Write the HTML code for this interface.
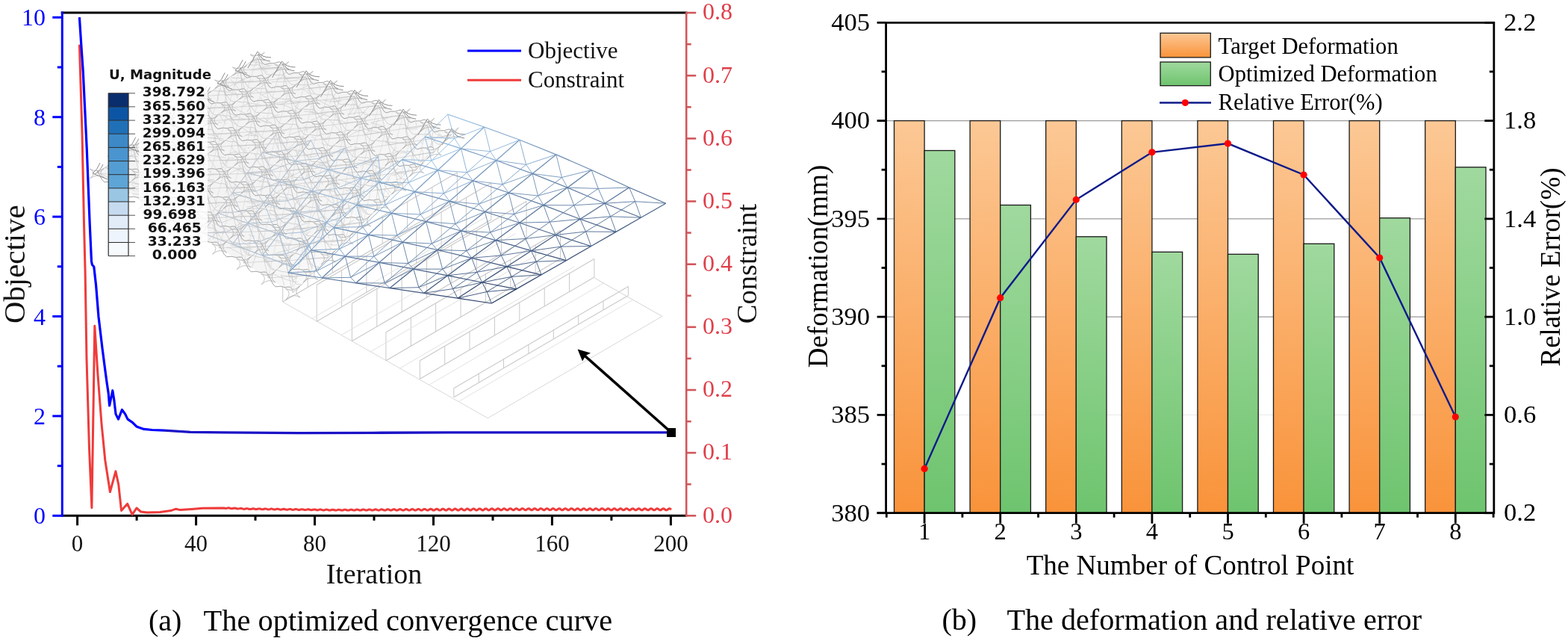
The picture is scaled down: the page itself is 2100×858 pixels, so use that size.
<!DOCTYPE html>
<html><head><meta charset="utf-8"><title>figure</title><style>
html,body{margin:0;padding:0;background:#fff;width:2100px;height:858px;overflow:hidden}
svg{display:block}
text{font-family:"Liberation Serif",serif}
.cb{font-family:"DejaVu Sans",sans-serif;font-weight:bold}
</style></head><body>
<svg width="2100" height="858" viewBox="0 0 2100 858">
<path d="M378.7,404.1 L653.2,559.7 L886.8,423.4" fill="none" stroke="#d8d8d8" stroke-width="1"/>
<path d="M378.7,404.1 L612.3,267.8 M378.7,367.4 L612.3,231.1" stroke="#c9c9c9" stroke-width="1.1" fill="none"/>
<line x1="378.7" y1="404.1" x2="378.7" y2="367.4" stroke="#c9c9c9" stroke-width="1"/>
<line x1="412.1" y1="384.6" x2="412.1" y2="347.9" stroke="#c9c9c9" stroke-width="1"/>
<line x1="445.4" y1="365.2" x2="445.4" y2="328.5" stroke="#c9c9c9" stroke-width="1"/>
<line x1="478.8" y1="345.7" x2="478.8" y2="309" stroke="#c9c9c9" stroke-width="1"/>
<line x1="512.2" y1="326.2" x2="512.2" y2="289.5" stroke="#c9c9c9" stroke-width="1"/>
<line x1="545.6" y1="306.7" x2="545.6" y2="270" stroke="#c9c9c9" stroke-width="1"/>
<line x1="578.9" y1="287.3" x2="578.9" y2="250.6" stroke="#c9c9c9" stroke-width="1"/>
<line x1="612.3" y1="267.8" x2="612.3" y2="231.1" stroke="#c9c9c9" stroke-width="1"/>
<path d="M424.2,430.3 L657.8,294 M424.2,381.3 L657.8,245" stroke="#c9c9c9" stroke-width="1.1" fill="none"/>
<line x1="424.2" y1="430.3" x2="424.2" y2="381.3" stroke="#c9c9c9" stroke-width="1"/>
<line x1="457.6" y1="410.8" x2="457.6" y2="361.8" stroke="#c9c9c9" stroke-width="1"/>
<line x1="490.9" y1="391.4" x2="490.9" y2="342.4" stroke="#c9c9c9" stroke-width="1"/>
<line x1="524.3" y1="371.9" x2="524.3" y2="322.9" stroke="#c9c9c9" stroke-width="1"/>
<line x1="557.7" y1="352.4" x2="557.7" y2="303.4" stroke="#c9c9c9" stroke-width="1"/>
<line x1="591.1" y1="332.9" x2="591.1" y2="283.9" stroke="#c9c9c9" stroke-width="1"/>
<line x1="624.4" y1="313.5" x2="624.4" y2="264.5" stroke="#c9c9c9" stroke-width="1"/>
<line x1="657.8" y1="294" x2="657.8" y2="245" stroke="#c9c9c9" stroke-width="1"/>
<path d="M471.4,456.6 L705,320.3 M471.4,405.9 L705,269.6" stroke="#c9c9c9" stroke-width="1.1" fill="none"/>
<line x1="471.4" y1="456.6" x2="471.4" y2="405.9" stroke="#c9c9c9" stroke-width="1"/>
<line x1="504.8" y1="437.1" x2="504.8" y2="386.4" stroke="#c9c9c9" stroke-width="1"/>
<line x1="538.1" y1="417.7" x2="538.1" y2="367" stroke="#c9c9c9" stroke-width="1"/>
<line x1="571.5" y1="398.2" x2="571.5" y2="347.5" stroke="#c9c9c9" stroke-width="1"/>
<line x1="604.9" y1="378.7" x2="604.9" y2="328" stroke="#c9c9c9" stroke-width="1"/>
<line x1="638.3" y1="359.2" x2="638.3" y2="308.5" stroke="#c9c9c9" stroke-width="1"/>
<line x1="671.6" y1="339.8" x2="671.6" y2="289.1" stroke="#c9c9c9" stroke-width="1"/>
<line x1="705" y1="320.3" x2="705" y2="269.6" stroke="#c9c9c9" stroke-width="1"/>
<path d="M516.9,482.8 L750.5,346.5 M516.9,444.8 L750.5,308.5" stroke="#c9c9c9" stroke-width="1.1" fill="none"/>
<line x1="516.9" y1="482.8" x2="516.9" y2="444.8" stroke="#c9c9c9" stroke-width="1"/>
<line x1="550.3" y1="463.3" x2="550.3" y2="425.3" stroke="#c9c9c9" stroke-width="1"/>
<line x1="583.6" y1="443.9" x2="583.6" y2="405.9" stroke="#c9c9c9" stroke-width="1"/>
<line x1="617" y1="424.4" x2="617" y2="386.4" stroke="#c9c9c9" stroke-width="1"/>
<line x1="650.4" y1="404.9" x2="650.4" y2="366.9" stroke="#c9c9c9" stroke-width="1"/>
<line x1="683.8" y1="385.4" x2="683.8" y2="347.4" stroke="#c9c9c9" stroke-width="1"/>
<line x1="717.1" y1="366" x2="717.1" y2="328" stroke="#c9c9c9" stroke-width="1"/>
<line x1="750.5" y1="346.5" x2="750.5" y2="308.5" stroke="#c9c9c9" stroke-width="1"/>
<path d="M562.3,507.3 L795.9,371 M562.3,482.8 L795.9,346.5" stroke="#c9c9c9" stroke-width="1.1" fill="none"/>
<line x1="562.3" y1="507.3" x2="562.3" y2="482.8" stroke="#c9c9c9" stroke-width="1"/>
<line x1="595.7" y1="487.8" x2="595.7" y2="463.3" stroke="#c9c9c9" stroke-width="1"/>
<line x1="629" y1="468.4" x2="629" y2="443.9" stroke="#c9c9c9" stroke-width="1"/>
<line x1="662.4" y1="448.9" x2="662.4" y2="424.4" stroke="#c9c9c9" stroke-width="1"/>
<line x1="695.8" y1="429.4" x2="695.8" y2="404.9" stroke="#c9c9c9" stroke-width="1"/>
<line x1="729.2" y1="409.9" x2="729.2" y2="385.4" stroke="#c9c9c9" stroke-width="1"/>
<line x1="762.5" y1="390.5" x2="762.5" y2="366" stroke="#c9c9c9" stroke-width="1"/>
<line x1="795.9" y1="371" x2="795.9" y2="346.5" stroke="#c9c9c9" stroke-width="1"/>
<path d="M607.8,531.7 L841.4,395.4 M607.8,519.7 L841.4,383.4" stroke="#c9c9c9" stroke-width="1.1" fill="none"/>
<line x1="607.8" y1="531.7" x2="607.8" y2="519.7" stroke="#c9c9c9" stroke-width="1"/>
<line x1="641.2" y1="512.2" x2="641.2" y2="500.2" stroke="#c9c9c9" stroke-width="1"/>
<line x1="674.5" y1="492.8" x2="674.5" y2="480.8" stroke="#c9c9c9" stroke-width="1"/>
<line x1="707.9" y1="473.3" x2="707.9" y2="461.3" stroke="#c9c9c9" stroke-width="1"/>
<line x1="741.3" y1="453.8" x2="741.3" y2="441.8" stroke="#c9c9c9" stroke-width="1"/>
<line x1="774.7" y1="434.3" x2="774.7" y2="422.3" stroke="#c9c9c9" stroke-width="1"/>
<line x1="808" y1="414.9" x2="808" y2="402.9" stroke="#c9c9c9" stroke-width="1"/>
<line x1="841.4" y1="395.4" x2="841.4" y2="383.4" stroke="#c9c9c9" stroke-width="1"/>
<line x1="886.8" y1="423.4" x2="796.2" y2="372.1" stroke="#d4d4d4" stroke-width="1"/>
<line x1="417.9" y1="426.3" x2="651.5" y2="290" stroke="#e2e2e2" stroke-width="1"/>
<line x1="457.1" y1="448.6" x2="690.7" y2="312.3" stroke="#e2e2e2" stroke-width="1"/>
<line x1="496.3" y1="470.8" x2="729.9" y2="334.5" stroke="#e2e2e2" stroke-width="1"/>
<line x1="535.6" y1="493" x2="769.2" y2="356.7" stroke="#e2e2e2" stroke-width="1"/>
<line x1="574.8" y1="515.2" x2="808.4" y2="378.9" stroke="#e2e2e2" stroke-width="1"/>
<line x1="614" y1="537.5" x2="847.6" y2="401.2" stroke="#e2e2e2" stroke-width="1"/>
<defs><linearGradient id="fog" gradientUnits="userSpaceOnUse" x1="380" y1="170" x2="505" y2="295"><stop offset="0" stop-color="#f3f3f3"/><stop offset="0.7" stop-color="#f5f5f5"/><stop offset="1" stop-color="#fbfbfb"/></linearGradient></defs>
<path d="M345,77 L605,180 L392,392 L130,232 Z" fill="url(#fog)"/>
<path d="M345,72.5 L348.2,78.5 L351.5,84.3 L354.8,86.6 L358,85.8 L361.2,84.6 L364.5,84.7 L367.8,84.7 L371,83.4 L374.2,82.8 L377.5,85.4 L380.8,91.4 L384,97.2 L387.2,99.5 L390.5,98.6 L393.8,97.5 L397,97.6 L400.2,97.5 L403.5,96.3 L406.8,95.6 L410,98.3 L413.2,104.3 L416.5,110.1 L419.8,112.4 L423,111.5 L426.2,110.4 L429.5,110.4 L432.8,110.4 L436,109.2 L439.2,108.5 L442.5,111.2 L445.8,117.2 L449,122.9 L452.2,125.2 L455.5,124.4 L458.8,123.3 L462,123.3 L465.2,123.3 L468.5,122.1 L471.8,121.4 L475,124 L478.2,130 L481.5,135.8 L484.8,138.1 L488,137.3 L491.2,136.1 L494.5,136.2 L497.8,136.2 L501,134.9 L504.2,134.3 L507.5,136.9 L510.8,142.9 L514,148.7 L517.2,151 L520.5,150.1 L523.8,149 L527,149.1 L530.2,149 L533.5,147.8 L536.8,147.1 L540,149.8 L543.2,155.8 L546.5,161.6 L549.8,163.9 L553,163 L556.2,161.9 L559.5,161.9 L562.8,161.9 L566,160.7 L569.2,160 L572.5,162.7 L575.8,168.7 L579,174.4 L582.2,176.7 L585.5,175.9 L588.8,174.8 L592,174.8 L595.2,174.8 L598.5,173.6 L601.8,172.9 L605,175.5" fill="none" stroke="#a2a2a2" stroke-width="1.0"/>
<path d="M333.1,86.4 L336.3,86.9 L339.6,87.3 L342.8,86.9 L346.1,86.8 L349.3,89.1 L352.6,93.7 L355.8,98.2 L359.1,100.2 L362.3,100.1 L365.6,99.7 L368.8,100.2 L372.1,100.6 L375.3,100.2 L378.6,100.1 L381.8,102.4 L385.1,107 L388.3,111.5 L391.6,113.5 L394.8,113.3 L398.1,113 L401.3,113.5 L404.6,113.9 L407.8,113.4 L411.1,113.4 L414.3,115.7 L417.6,120.3 L420.8,124.8 L424.1,126.8 L427.3,126.6 L430.6,126.3 L433.8,126.7 L437.1,127.1 L440.4,126.7 L443.6,126.7 L446.9,128.9 L450.1,133.6 L453.4,138 L456.6,140.1 L459.9,139.9 L463.1,139.5 L466.4,140 L469.6,140.4 L472.9,140 L476.1,139.9 L479.4,142.2 L482.6,146.8 L485.9,151.3 L489.1,153.3 L492.4,153.2 L495.6,152.8 L498.9,153.3 L502.1,153.7 L505.4,153.3 L508.6,153.2 L511.9,155.5 L515.1,160.1 L518.4,164.6 L521.6,166.6 L524.9,166.4 L528.1,166.1 L531.4,166.5 L534.6,166.9 L537.9,166.5 L541.1,166.5 L544.4,168.8 L547.6,173.4 L550.9,177.8 L554.1,179.9 L557.4,179.7 L560.7,179.3 L563.9,179.8 L567.2,180.2 L570.4,179.8 L573.7,179.7 L576.9,182 L580.2,186.6 L583.4,191.1 L586.7,193.1 L589.9,193 L593.2,192.6" fill="none" stroke="#c2c2c2" stroke-width="0.7"/>
<path d="M321.1,89.8 L324.4,95.8 L327.6,101.7 L330.9,104.1 L334.1,103.3 L337.4,102.2 L340.6,102.4 L343.9,102.4 L347.1,101.3 L350.4,100.7 L353.6,103.4 L356.9,109.5 L360.1,115.4 L363.4,117.7 L366.6,117 L369.9,115.9 L373.2,116 L376.4,116.1 L379.7,115 L382.9,114.4 L386.2,117.1 L389.4,123.2 L392.7,129 L395.9,131.4 L399.2,130.6 L402.4,129.6 L405.7,129.7 L408.9,129.8 L412.2,128.6 L415.4,128 L418.7,130.8 L421.9,136.8 L425.2,142.7 L428.5,145.1 L431.7,144.3 L435,143.2 L438.2,143.4 L441.5,143.4 L444.7,142.3 L448,141.7 L451.2,144.4 L454.5,150.5 L457.7,156.4 L461,158.7 L464.2,158 L467.5,156.9 L470.7,157 L474,157.1 L477.2,156 L480.5,155.4 L483.8,158.1 L487,164.2 L490.3,170 L493.5,172.4 L496.8,171.6 L500,170.6 L503.3,170.7 L506.5,170.8 L509.8,169.6 L513,169 L516.3,171.8 L519.5,177.8 L522.8,183.7 L526,186.1 L529.3,185.3 L532.5,184.2 L535.8,184.4 L539,184.4 L542.3,183.3 L545.6,182.7 L548.8,185.4 L552.1,191.5 L555.3,197.4 L558.6,199.7 L561.8,199 L565.1,197.9 L568.3,198 L571.6,198.1 L574.8,197 L578.1,196.4 L581.3,199.1" fill="none" stroke="#a2a2a2" stroke-width="1.0"/>
<path d="M309.2,103.7 L312.4,104.2 L315.7,104.7 L318.9,104.4 L322.2,104.4 L325.4,106.7 L328.7,111.4 L331.9,116 L335.2,118.1 L338.5,118 L341.7,117.7 L345,118.3 L348.2,118.8 L351.5,118.4 L354.7,118.4 L358,120.8 L361.2,125.5 L364.5,130.1 L367.7,132.2 L371,132.1 L374.2,131.8 L377.5,132.3 L380.8,132.8 L384,132.5 L387.3,132.5 L390.5,134.9 L393.8,139.6 L397,144.1 L400.3,146.2 L403.5,146.1 L406.8,145.9 L410,146.4 L413.3,146.9 L416.6,146.5 L419.8,146.6 L423.1,148.9 L426.3,153.6 L429.6,158.2 L432.8,160.3 L436.1,160.2 L439.3,159.9 L442.6,160.5 L445.8,160.9 L449.1,160.6 L452.4,160.6 L455.6,163 L458.9,167.7 L462.1,172.2 L465.4,174.4 L468.6,174.3 L471.9,174 L475.1,174.5 L478.4,175 L481.6,174.7 L484.9,174.7 L488.1,177.1 L491.4,181.8 L494.7,186.3 L497.9,188.4 L501.2,188.3 L504.4,188 L507.7,188.6 L510.9,189.1 L514.2,188.7 L517.4,188.8 L520.7,191.1 L523.9,195.8 L527.2,200.4 L530.5,202.5 L533.7,202.4 L537,202.1 L540.2,202.6 L543.5,203.1 L546.7,202.8 L550,202.8 L553.2,205.2 L556.5,209.9 L559.7,214.4 L563,216.5 L566.2,216.4 L569.5,216.2" fill="none" stroke="#c2c2c2" stroke-width="0.7"/>
<path d="M297.2,107 L300.5,113.1 L303.7,119.1 L307,121.5 L310.2,120.8 L313.5,119.9 L316.8,120.1 L320,120.2 L323.3,119.2 L326.5,118.6 L329.8,121.4 L333,127.6 L336.3,133.5 L339.5,136 L342.8,135.3 L346.1,134.3 L349.3,134.5 L352.6,134.7 L355.8,133.6 L359.1,133.1 L362.3,135.9 L365.6,142 L368.8,148 L372.1,150.4 L375.4,149.7 L378.6,148.8 L381.9,149 L385.1,149.1 L388.4,148.1 L391.6,147.6 L394.9,150.4 L398.1,156.5 L401.4,162.5 L404.7,164.9 L407.9,164.2 L411.2,163.2 L414.4,163.5 L417.7,163.6 L420.9,162.5 L424.2,162 L427.4,164.8 L430.7,171 L434,176.9 L437.2,179.4 L440.5,178.7 L443.7,177.7 L447,177.9 L450.2,178 L453.5,177 L456.7,176.5 L460,179.3 L463.3,185.4 L466.5,191.4 L469.8,193.8 L473,193.1 L476.3,192.2 L479.5,192.4 L482.8,192.5 L486,191.5 L489.3,190.9 L492.6,193.7 L495.8,199.9 L499.1,205.8 L502.3,208.3 L505.6,207.6 L508.8,206.6 L512.1,206.8 L515.3,207 L518.6,205.9 L521.9,205.4 L525.1,208.2 L528.4,214.3 L531.6,220.3 L534.9,222.7 L538.1,222 L541.4,221.1 L544.6,221.3 L547.9,221.4 L551.2,220.4 L554.4,219.8 L557.7,222.7" fill="none" stroke="#a2a2a2" stroke-width="1.0"/>
<path d="M285.3,120.9 L288.5,121.5 L291.8,122.1 L295,121.8 L298.3,121.9 L301.6,124.4 L304.8,129.1 L308.1,133.8 L311.3,136 L314.6,135.9 L317.8,135.7 L321.1,136.4 L324.4,136.9 L327.6,136.7 L330.9,136.8 L334.1,139.2 L337.4,144 L340.6,148.6 L343.9,150.8 L347.2,150.8 L350.4,150.6 L353.7,151.2 L356.9,151.8 L360.2,151.5 L363.4,151.6 L366.7,154.1 L370,158.8 L373.2,163.5 L376.5,165.7 L379.7,165.7 L383,165.5 L386.2,166.1 L389.5,166.6 L392.8,166.4 L396,166.5 L399.3,168.9 L402.5,173.7 L405.8,178.3 L409,180.5 L412.3,180.5 L415.6,180.3 L418.8,180.9 L422.1,181.5 L425.3,181.2 L428.6,181.3 L431.8,183.8 L435.1,188.6 L438.4,193.2 L441.6,195.4 L444.9,195.4 L448.1,195.2 L451.4,195.8 L454.6,196.3 L457.9,196.1 L461.2,196.2 L464.4,198.6 L467.7,203.4 L470.9,208 L474.2,210.2 L477.4,210.2 L480.7,210 L484,210.6 L487.2,211.2 L490.5,210.9 L493.7,211.1 L497,213.5 L500.2,218.3 L503.5,222.9 L506.8,225.1 L510,225.1 L513.3,224.9 L516.5,225.5 L519.8,226.1 L523,225.8 L526.3,225.9 L529.5,228.3 L532.8,233.1 L536.1,237.8 L539.3,239.9 L542.6,239.9 L545.8,239.7" fill="none" stroke="#c2c2c2" stroke-width="0.7"/>
<path d="M273.3,124.2 L276.6,130.4 L279.9,136.5 L283.1,139 L286.4,138.4 L289.6,137.5 L292.9,137.8 L296.1,138 L299.4,137 L302.7,136.6 L305.9,139.5 L309.2,145.7 L312.4,151.7 L315.7,154.2 L318.9,153.6 L322.2,152.7 L325.5,153 L328.7,153.2 L332,152.3 L335.2,151.8 L338.5,154.7 L341.8,160.9 L345,167 L348.3,169.5 L351.5,168.9 L354.8,168 L358.1,168.3 L361.3,168.5 L364.6,167.5 L367.8,167.1 L371.1,170 L374.3,176.2 L377.6,182.2 L380.9,184.7 L384.1,184.1 L387.4,183.2 L390.6,183.5 L393.9,183.7 L397.1,182.8 L400.4,182.3 L403.7,185.2 L406.9,191.4 L410.2,197.5 L413.4,200 L416.7,199.4 L420,198.5 L423.2,198.8 L426.5,199 L429.7,198 L433,197.6 L436.2,200.5 L439.5,206.7 L442.8,212.7 L446,215.2 L449.3,214.6 L452.5,213.7 L455.8,214 L459.1,214.2 L462.3,213.3 L465.6,212.8 L468.8,215.7 L472.1,221.9 L475.4,228 L478.6,230.5 L481.9,229.9 L485.1,229 L488.4,229.3 L491.6,229.5 L494.9,228.5 L498.2,228.1 L501.4,231 L504.7,237.2 L507.9,243.2 L511.2,245.7 L514.5,245.1 L517.7,244.2 L521,244.5 L524.2,244.7 L527.5,243.8 L530.7,243.3 L534,246.2" fill="none" stroke="#a2a2a2" stroke-width="1.0"/>
<path d="M261.4,138.1 L264.6,138.8 L267.9,139.5 L271.2,139.3 L274.4,139.5 L277.7,142 L280.9,146.8 L284.2,151.6 L287.5,153.8 L290.7,153.9 L294,153.8 L297.2,154.5 L300.5,155.1 L303.8,154.9 L307,155.1 L310.3,157.6 L313.5,162.5 L316.8,167.2 L320.1,169.5 L323.3,169.5 L326.6,169.4 L329.8,170.1 L333.1,170.7 L336.4,170.6 L339.6,170.8 L342.9,173.3 L346.1,178.1 L349.4,182.8 L352.7,185.1 L355.9,185.2 L359.2,185 L362.4,185.8 L365.7,186.4 L369,186.2 L372.2,186.4 L375.5,188.9 L378.7,193.8 L382,198.5 L385.3,200.8 L388.5,200.8 L391.8,200.7 L395,201.4 L398.3,202 L401.6,201.9 L404.8,202 L408.1,204.6 L411.3,209.4 L414.6,214.1 L417.9,216.4 L421.1,216.5 L424.4,216.3 L427.6,217 L430.9,217.7 L434.2,217.5 L437.4,217.7 L440.7,220.2 L443.9,225.1 L447.2,229.8 L450.5,232 L453.7,232.1 L457,232 L460.2,232.7 L463.5,233.3 L466.8,233.2 L470,233.3 L473.3,235.9 L476.5,240.7 L479.8,245.4 L483.1,247.7 L486.3,247.8 L489.6,247.6 L492.8,248.3 L496.1,249 L499.3,248.8 L502.6,249 L505.9,251.5 L509.1,256.4 L512.4,261.1 L515.6,263.3 L518.9,263.4 L522.2,263.3" fill="none" stroke="#c2c2c2" stroke-width="0.7"/>
<path d="M249.4,141.4 L252.7,147.7 L256,153.8 L259.2,156.4 L262.5,155.9 L265.8,155.1 L269,155.5 L272.3,155.8 L275.5,154.9 L278.8,154.5 L282.1,157.5 L285.3,163.8 L288.6,169.9 L291.8,172.5 L295.1,171.9 L298.4,171.1 L301.6,171.5 L304.9,171.8 L308.1,170.9 L311.4,170.6 L314.7,173.5 L317.9,179.8 L321.2,185.9 L324.4,188.5 L327.7,188 L331,187.2 L334.2,187.6 L337.5,187.8 L340.8,187 L344,186.6 L347.3,189.6 L350.5,195.9 L353.8,202 L357.1,204.6 L360.3,204 L363.6,203.2 L366.8,203.6 L370.1,203.9 L373.4,203 L376.6,202.6 L379.9,205.6 L383.1,211.9 L386.4,218 L389.7,220.6 L392.9,220.1 L396.2,219.3 L399.5,219.6 L402.7,219.9 L406,219 L409.2,218.7 L412.5,221.6 L415.8,227.9 L419,234.1 L422.3,236.7 L425.5,236.1 L428.8,235.3 L432.1,235.7 L435.3,236 L438.6,235.1 L441.9,234.7 L445.1,237.7 L448.4,244 L451.6,250.1 L454.9,252.7 L458.2,252.2 L461.4,251.4 L464.7,251.7 L467.9,252 L471.2,251.1 L474.5,250.8 L477.7,253.7 L481,260 L484.2,266.1 L487.5,268.7 L490.8,268.2 L494,267.4 L497.3,267.8 L500.6,268 L503.8,267.2 L507.1,266.8 L510.3,269.8" fill="none" stroke="#a2a2a2" stroke-width="1.0"/>
<path d="M237.5,155.3 L240.8,156.1 L244,156.8 L247.3,156.7 L250.6,157 L253.8,159.6 L257.1,164.5 L260.3,169.3 L263.6,171.7 L266.9,171.8 L270.1,171.8 L273.4,172.6 L276.6,173.3 L279.9,173.2 L283.2,173.4 L286.4,176 L289.7,181 L293,185.8 L296.2,188.1 L299.5,188.3 L302.8,188.2 L306,189 L309.3,189.7 L312.5,189.6 L315.8,189.9 L319.1,192.5 L322.3,197.4 L325.6,202.2 L328.9,204.5 L332.1,204.7 L335.4,204.6 L338.6,205.4 L341.9,206.1 L345.2,206 L348.4,206.3 L351.7,208.9 L354.9,213.8 L358.2,218.6 L361.5,221 L364.7,221.1 L368,221.1 L371.3,221.9 L374.5,222.6 L377.8,222.5 L381.1,222.8 L384.3,225.4 L387.6,230.3 L390.8,235.1 L394.1,237.4 L397.4,237.6 L400.6,237.5 L403.9,238.3 L407.1,239 L410.4,238.9 L413.7,239.2 L416.9,241.8 L420.2,246.7 L423.5,251.5 L426.7,253.9 L430,254 L433.2,254 L436.5,254.7 L439.8,255.5 L443,255.4 L446.3,255.6 L449.6,258.2 L452.8,263.2 L456.1,268 L459.4,270.3 L462.6,270.4 L465.9,270.4 L469.1,271.2 L472.4,271.9 L475.7,271.8 L478.9,272.1 L482.2,274.7 L485.4,279.6 L488.7,284.4 L492,286.7 L495.2,286.9 L498.5,286.8" fill="none" stroke="#c2c2c2" stroke-width="0.7"/>
<path d="M225.6,158.7 L228.8,165 L232.1,171.2 L235.3,173.9 L238.6,173.4 L241.9,172.7 L245.1,173.2 L248.4,173.5 L251.7,172.7 L254.9,172.4 L258.2,175.5 L261.5,181.9 L264.7,188.1 L268,190.7 L271.2,190.3 L274.5,189.6 L277.8,190 L281,190.4 L284.3,189.6 L287.6,189.3 L290.8,192.3 L294.1,198.7 L297.4,204.9 L300.6,207.6 L303.9,207.1 L307.2,206.4 L310.4,206.8 L313.7,207.2 L316.9,206.4 L320.2,206.1 L323.5,209.2 L326.7,215.5 L330,221.7 L333.3,224.4 L336.5,223.9 L339.8,223.2 L343.1,223.7 L346.3,224 L349.6,223.2 L352.8,222.9 L356.1,226 L359.4,232.4 L362.6,238.6 L365.9,241.2 L369.2,240.8 L372.4,240.1 L375.7,240.5 L379,240.9 L382.2,240.1 L385.5,239.8 L388.8,242.8 L392,249.2 L395.3,255.4 L398.5,258.1 L401.8,257.6 L405.1,256.9 L408.3,257.3 L411.6,257.7 L414.9,256.9 L418.1,256.6 L421.4,259.7 L424.7,266 L427.9,272.2 L431.2,274.9 L434.4,274.4 L437.7,273.7 L441,274.2 L444.2,274.5 L447.5,273.7 L450.8,273.4 L454,276.5 L457.3,282.9 L460.6,289.1 L463.8,291.7 L467.1,291.3 L470.3,290.6 L473.6,291 L476.9,291.4 L480.1,290.6 L483.4,290.3 L486.7,293.3" fill="none" stroke="#a2a2a2" stroke-width="1.0"/>
<path d="M213.6,172.6 L216.9,173.4 L220.1,174.2 L223.4,174.2 L226.7,174.5 L229.9,177.2 L233.2,182.2 L236.5,187.1 L239.7,189.5 L243,189.8 L246.3,189.8 L249.5,190.6 L252.8,191.4 L256.1,191.4 L259.3,191.8 L262.6,194.4 L265.9,199.5 L269.1,204.3 L272.4,206.8 L275.7,207 L278.9,207 L282.2,207.9 L285.4,208.7 L288.7,208.7 L292,209 L295.2,211.7 L298.5,216.7 L301.8,221.6 L305,224 L308.3,224.2 L311.6,224.2 L314.8,225.1 L318.1,225.9 L321.4,225.9 L324.6,226.2 L327.9,228.9 L331.2,233.9 L334.4,238.8 L337.7,241.2 L341,241.4 L344.2,241.5 L347.5,242.3 L350.8,243.1 L354,243.1 L357.3,243.5 L360.5,246.1 L363.8,251.1 L367.1,256 L370.3,258.4 L373.6,258.7 L376.9,258.7 L380.1,259.6 L383.4,260.4 L386.7,260.3 L389.9,260.7 L393.2,263.4 L396.5,268.4 L399.7,273.2 L403,275.7 L406.3,275.9 L409.5,275.9 L412.8,276.8 L416.1,277.6 L419.3,277.6 L422.6,277.9 L425.9,280.6 L429.1,285.6 L432.4,290.5 L435.6,292.9 L438.9,293.1 L442.2,293.2 L445.4,294 L448.7,294.8 L452,294.8 L455.2,295.1 L458.5,297.8 L461.8,302.8 L465,307.7 L468.3,310.1 L471.6,310.4 L474.8,310.4" fill="none" stroke="#c2c2c2" stroke-width="0.7"/>
<path d="M201.7,175.9 L204.9,182.3 L208.2,188.6 L211.5,191.4 L214.7,191 L218,190.3 L221.3,190.9 L224.5,191.3 L227.8,190.6 L231.1,190.4 L234.3,193.5 L237.6,200 L240.9,206.2 L244.1,209 L247.4,208.6 L250.7,208 L253.9,208.5 L257.2,208.9 L260.5,208.2 L263.7,208 L267,211.1 L270.3,217.6 L273.5,223.9 L276.8,226.6 L280.1,226.2 L283.3,225.6 L286.6,226.1 L289.9,226.6 L293.1,225.8 L296.4,225.6 L299.7,228.8 L302.9,235.2 L306.2,241.5 L309.5,244.2 L312.7,243.9 L316,243.2 L319.3,243.7 L322.5,244.2 L325.8,243.5 L329.1,243.3 L332.3,246.4 L335.6,252.8 L338.9,259.1 L342.1,261.9 L345.4,261.5 L348.7,260.8 L351.9,261.4 L355.2,261.8 L358.5,261.1 L361.7,260.9 L365,264 L368.3,270.5 L371.5,276.7 L374.8,279.5 L378.1,279.1 L381.3,278.5 L384.6,279 L387.9,279.4 L391.1,278.7 L394.4,278.5 L397.7,281.6 L400.9,288.1 L404.2,294.4 L407.5,297.1 L410.7,296.7 L414,296.1 L417.3,296.6 L420.5,297.1 L423.8,296.3 L427.1,296.1 L430.3,299.3 L433.6,305.7 L436.9,312 L440.1,314.7 L443.4,314.4 L446.7,313.7 L449.9,314.2 L453.2,314.7 L456.5,314 L459.7,313.8 L463,316.9" fill="none" stroke="#a2a2a2" stroke-width="1.0"/>
<path d="M189.7,189.8 L193,190.7 L196.3,191.6 L199.5,191.7 L202.8,192.1 L206.1,194.8 L209.3,199.9 L212.6,204.9 L215.9,207.4 L219.1,207.7 L222.4,207.8 L225.7,208.7 L228.9,209.6 L232.2,209.7 L235.5,210.1 L238.7,212.9 L242,217.9 L245.3,222.9 L248.5,225.4 L251.8,225.7 L255.1,225.8 L258.4,226.8 L261.6,227.6 L264.9,227.7 L268.2,228.1 L271.4,230.9 L274.7,236 L278,240.9 L281.2,243.4 L284.5,243.7 L287.8,243.8 L291,244.8 L294.3,245.7 L297.6,245.7 L300.8,246.1 L304.1,248.9 L307.4,254 L310.6,258.9 L313.9,261.4 L317.2,261.7 L320.4,261.9 L323.7,262.8 L327,263.7 L330.2,263.7 L333.5,264.2 L336.8,266.9 L340.1,272 L343.3,277 L346.6,279.5 L349.9,279.8 L353.1,279.9 L356.4,280.8 L359.7,281.7 L362.9,281.8 L366.2,282.2 L369.5,284.9 L372.7,290 L376,295 L379.3,297.5 L382.5,297.8 L385.8,297.9 L389.1,298.8 L392.3,299.7 L395.6,299.8 L398.9,300.2 L402.1,303 L405.4,308.1 L408.7,313 L411.9,315.5 L415.2,315.8 L418.5,315.9 L421.8,316.9 L425,317.7 L428.3,317.8 L431.6,318.2 L434.8,321 L438.1,326.1 L441.4,331 L444.6,333.5 L447.9,333.8 L451.2,333.9" fill="none" stroke="#c2c2c2" stroke-width="0.7"/>
<path d="M177.8,193.1 L181,199.6 L184.3,206 L187.6,208.8 L190.9,208.5 L194.1,208 L197.4,208.6 L200.7,209.1 L203.9,208.4 L207.2,208.3 L210.5,211.5 L213.7,218.1 L217,224.4 L220.3,227.2 L223.5,226.9 L226.8,226.4 L230.1,227 L233.4,227.5 L236.6,226.9 L239.9,226.7 L243.2,229.9 L246.4,236.5 L249.7,242.8 L253,245.7 L256.2,245.4 L259.5,244.8 L262.8,245.4 L266.1,245.9 L269.3,245.3 L272.6,245.1 L275.9,248.4 L279.1,254.9 L282.4,261.2 L285.7,264.1 L288.9,263.8 L292.2,263.2 L295.5,263.8 L298.7,264.3 L302,263.7 L305.3,263.6 L308.6,266.8 L311.8,273.3 L315.1,279.7 L318.4,282.5 L321.6,282.2 L324.9,281.6 L328.2,282.2 L331.4,282.8 L334.7,282.1 L338,282 L341.2,285.2 L344.5,291.7 L347.8,298.1 L351.1,300.9 L354.3,300.6 L357.6,300 L360.9,300.6 L364.1,301.2 L367.4,300.5 L370.7,300.4 L373.9,303.6 L377.2,310.1 L380.5,316.5 L383.8,319.3 L387,319 L390.3,318.5 L393.6,319.1 L396.8,319.6 L400.1,318.9 L403.4,318.8 L406.6,322 L409.9,328.6 L413.2,334.9 L416.4,337.7 L419.7,337.4 L423,336.9 L426.3,337.5 L429.5,338 L432.8,337.4 L436.1,337.2 L439.3,340.4" fill="none" stroke="#a2a2a2" stroke-width="1.0"/>
<path d="M165.8,207 L169.1,208 L172.4,209 L175.6,209.1 L178.9,209.6 L182.2,212.5 L185.5,217.6 L188.7,222.7 L192,225.2 L195.3,225.6 L198.5,225.8 L201.8,226.8 L205.1,227.8 L208.4,227.9 L211.6,228.4 L214.9,231.3 L218.2,236.4 L221.4,241.5 L224.7,244 L228,244.4 L231.2,244.6 L234.5,245.6 L237.8,246.6 L241.1,246.7 L244.3,247.2 L247.6,250.1 L250.9,255.2 L254.1,260.3 L257.4,262.9 L260.7,263.2 L264,263.4 L267.2,264.5 L270.5,265.4 L273.8,265.6 L277,266.1 L280.3,268.9 L283.6,274.1 L286.9,279.1 L290.1,281.7 L293.4,282.1 L296.7,282.3 L299.9,283.3 L303.2,284.2 L306.5,284.4 L309.8,284.9 L313,287.7 L316.3,292.9 L319.6,297.9 L322.8,300.5 L326.1,300.9 L329.4,301.1 L332.6,302.1 L335.9,303 L339.2,303.2 L342.5,303.7 L345.7,306.5 L349,311.7 L352.3,316.7 L355.5,319.3 L358.8,319.7 L362.1,319.9 L365.4,320.9 L368.6,321.9 L371.9,322 L375.2,322.5 L378.4,325.3 L381.7,330.5 L385,335.5 L388.2,338.1 L391.5,338.5 L394.8,338.7 L398.1,339.7 L401.3,340.7 L404.6,340.8 L407.9,341.3 L411.1,344.1 L414.4,349.3 L417.7,354.3 L421,356.9 L424.2,357.3 L427.5,357.5" fill="none" stroke="#c2c2c2" stroke-width="0.7"/>
<path d="M153.9,210.3 L157.2,216.9 L160.4,223.4 L163.7,226.3 L167,226.1 L170.2,225.6 L173.5,226.3 L176.8,226.9 L180.1,226.3 L183.3,226.2 L186.6,229.5 L189.9,236.1 L193.2,242.6 L196.4,245.5 L199.7,245.3 L203,244.8 L206.2,245.5 L209.5,246.1 L212.8,245.5 L216.1,245.5 L219.3,248.7 L222.6,255.4 L225.9,261.8 L229.2,264.7 L232.4,264.5 L235.7,264 L239,264.7 L242.2,265.3 L245.5,264.7 L248.8,264.7 L252.1,267.9 L255.3,274.6 L258.6,281 L261.9,283.9 L265.1,283.7 L268.4,283.2 L271.7,283.9 L275,284.5 L278.2,283.9 L281.5,283.9 L284.8,287.2 L288,293.8 L291.3,300.2 L294.6,303.1 L297.9,302.9 L301.1,302.4 L304.4,303.1 L307.7,303.7 L311,303.1 L314.2,303.1 L317.5,306.4 L320.8,313 L324,319.4 L327.3,322.3 L330.6,322.1 L333.9,321.6 L337.1,322.3 L340.4,322.9 L343.7,322.3 L347,322.3 L350.2,325.6 L353.5,332.2 L356.8,338.6 L360,341.5 L363.3,341.3 L366.6,340.8 L369.9,341.5 L373.1,342.1 L376.4,341.5 L379.7,341.5 L382.9,344.8 L386.2,351.4 L389.5,357.8 L392.8,360.7 L396,360.5 L399.3,360 L402.6,360.7 L405.9,361.3 L409.1,360.8 L412.4,360.7 L415.7,364" fill="none" stroke="#a2a2a2" stroke-width="1.0"/>
<path d="M141.9,224.2 L145.2,225.3 L148.5,226.4 L151.8,226.6 L155,227.2 L158.3,230.1 L161.6,235.3 L164.9,240.4 L168.1,243.1 L171.4,243.6 L174.7,243.8 L178,244.9 L181.2,246 L184.5,246.2 L187.8,246.8 L191,249.7 L194.3,254.9 L197.6,260 L200.9,262.7 L204.1,263.2 L207.4,263.4 L210.7,264.5 L214,265.6 L217.2,265.8 L220.5,266.4 L223.8,269.3 L227.1,274.5 L230.3,279.6 L233.6,282.3 L236.9,282.8 L240.2,283 L243.4,284.1 L246.7,285.2 L250,285.4 L253.2,286 L256.5,288.9 L259.8,294.1 L263.1,299.2 L266.3,301.9 L269.6,302.4 L272.9,302.6 L276.2,303.7 L279.4,304.8 L282.7,305 L286,305.6 L289.3,308.5 L292.5,313.7 L295.8,318.8 L299.1,321.5 L302.4,322 L305.6,322.2 L308.9,323.3 L312.2,324.4 L315.4,324.6 L318.7,325.2 L322,328.1 L325.3,333.3 L328.5,338.5 L331.8,341.1 L335.1,341.6 L338.4,341.8 L341.6,342.9 L344.9,344 L348.2,344.2 L351.5,344.8 L354.7,347.7 L358,352.9 L361.3,358.1 L364.5,360.7 L367.8,361.2 L371.1,361.5 L374.4,362.5 L377.6,363.6 L380.9,363.8 L384.2,364.4 L387.5,367.3 L390.7,372.5 L394,377.7 L397.3,380.3 L400.6,380.8 L403.8,381.1" fill="none" stroke="#c2c2c2" stroke-width="0.7"/>
<path d="M130,227.5 L133.3,234.2 L136.6,240.7 L139.8,243.7 L143.1,243.6 L146.4,243.2 L149.7,244 L152.9,244.6 L156.2,244.1 L159.5,244.2 L162.8,247.5 L166,254.2 L169.3,260.7 L172.6,263.7 L175.8,263.6 L179.1,263.2 L182.4,264 L185.7,264.6 L188.9,264.1 L192.2,264.2 L195.5,267.5 L198.8,274.2 L202.1,280.7 L205.3,283.7 L208.6,283.6 L211.9,283.2 L215.2,284 L218.4,284.6 L221.7,284.1 L225,284.2 L228.2,287.5 L231.5,294.2 L234.8,300.7 L238.1,303.7 L241.3,303.6 L244.6,303.2 L247.9,304 L251.2,304.6 L254.4,304.1 L257.7,304.2 L261,307.5 L264.3,314.2 L267.6,320.7 L270.8,323.7 L274.1,323.6 L277.4,323.2 L280.6,324 L283.9,324.6 L287.2,324.1 L290.5,324.2 L293.8,327.5 L297,334.2 L300.3,340.7 L303.6,343.7 L306.9,343.6 L310.1,343.2 L313.4,344 L316.7,344.6 L319.9,344.1 L323.2,344.2 L326.5,347.5 L329.8,354.2 L333.1,360.7 L336.3,363.7 L339.6,363.6 L342.9,363.2 L346.1,364 L349.4,364.6 L352.7,364.1 L356,364.2 L359.2,367.5 L362.5,374.2 L365.8,380.7 L369.1,383.7 L372.4,383.6 L375.6,383.2 L378.9,384 L382.2,384.6 L385.4,384.1 L388.7,384.2 L392,387.5" fill="none" stroke="#a2a2a2" stroke-width="1.0"/>
<path d="M345,77 Q332.4,84.2 321.1,94.2" fill="none" stroke="#b0b0b0" stroke-width="0.7"/>
<path d="M345,77 Q349.9,90.7 353.6,107.9" fill="none" stroke="#c4c4c4" stroke-width="0.6"/>
<path d="M345,77 Q347.3,84.1 349.3,92.2" fill="none" stroke="#bcbcbc" stroke-width="0.6"/>
<path d="M345,77 Q335.6,101.5 329.8,125.9" fill="none" stroke="#d0d0d0" stroke-width="0.5"/>
<path d="M321.1,94.2 Q307.3,102.6 297.2,111.4" fill="none" stroke="#b0b0b0" stroke-width="0.7"/>
<path d="M321.1,94.2 Q323.7,108.4 329.8,125.9" fill="none" stroke="#c4c4c4" stroke-width="0.6"/>
<path d="M321.1,94.2 Q323,103.4 325.4,109.9" fill="none" stroke="#bcbcbc" stroke-width="0.6"/>
<path d="M321.1,94.2 Q312,118 305.9,143.9" fill="none" stroke="#d0d0d0" stroke-width="0.5"/>
<path d="M297.2,111.4 Q285.8,121.8 273.3,128.7" fill="none" stroke="#b0b0b0" stroke-width="0.7"/>
<path d="M297.2,111.4 Q301.9,127.3 305.9,143.9" fill="none" stroke="#c4c4c4" stroke-width="0.6"/>
<path d="M297.2,111.4 Q301.3,117.6 301.6,127.5" fill="none" stroke="#bcbcbc" stroke-width="0.6"/>
<path d="M297.2,111.4 Q291.1,135.8 282.1,161.9" fill="none" stroke="#d0d0d0" stroke-width="0.5"/>
<path d="M273.3,128.7 Q260,135.7 249.4,145.9" fill="none" stroke="#b0b0b0" stroke-width="0.7"/>
<path d="M273.3,128.7 Q276.9,146.6 282.1,161.9" fill="none" stroke="#c4c4c4" stroke-width="0.6"/>
<path d="M273.3,128.7 Q274.2,137.2 277.7,145.1" fill="none" stroke="#bcbcbc" stroke-width="0.6"/>
<path d="M273.3,128.7 Q266.3,153.8 258.2,179.9" fill="none" stroke="#d0d0d0" stroke-width="0.5"/>
<path d="M249.4,145.9 Q237.7,152.8 225.6,163.1" fill="none" stroke="#b0b0b0" stroke-width="0.7"/>
<path d="M249.4,145.9 Q252.1,161.7 258.2,179.9" fill="none" stroke="#c4c4c4" stroke-width="0.6"/>
<path d="M249.4,145.9 Q252.4,154 253.8,162.7" fill="none" stroke="#bcbcbc" stroke-width="0.6"/>
<path d="M249.4,145.9 Q241.1,172.3 234.3,198" fill="none" stroke="#d0d0d0" stroke-width="0.5"/>
<path d="M225.6,163.1 Q213.4,170.9 201.7,180.3" fill="none" stroke="#b0b0b0" stroke-width="0.7"/>
<path d="M225.6,163.1 Q231.1,181.3 234.3,198" fill="none" stroke="#c4c4c4" stroke-width="0.6"/>
<path d="M225.6,163.1 Q226.7,172 229.9,180.3" fill="none" stroke="#bcbcbc" stroke-width="0.6"/>
<path d="M225.6,163.1 Q218.1,191 210.5,216" fill="none" stroke="#d0d0d0" stroke-width="0.5"/>
<path d="M201.7,180.3 Q190.6,188.1 177.8,197.6" fill="none" stroke="#b0b0b0" stroke-width="0.7"/>
<path d="M201.7,180.3 Q208,196.6 210.5,216" fill="none" stroke="#c4c4c4" stroke-width="0.6"/>
<path d="M201.7,180.3 Q203.5,190.2 206.1,198" fill="none" stroke="#bcbcbc" stroke-width="0.6"/>
<path d="M201.7,180.3 Q192.7,207.1 186.6,234" fill="none" stroke="#d0d0d0" stroke-width="0.5"/>
<path d="M177.8,197.6 Q164,206.8 153.9,214.8" fill="none" stroke="#b0b0b0" stroke-width="0.7"/>
<path d="M177.8,197.6 Q183.3,216.1 186.6,234" fill="none" stroke="#c4c4c4" stroke-width="0.6"/>
<path d="M177.8,197.6 Q181.5,205.8 182.2,215.6" fill="none" stroke="#bcbcbc" stroke-width="0.6"/>
<path d="M177.8,197.6 Q171,225.2 162.8,252" fill="none" stroke="#d0d0d0" stroke-width="0.5"/>
<path d="M153.9,214.8 Q142.3,223.2 130,232" fill="none" stroke="#b0b0b0" stroke-width="0.7"/>
<path d="M153.9,214.8 Q159.7,235.2 162.8,252" fill="none" stroke="#c4c4c4" stroke-width="0.6"/>
<path d="M153.9,214.8 Q156,224.6 158.3,233.2" fill="none" stroke="#bcbcbc" stroke-width="0.6"/>
<path d="M377.5,89.9 Q363.8,99.7 353.6,107.9" fill="none" stroke="#b0b0b0" stroke-width="0.7"/>
<path d="M377.5,89.9 Q382.4,107.7 386.2,121.6" fill="none" stroke="#c4c4c4" stroke-width="0.6"/>
<path d="M377.5,89.9 Q350.6,91.2 321.1,94.2" fill="none" stroke="#c4c4c4" stroke-width="0.6"/>
<path d="M377.5,89.9 Q379.2,98.4 381.8,105.5" fill="none" stroke="#bcbcbc" stroke-width="0.6"/>
<path d="M377.5,89.9 Q361.5,90.9 349.3,92.2" fill="none" stroke="#bcbcbc" stroke-width="0.6"/>
<path d="M377.5,89.9 Q368.6,113.6 362.3,140.4" fill="none" stroke="#d0d0d0" stroke-width="0.5"/>
<path d="M353.6,107.9 Q339.9,118 329.8,125.9" fill="none" stroke="#b0b0b0" stroke-width="0.7"/>
<path d="M353.6,107.9 Q356.5,123.1 362.3,140.4" fill="none" stroke="#c4c4c4" stroke-width="0.6"/>
<path d="M353.6,107.9 Q325,111.2 297.2,111.4" fill="none" stroke="#c4c4c4" stroke-width="0.6"/>
<path d="M353.6,107.9 Q354.1,115.7 358,123.9" fill="none" stroke="#bcbcbc" stroke-width="0.6"/>
<path d="M353.6,107.9 Q339.7,110.4 325.4,109.9" fill="none" stroke="#bcbcbc" stroke-width="0.6"/>
<path d="M353.6,107.9 Q347.3,135 338.5,159.2" fill="none" stroke="#d0d0d0" stroke-width="0.5"/>
<path d="M329.8,125.9 Q317,134.6 305.9,143.9" fill="none" stroke="#b0b0b0" stroke-width="0.7"/>
<path d="M329.8,125.9 Q333.6,144.1 338.5,159.2" fill="none" stroke="#c4c4c4" stroke-width="0.6"/>
<path d="M329.8,125.9 Q303.4,125.9 273.3,128.7" fill="none" stroke="#c4c4c4" stroke-width="0.6"/>
<path d="M329.8,125.9 Q330.7,133 334.1,142.3" fill="none" stroke="#bcbcbc" stroke-width="0.6"/>
<path d="M329.8,125.9 Q314.6,126.6 301.6,127.5" fill="none" stroke="#bcbcbc" stroke-width="0.6"/>
<path d="M329.8,125.9 Q322.6,151 314.7,178" fill="none" stroke="#d0d0d0" stroke-width="0.5"/>
<path d="M305.9,143.9 Q292,152.6 282.1,161.9" fill="none" stroke="#b0b0b0" stroke-width="0.7"/>
<path d="M305.9,143.9 Q309.8,161.2 314.7,178" fill="none" stroke="#c4c4c4" stroke-width="0.6"/>
<path d="M305.9,143.9 Q279.5,145.7 249.4,145.9" fill="none" stroke="#c4c4c4" stroke-width="0.6"/>
<path d="M305.9,143.9 Q308.2,152.8 310.3,160.7" fill="none" stroke="#bcbcbc" stroke-width="0.6"/>
<path d="M305.9,143.9 Q292.5,142.7 277.7,145.1" fill="none" stroke="#bcbcbc" stroke-width="0.6"/>
<path d="M305.9,143.9 Q300,171.5 290.8,196.8" fill="none" stroke="#d0d0d0" stroke-width="0.5"/>
<path d="M282.1,161.9 Q271.6,172.1 258.2,179.9" fill="none" stroke="#b0b0b0" stroke-width="0.7"/>
<path d="M282.1,161.9 Q286,179 290.8,196.8" fill="none" stroke="#c4c4c4" stroke-width="0.6"/>
<path d="M282.1,161.9 Q252.2,163.1 225.6,163.1" fill="none" stroke="#c4c4c4" stroke-width="0.6"/>
<path d="M282.1,161.9 Q282.5,168.8 286.4,179.2" fill="none" stroke="#bcbcbc" stroke-width="0.6"/>
<path d="M282.1,161.9 Q266.8,161 253.8,162.7" fill="none" stroke="#bcbcbc" stroke-width="0.6"/>
<path d="M282.1,161.9 Q273.9,187 267,215.6" fill="none" stroke="#d0d0d0" stroke-width="0.5"/>
<path d="M258.2,179.9 Q244.3,187.6 234.3,198" fill="none" stroke="#b0b0b0" stroke-width="0.7"/>
<path d="M258.2,179.9 Q261,197.2 267,215.6" fill="none" stroke="#c4c4c4" stroke-width="0.6"/>
<path d="M258.2,179.9 Q228,181.6 201.7,180.3" fill="none" stroke="#c4c4c4" stroke-width="0.6"/>
<path d="M258.2,179.9 Q260.8,187.3 262.6,197.6" fill="none" stroke="#bcbcbc" stroke-width="0.6"/>
<path d="M258.2,179.9 Q243.1,179.5 229.9,180.3" fill="none" stroke="#bcbcbc" stroke-width="0.6"/>
<path d="M258.2,179.9 Q250.1,205.7 243.2,234.4" fill="none" stroke="#d0d0d0" stroke-width="0.5"/>
<path d="M234.3,198 Q223.8,208.9 210.5,216" fill="none" stroke="#b0b0b0" stroke-width="0.7"/>
<path d="M234.3,198 Q238.6,216.1 243.2,234.4" fill="none" stroke="#c4c4c4" stroke-width="0.6"/>
<path d="M234.3,198 Q204.4,196.2 177.8,197.6" fill="none" stroke="#c4c4c4" stroke-width="0.6"/>
<path d="M234.3,198 Q235.9,206 238.7,216" fill="none" stroke="#bcbcbc" stroke-width="0.6"/>
<path d="M234.3,198 Q221.5,196.6 206.1,198" fill="none" stroke="#bcbcbc" stroke-width="0.6"/>
<path d="M234.3,198 Q224.9,227.4 219.3,253.2" fill="none" stroke="#d0d0d0" stroke-width="0.5"/>
<path d="M210.5,216 Q198.7,223.6 186.6,234" fill="none" stroke="#b0b0b0" stroke-width="0.7"/>
<path d="M210.5,216 Q215.1,232.7 219.3,253.2" fill="none" stroke="#c4c4c4" stroke-width="0.6"/>
<path d="M210.5,216 Q182.3,217.3 153.9,214.8" fill="none" stroke="#c4c4c4" stroke-width="0.6"/>
<path d="M210.5,216 Q214.1,226 214.9,234.4" fill="none" stroke="#bcbcbc" stroke-width="0.6"/>
<path d="M210.5,216 Q195.4,215.2 182.2,215.6" fill="none" stroke="#bcbcbc" stroke-width="0.6"/>
<path d="M210.5,216 Q201.7,245.1 195.5,272" fill="none" stroke="#d0d0d0" stroke-width="0.5"/>
<path d="M186.6,234 Q174.8,244.1 162.8,252" fill="none" stroke="#b0b0b0" stroke-width="0.7"/>
<path d="M186.6,234 Q190.4,251.9 195.5,272" fill="none" stroke="#c4c4c4" stroke-width="0.6"/>
<path d="M186.6,234 Q159.6,234.9 130,232" fill="none" stroke="#c4c4c4" stroke-width="0.6"/>
<path d="M186.6,234 Q190.2,244.6 191,252.8" fill="none" stroke="#bcbcbc" stroke-width="0.6"/>
<path d="M186.6,234 Q173.7,234.5 158.3,233.2" fill="none" stroke="#bcbcbc" stroke-width="0.6"/>
<path d="M410,102.8 Q397,112.2 386.2,121.6" fill="none" stroke="#b0b0b0" stroke-width="0.7"/>
<path d="M410,102.8 Q413.8,117.1 418.7,135.2" fill="none" stroke="#c4c4c4" stroke-width="0.6"/>
<path d="M410,102.8 Q379.9,104.4 353.6,107.9" fill="none" stroke="#c4c4c4" stroke-width="0.6"/>
<path d="M410,102.8 Q411.2,111.5 414.3,118.8" fill="none" stroke="#bcbcbc" stroke-width="0.6"/>
<path d="M410,102.8 Q397.7,103.9 381.8,105.5" fill="none" stroke="#bcbcbc" stroke-width="0.6"/>
<path d="M410,102.8 Q404.2,130.7 394.9,154.8" fill="none" stroke="#d0d0d0" stroke-width="0.5"/>
<path d="M386.2,121.6 Q376.1,130.4 362.3,140.4" fill="none" stroke="#b0b0b0" stroke-width="0.7"/>
<path d="M386.2,121.6 Q389.4,137.1 394.9,154.8" fill="none" stroke="#c4c4c4" stroke-width="0.6"/>
<path d="M386.2,121.6 Q356.8,122.5 329.8,125.9" fill="none" stroke="#c4c4c4" stroke-width="0.6"/>
<path d="M386.2,121.6 Q388.8,131.4 390.5,138" fill="none" stroke="#bcbcbc" stroke-width="0.6"/>
<path d="M386.2,121.6 Q373.4,122.7 358,123.9" fill="none" stroke="#bcbcbc" stroke-width="0.6"/>
<path d="M386.2,121.6 Q379.2,149.2 371.1,174.4" fill="none" stroke="#d0d0d0" stroke-width="0.5"/>
<path d="M362.3,140.4 Q348.8,150.4 338.5,159.2" fill="none" stroke="#b0b0b0" stroke-width="0.7"/>
<path d="M362.3,140.4 Q368.3,158.5 371.1,174.4" fill="none" stroke="#c4c4c4" stroke-width="0.6"/>
<path d="M362.3,140.4 Q335.1,142.1 305.9,143.9" fill="none" stroke="#c4c4c4" stroke-width="0.6"/>
<path d="M362.3,140.4 Q363.2,149.9 366.7,157.2" fill="none" stroke="#bcbcbc" stroke-width="0.6"/>
<path d="M362.3,140.4 Q347.6,142.6 334.1,142.3" fill="none" stroke="#bcbcbc" stroke-width="0.6"/>
<path d="M362.3,140.4 Q356.7,166.8 347.3,194" fill="none" stroke="#d0d0d0" stroke-width="0.5"/>
<path d="M338.5,159.2 Q326.2,170.4 314.7,178" fill="none" stroke="#b0b0b0" stroke-width="0.7"/>
<path d="M338.5,159.2 Q343.8,175.3 347.3,194" fill="none" stroke="#c4c4c4" stroke-width="0.6"/>
<path d="M338.5,159.2 Q308.8,159.2 282.1,161.9" fill="none" stroke="#c4c4c4" stroke-width="0.6"/>
<path d="M338.5,159.2 Q342.3,169 342.9,176.4" fill="none" stroke="#bcbcbc" stroke-width="0.6"/>
<path d="M338.5,159.2 Q323,161.3 310.3,160.7" fill="none" stroke="#bcbcbc" stroke-width="0.6"/>
<path d="M338.5,159.2 Q332.9,187 323.5,213.6" fill="none" stroke="#d0d0d0" stroke-width="0.5"/>
<path d="M314.7,178 Q302.2,187.6 290.8,196.8" fill="none" stroke="#b0b0b0" stroke-width="0.7"/>
<path d="M314.7,178 Q317.6,193.8 323.5,213.6" fill="none" stroke="#c4c4c4" stroke-width="0.6"/>
<path d="M314.7,178 Q288.3,179.6 258.2,179.9" fill="none" stroke="#c4c4c4" stroke-width="0.6"/>
<path d="M314.7,178 Q317,188.5 319.1,195.6" fill="none" stroke="#bcbcbc" stroke-width="0.6"/>
<path d="M314.7,178 Q300.3,180.1 286.4,179.2" fill="none" stroke="#bcbcbc" stroke-width="0.6"/>
<path d="M314.7,178 Q308.5,204.4 299.7,233.2" fill="none" stroke="#d0d0d0" stroke-width="0.5"/>
<path d="M290.8,196.8 Q277.9,205.4 267,215.6" fill="none" stroke="#b0b0b0" stroke-width="0.7"/>
<path d="M290.8,196.8 Q294.2,215.3 299.7,233.2" fill="none" stroke="#c4c4c4" stroke-width="0.6"/>
<path d="M290.8,196.8 Q261.6,197 234.3,198" fill="none" stroke="#c4c4c4" stroke-width="0.6"/>
<path d="M290.8,196.8 Q291.6,207.4 295.2,214.8" fill="none" stroke="#bcbcbc" stroke-width="0.6"/>
<path d="M290.8,196.8 Q276.1,197 262.6,197.6" fill="none" stroke="#bcbcbc" stroke-width="0.6"/>
<path d="M290.8,196.8 Q283.7,226.4 275.9,252.8" fill="none" stroke="#d0d0d0" stroke-width="0.5"/>
<path d="M267,215.6 Q254.8,226.7 243.2,234.4" fill="none" stroke="#b0b0b0" stroke-width="0.7"/>
<path d="M267,215.6 Q271.4,234.3 275.9,252.8" fill="none" stroke="#c4c4c4" stroke-width="0.6"/>
<path d="M267,215.6 Q238.8,213.9 210.5,216" fill="none" stroke="#c4c4c4" stroke-width="0.6"/>
<path d="M267,215.6 Q269,223.5 271.4,234" fill="none" stroke="#bcbcbc" stroke-width="0.6"/>
<path d="M267,215.6 Q250.9,217 238.7,216" fill="none" stroke="#bcbcbc" stroke-width="0.6"/>
<path d="M267,215.6 Q258.2,243.9 252.1,272.4" fill="none" stroke="#d0d0d0" stroke-width="0.5"/>
<path d="M243.2,234.4 Q232.2,244 219.3,253.2" fill="none" stroke="#b0b0b0" stroke-width="0.7"/>
<path d="M243.2,234.4 Q246.9,253.5 252.1,272.4" fill="none" stroke="#c4c4c4" stroke-width="0.6"/>
<path d="M243.2,234.4 Q215.1,235.3 186.6,234" fill="none" stroke="#c4c4c4" stroke-width="0.6"/>
<path d="M243.2,234.4 Q243.8,244 247.6,253.2" fill="none" stroke="#bcbcbc" stroke-width="0.6"/>
<path d="M243.2,234.4 Q228,233.5 214.9,234.4" fill="none" stroke="#bcbcbc" stroke-width="0.6"/>
<path d="M243.2,234.4 Q236.8,263.2 228.2,292" fill="none" stroke="#d0d0d0" stroke-width="0.5"/>
<path d="M219.3,253.2 Q207.7,263.6 195.5,272" fill="none" stroke="#b0b0b0" stroke-width="0.7"/>
<path d="M219.3,253.2 Q225.4,272.4 228.2,292" fill="none" stroke="#c4c4c4" stroke-width="0.6"/>
<path d="M219.3,253.2 Q191.5,252.6 162.8,252" fill="none" stroke="#c4c4c4" stroke-width="0.6"/>
<path d="M219.3,253.2 Q221.6,263.6 223.8,272.4" fill="none" stroke="#bcbcbc" stroke-width="0.6"/>
<path d="M219.3,253.2 Q205,253.1 191,252.8" fill="none" stroke="#bcbcbc" stroke-width="0.6"/>
<path d="M442.5,115.6 Q430.5,127.2 418.7,135.2" fill="none" stroke="#b0b0b0" stroke-width="0.7"/>
<path d="M442.5,115.6 Q447.7,133.8 451.2,148.9" fill="none" stroke="#c4c4c4" stroke-width="0.6"/>
<path d="M442.5,115.6 Q416.1,117.6 386.2,121.6" fill="none" stroke="#c4c4c4" stroke-width="0.6"/>
<path d="M442.5,115.6 Q444.9,125.6 446.9,132.1" fill="none" stroke="#bcbcbc" stroke-width="0.6"/>
<path d="M442.5,115.6 Q429.8,115.8 414.3,118.8" fill="none" stroke="#bcbcbc" stroke-width="0.6"/>
<path d="M442.5,115.6 Q433.5,142.2 427.4,169.3" fill="none" stroke="#d0d0d0" stroke-width="0.5"/>
<path d="M418.7,135.2 Q405.1,144 394.9,154.8" fill="none" stroke="#b0b0b0" stroke-width="0.7"/>
<path d="M418.7,135.2 Q421.4,152.9 427.4,169.3" fill="none" stroke="#c4c4c4" stroke-width="0.6"/>
<path d="M418.7,135.2 Q391.6,139.4 362.3,140.4" fill="none" stroke="#c4c4c4" stroke-width="0.6"/>
<path d="M418.7,135.2 Q419.5,144.5 423.1,152.1" fill="none" stroke="#bcbcbc" stroke-width="0.6"/>
<path d="M418.7,135.2 Q405.2,135.2 390.5,138" fill="none" stroke="#bcbcbc" stroke-width="0.6"/>
<path d="M418.7,135.2 Q412.7,164.3 403.7,189.7" fill="none" stroke="#d0d0d0" stroke-width="0.5"/>
<path d="M394.9,154.8 Q381.9,166.4 371.1,174.4" fill="none" stroke="#b0b0b0" stroke-width="0.7"/>
<path d="M394.9,154.8 Q398.9,172.2 403.7,189.7" fill="none" stroke="#c4c4c4" stroke-width="0.6"/>
<path d="M394.9,154.8 Q368.7,158.3 338.5,159.2" fill="none" stroke="#c4c4c4" stroke-width="0.6"/>
<path d="M394.9,154.8 Q395.7,163.2 399.3,172" fill="none" stroke="#bcbcbc" stroke-width="0.6"/>
<path d="M394.9,154.8 Q380.9,155.4 366.7,157.2" fill="none" stroke="#bcbcbc" stroke-width="0.6"/>
<path d="M394.9,154.8 Q386.2,181.7 379.9,210.1" fill="none" stroke="#d0d0d0" stroke-width="0.5"/>
<path d="M371.1,174.4 Q360.1,182.3 347.3,194" fill="none" stroke="#b0b0b0" stroke-width="0.7"/>
<path d="M371.1,174.4 Q375.7,192 379.9,210.1" fill="none" stroke="#c4c4c4" stroke-width="0.6"/>
<path d="M371.1,174.4 Q340.9,175.5 314.7,178" fill="none" stroke="#c4c4c4" stroke-width="0.6"/>
<path d="M371.1,174.4 Q373.8,183.3 375.5,192" fill="none" stroke="#bcbcbc" stroke-width="0.6"/>
<path d="M371.1,174.4 Q355.2,177.3 342.9,176.4" fill="none" stroke="#bcbcbc" stroke-width="0.6"/>
<path d="M371.1,174.4 Q364.8,204.3 356.1,230.4" fill="none" stroke="#d0d0d0" stroke-width="0.5"/>
<path d="M347.3,194 Q333.8,202.9 323.5,213.6" fill="none" stroke="#b0b0b0" stroke-width="0.7"/>
<path d="M347.3,194 Q349.9,213.3 356.1,230.4" fill="none" stroke="#c4c4c4" stroke-width="0.6"/>
<path d="M347.3,194 Q318.1,193.9 290.8,196.8" fill="none" stroke="#c4c4c4" stroke-width="0.6"/>
<path d="M347.3,194 Q349.2,204.7 351.7,212" fill="none" stroke="#bcbcbc" stroke-width="0.6"/>
<path d="M347.3,194 Q334.4,193.8 319.1,195.6" fill="none" stroke="#bcbcbc" stroke-width="0.6"/>
<path d="M347.3,194 Q338.4,224.1 332.3,250.8" fill="none" stroke="#d0d0d0" stroke-width="0.5"/>
<path d="M323.5,213.6 Q311.9,224.2 299.7,233.2" fill="none" stroke="#b0b0b0" stroke-width="0.7"/>
<path d="M323.5,213.6 Q326.3,230.5 332.3,250.8" fill="none" stroke="#c4c4c4" stroke-width="0.6"/>
<path d="M323.5,213.6 Q296,214.3 267,215.6" fill="none" stroke="#c4c4c4" stroke-width="0.6"/>
<path d="M323.5,213.6 Q324,224.6 327.9,232" fill="none" stroke="#bcbcbc" stroke-width="0.6"/>
<path d="M323.5,213.6 Q309.9,215.4 295.2,214.8" fill="none" stroke="#bcbcbc" stroke-width="0.6"/>
<path d="M323.5,213.6 Q314.3,243.8 308.6,271.2" fill="none" stroke="#d0d0d0" stroke-width="0.5"/>
<path d="M299.7,233.2 Q286,244.5 275.9,252.8" fill="none" stroke="#b0b0b0" stroke-width="0.7"/>
<path d="M299.7,233.2 Q303.9,251.6 308.6,271.2" fill="none" stroke="#c4c4c4" stroke-width="0.6"/>
<path d="M299.7,233.2 Q271.6,235.5 243.2,234.4" fill="none" stroke="#c4c4c4" stroke-width="0.6"/>
<path d="M299.7,233.2 Q301,241.1 304.1,252" fill="none" stroke="#bcbcbc" stroke-width="0.6"/>
<path d="M299.7,233.2 Q285.7,232.6 271.4,234" fill="none" stroke="#bcbcbc" stroke-width="0.6"/>
<path d="M299.7,233.2 Q290.7,261.1 284.8,291.6" fill="none" stroke="#d0d0d0" stroke-width="0.5"/>
<path d="M275.9,252.8 Q262.2,261.4 252.1,272.4" fill="none" stroke="#b0b0b0" stroke-width="0.7"/>
<path d="M275.9,252.8 Q279.6,271.4 284.8,291.6" fill="none" stroke="#c4c4c4" stroke-width="0.6"/>
<path d="M275.9,252.8 Q248.6,252.2 219.3,253.2" fill="none" stroke="#c4c4c4" stroke-width="0.6"/>
<path d="M275.9,252.8 Q278.1,261.1 280.3,272" fill="none" stroke="#bcbcbc" stroke-width="0.6"/>
<path d="M275.9,252.8 Q261.1,251.1 247.6,253.2" fill="none" stroke="#bcbcbc" stroke-width="0.6"/>
<path d="M275.9,252.8 Q267.4,280.5 261,312" fill="none" stroke="#d0d0d0" stroke-width="0.5"/>
<path d="M252.1,272.4 Q241.1,282.4 228.2,292" fill="none" stroke="#b0b0b0" stroke-width="0.7"/>
<path d="M252.1,272.4 Q255.3,292.1 261,312" fill="none" stroke="#c4c4c4" stroke-width="0.6"/>
<path d="M252.1,272.4 Q225.5,270.6 195.5,272" fill="none" stroke="#c4c4c4" stroke-width="0.6"/>
<path d="M252.1,272.4 Q255.6,281.9 256.5,292" fill="none" stroke="#bcbcbc" stroke-width="0.6"/>
<path d="M252.1,272.4 Q237.9,273.7 223.8,272.4" fill="none" stroke="#bcbcbc" stroke-width="0.6"/>
<path d="M475,128.5 Q462.7,138.7 451.2,148.9" fill="none" stroke="#b0b0b0" stroke-width="0.7"/>
<path d="M475,128.5 Q480.1,147.5 483.8,162.6" fill="none" stroke="#c4c4c4" stroke-width="0.6"/>
<path d="M475,128.5 Q446.2,133.2 418.7,135.2" fill="none" stroke="#c4c4c4" stroke-width="0.6"/>
<path d="M475,128.5 Q478,137.5 479.4,145.3" fill="none" stroke="#bcbcbc" stroke-width="0.6"/>
<path d="M475,128.5 Q460.5,129.7 446.9,132.1" fill="none" stroke="#bcbcbc" stroke-width="0.6"/>
<path d="M475,128.5 Q465.7,154.6 460,183.7" fill="none" stroke="#d0d0d0" stroke-width="0.5"/>
<path d="M451.2,148.9 Q437.6,160 427.4,169.3" fill="none" stroke="#b0b0b0" stroke-width="0.7"/>
<path d="M451.2,148.9 Q454.6,165 460,183.7" fill="none" stroke="#c4c4c4" stroke-width="0.6"/>
<path d="M451.2,148.9 Q421.4,153.2 394.9,154.8" fill="none" stroke="#c4c4c4" stroke-width="0.6"/>
<path d="M451.2,148.9 Q454.9,158.2 455.6,166.1" fill="none" stroke="#bcbcbc" stroke-width="0.6"/>
<path d="M451.2,148.9 Q436.3,149.4 423.1,152.1" fill="none" stroke="#bcbcbc" stroke-width="0.6"/>
<path d="M451.2,148.9 Q442.9,176.7 436.2,204.9" fill="none" stroke="#d0d0d0" stroke-width="0.5"/>
<path d="M427.4,169.3 Q414.2,179.3 403.7,189.7" fill="none" stroke="#b0b0b0" stroke-width="0.7"/>
<path d="M427.4,169.3 Q430.9,188.9 436.2,204.9" fill="none" stroke="#c4c4c4" stroke-width="0.6"/>
<path d="M427.4,169.3 Q401.2,172 371.1,174.4" fill="none" stroke="#c4c4c4" stroke-width="0.6"/>
<path d="M427.4,169.3 Q428.6,180 431.8,186.9" fill="none" stroke="#bcbcbc" stroke-width="0.6"/>
<path d="M427.4,169.3 Q412.6,170.1 399.3,172" fill="none" stroke="#bcbcbc" stroke-width="0.6"/>
<path d="M427.4,169.3 Q418,197.2 412.5,226.1" fill="none" stroke="#d0d0d0" stroke-width="0.5"/>
<path d="M403.7,189.7 Q391.7,199.9 379.9,210.1" fill="none" stroke="#b0b0b0" stroke-width="0.7"/>
<path d="M403.7,189.7 Q406.9,207.9 412.5,226.1" fill="none" stroke="#c4c4c4" stroke-width="0.6"/>
<path d="M403.7,189.7 Q373.5,190.9 347.3,194" fill="none" stroke="#c4c4c4" stroke-width="0.6"/>
<path d="M403.7,189.7 Q404.2,198.3 408.1,207.7" fill="none" stroke="#bcbcbc" stroke-width="0.6"/>
<path d="M403.7,189.7 Q387.7,188.9 375.5,192" fill="none" stroke="#bcbcbc" stroke-width="0.6"/>
<path d="M403.7,189.7 Q395.4,217.4 388.8,247.3" fill="none" stroke="#d0d0d0" stroke-width="0.5"/>
<path d="M379.9,210.1 Q368.3,220.4 356.1,230.4" fill="none" stroke="#b0b0b0" stroke-width="0.7"/>
<path d="M379.9,210.1 Q385.3,229.3 388.8,247.3" fill="none" stroke="#c4c4c4" stroke-width="0.6"/>
<path d="M379.9,210.1 Q352.5,213.3 323.5,213.6" fill="none" stroke="#c4c4c4" stroke-width="0.6"/>
<path d="M379.9,210.1 Q381.7,218.6 384.3,228.5" fill="none" stroke="#bcbcbc" stroke-width="0.6"/>
<path d="M379.9,210.1 Q367.7,209.6 351.7,212" fill="none" stroke="#bcbcbc" stroke-width="0.6"/>
<path d="M379.9,210.1 Q373.3,239.8 365,268.5" fill="none" stroke="#d0d0d0" stroke-width="0.5"/>
<path d="M356.1,230.4 Q342.4,242 332.3,250.8" fill="none" stroke="#b0b0b0" stroke-width="0.7"/>
<path d="M356.1,230.4 Q362.1,250 365,268.5" fill="none" stroke="#c4c4c4" stroke-width="0.6"/>
<path d="M356.1,230.4 Q328.8,233.1 299.7,233.2" fill="none" stroke="#c4c4c4" stroke-width="0.6"/>
<path d="M356.1,230.4 Q356.9,239.9 360.5,249.3" fill="none" stroke="#bcbcbc" stroke-width="0.6"/>
<path d="M356.1,230.4 Q342,232.6 327.9,232" fill="none" stroke="#bcbcbc" stroke-width="0.6"/>
<path d="M356.1,230.4 Q349.9,261.3 341.2,289.6" fill="none" stroke="#d0d0d0" stroke-width="0.5"/>
<path d="M332.3,250.8 Q320.8,262.6 308.6,271.2" fill="none" stroke="#b0b0b0" stroke-width="0.7"/>
<path d="M332.3,250.8 Q337.5,271 341.2,289.6" fill="none" stroke="#c4c4c4" stroke-width="0.6"/>
<path d="M332.3,250.8 Q303,249.9 275.9,252.8" fill="none" stroke="#c4c4c4" stroke-width="0.6"/>
<path d="M332.3,250.8 Q333.1,259.9 336.8,270" fill="none" stroke="#bcbcbc" stroke-width="0.6"/>
<path d="M332.3,250.8 Q316.6,252.8 304.1,252" fill="none" stroke="#bcbcbc" stroke-width="0.6"/>
<path d="M332.3,250.8 Q325.2,281.3 317.5,310.8" fill="none" stroke="#d0d0d0" stroke-width="0.5"/>
<path d="M308.6,271.2 Q297.2,282.1 284.8,291.6" fill="none" stroke="#b0b0b0" stroke-width="0.7"/>
<path d="M308.6,271.2 Q313,289 317.5,310.8" fill="none" stroke="#c4c4c4" stroke-width="0.6"/>
<path d="M308.6,271.2 Q281.5,272.8 252.1,272.4" fill="none" stroke="#c4c4c4" stroke-width="0.6"/>
<path d="M308.6,271.2 Q310.8,281.2 313,290.8" fill="none" stroke="#bcbcbc" stroke-width="0.6"/>
<path d="M308.6,271.2 Q295.1,269.9 280.3,272" fill="none" stroke="#bcbcbc" stroke-width="0.6"/>
<path d="M308.6,271.2 Q302.1,300.6 293.8,332" fill="none" stroke="#d0d0d0" stroke-width="0.5"/>
<path d="M284.8,291.6 Q271.2,300.9 261,312" fill="none" stroke="#b0b0b0" stroke-width="0.7"/>
<path d="M284.8,291.6 Q290.2,310.6 293.8,332" fill="none" stroke="#c4c4c4" stroke-width="0.6"/>
<path d="M284.8,291.6 Q257.5,293.7 228.2,292" fill="none" stroke="#c4c4c4" stroke-width="0.6"/>
<path d="M284.8,291.6 Q287,301.1 289.3,311.6" fill="none" stroke="#bcbcbc" stroke-width="0.6"/>
<path d="M284.8,291.6 Q270.6,292.5 256.5,292" fill="none" stroke="#bcbcbc" stroke-width="0.6"/>
<path d="M507.5,141.4 Q496.7,152.4 483.8,162.6" fill="none" stroke="#b0b0b0" stroke-width="0.7"/>
<path d="M507.5,141.4 Q512.5,157.1 516.3,176.2" fill="none" stroke="#c4c4c4" stroke-width="0.6"/>
<path d="M507.5,141.4 Q478,144.1 451.2,148.9" fill="none" stroke="#c4c4c4" stroke-width="0.6"/>
<path d="M507.5,141.4 Q510.7,149.2 511.9,158.6" fill="none" stroke="#bcbcbc" stroke-width="0.6"/>
<path d="M507.5,141.4 Q493.7,141.4 479.4,145.3" fill="none" stroke="#bcbcbc" stroke-width="0.6"/>
<path d="M507.5,141.4 Q498.3,168.9 492.6,198.2" fill="none" stroke="#d0d0d0" stroke-width="0.5"/>
<path d="M483.8,162.6 Q472.6,173.9 460,183.7" fill="none" stroke="#b0b0b0" stroke-width="0.7"/>
<path d="M483.8,162.6 Q488.9,179.5 492.6,198.2" fill="none" stroke="#c4c4c4" stroke-width="0.6"/>
<path d="M483.8,162.6 Q455.7,165.8 427.4,169.3" fill="none" stroke="#c4c4c4" stroke-width="0.6"/>
<path d="M483.8,162.6 Q485.8,169.8 488.1,180.2" fill="none" stroke="#bcbcbc" stroke-width="0.6"/>
<path d="M483.8,162.6 Q471.3,163.1 455.6,166.1" fill="none" stroke="#bcbcbc" stroke-width="0.6"/>
<path d="M483.8,162.6 Q478.2,193.1 468.8,220.2" fill="none" stroke="#d0d0d0" stroke-width="0.5"/>
<path d="M460,183.7 Q446.2,194.2 436.2,204.9" fill="none" stroke="#b0b0b0" stroke-width="0.7"/>
<path d="M460,183.7 Q465.7,203.8 468.8,220.2" fill="none" stroke="#c4c4c4" stroke-width="0.6"/>
<path d="M460,183.7 Q431.6,185.8 403.7,189.7" fill="none" stroke="#c4c4c4" stroke-width="0.6"/>
<path d="M460,183.7 Q461,194.5 464.4,201.8" fill="none" stroke="#bcbcbc" stroke-width="0.6"/>
<path d="M460,183.7 Q444.8,185.6 431.8,186.9" fill="none" stroke="#bcbcbc" stroke-width="0.6"/>
<path d="M460,183.7 Q451.1,213 445.1,242.1" fill="none" stroke="#d0d0d0" stroke-width="0.5"/>
<path d="M436.2,204.9 Q426.2,214 412.5,226.1" fill="none" stroke="#b0b0b0" stroke-width="0.7"/>
<path d="M436.2,204.9 Q442,223.6 445.1,242.1" fill="none" stroke="#c4c4c4" stroke-width="0.6"/>
<path d="M436.2,204.9 Q409.6,208.3 379.9,210.1" fill="none" stroke="#c4c4c4" stroke-width="0.6"/>
<path d="M436.2,204.9 Q437.4,215.7 440.7,223.3" fill="none" stroke="#bcbcbc" stroke-width="0.6"/>
<path d="M436.2,204.9 Q422.1,204.4 408.1,207.7" fill="none" stroke="#bcbcbc" stroke-width="0.6"/>
<path d="M436.2,204.9 Q426.8,234.5 421.4,264.1" fill="none" stroke="#d0d0d0" stroke-width="0.5"/>
<path d="M412.5,226.1 Q400.4,235.9 388.8,247.3" fill="none" stroke="#b0b0b0" stroke-width="0.7"/>
<path d="M412.5,226.1 Q415.5,244.5 421.4,264.1" fill="none" stroke="#c4c4c4" stroke-width="0.6"/>
<path d="M412.5,226.1 Q383.6,229.6 356.1,230.4" fill="none" stroke="#c4c4c4" stroke-width="0.6"/>
<path d="M412.5,226.1 Q412.7,236.5 416.9,244.9" fill="none" stroke="#bcbcbc" stroke-width="0.6"/>
<path d="M412.5,226.1 Q399.8,225.8 384.3,228.5" fill="none" stroke="#bcbcbc" stroke-width="0.6"/>
<path d="M412.5,226.1 Q406.8,256.9 397.7,286.1" fill="none" stroke="#d0d0d0" stroke-width="0.5"/>
<path d="M388.8,247.3 Q378.5,257 365,268.5" fill="none" stroke="#b0b0b0" stroke-width="0.7"/>
<path d="M388.8,247.3 Q392.7,266.3 397.7,286.1" fill="none" stroke="#c4c4c4" stroke-width="0.6"/>
<path d="M388.8,247.3 Q362.5,249.4 332.3,250.8" fill="none" stroke="#c4c4c4" stroke-width="0.6"/>
<path d="M388.8,247.3 Q390.4,256.6 393.2,266.5" fill="none" stroke="#bcbcbc" stroke-width="0.6"/>
<path d="M388.8,247.3 Q373.7,246.5 360.5,249.3" fill="none" stroke="#bcbcbc" stroke-width="0.6"/>
<path d="M388.8,247.3 Q379.8,279 373.9,308.1" fill="none" stroke="#d0d0d0" stroke-width="0.5"/>
<path d="M365,268.5 Q352.3,280.8 341.2,289.6" fill="none" stroke="#b0b0b0" stroke-width="0.7"/>
<path d="M365,268.5 Q368.5,287.3 373.9,308.1" fill="none" stroke="#c4c4c4" stroke-width="0.6"/>
<path d="M365,268.5 Q336.8,268.6 308.6,271.2" fill="none" stroke="#c4c4c4" stroke-width="0.6"/>
<path d="M365,268.5 Q366.7,280.1 369.5,288.1" fill="none" stroke="#bcbcbc" stroke-width="0.6"/>
<path d="M365,268.5 Q352.4,270.5 336.8,270" fill="none" stroke="#bcbcbc" stroke-width="0.6"/>
<path d="M365,268.5 Q358.1,300.9 350.2,330" fill="none" stroke="#d0d0d0" stroke-width="0.5"/>
<path d="M341.2,289.6 Q331.1,300.4 317.5,310.8" fill="none" stroke="#b0b0b0" stroke-width="0.7"/>
<path d="M341.2,289.6 Q346.6,308 350.2,330" fill="none" stroke="#c4c4c4" stroke-width="0.6"/>
<path d="M341.2,289.6 Q313.9,290.4 284.8,291.6" fill="none" stroke="#c4c4c4" stroke-width="0.6"/>
<path d="M341.2,289.6 Q344.5,300.2 345.7,309.6" fill="none" stroke="#bcbcbc" stroke-width="0.6"/>
<path d="M341.2,289.6 Q326.3,288.4 313,290.8" fill="none" stroke="#bcbcbc" stroke-width="0.6"/>
<path d="M341.2,289.6 Q335.6,319.3 326.5,352" fill="none" stroke="#d0d0d0" stroke-width="0.5"/>
<path d="M317.5,310.8 Q305.5,320.8 293.8,332" fill="none" stroke="#b0b0b0" stroke-width="0.7"/>
<path d="M317.5,310.8 Q321.2,332.4 326.5,352" fill="none" stroke="#c4c4c4" stroke-width="0.6"/>
<path d="M317.5,310.8 Q291.2,310.5 261,312" fill="none" stroke="#c4c4c4" stroke-width="0.6"/>
<path d="M317.5,310.8 Q320.4,320.2 322,331.2" fill="none" stroke="#bcbcbc" stroke-width="0.6"/>
<path d="M317.5,310.8 Q303.6,310.8 289.3,311.6" fill="none" stroke="#bcbcbc" stroke-width="0.6"/>
<path d="M540,154.2 Q526.8,163.9 516.3,176.2" fill="none" stroke="#b0b0b0" stroke-width="0.7"/>
<path d="M540,154.2 Q543.2,173.7 548.8,189.9" fill="none" stroke="#c4c4c4" stroke-width="0.6"/>
<path d="M540,154.2 Q511.9,157.3 483.8,162.6" fill="none" stroke="#c4c4c4" stroke-width="0.6"/>
<path d="M540,154.2 Q543.8,165 544.4,171.9" fill="none" stroke="#bcbcbc" stroke-width="0.6"/>
<path d="M540,154.2 Q525.7,155 511.9,158.6" fill="none" stroke="#bcbcbc" stroke-width="0.6"/>
<path d="M540,154.2 Q531.3,181.8 525.1,212.7" fill="none" stroke="#d0d0d0" stroke-width="0.5"/>
<path d="M516.3,176.2 Q503.8,185.6 492.6,198.2" fill="none" stroke="#b0b0b0" stroke-width="0.7"/>
<path d="M516.3,176.2 Q519.7,193.5 525.1,212.7" fill="none" stroke="#c4c4c4" stroke-width="0.6"/>
<path d="M516.3,176.2 Q488.4,181.5 460,183.7" fill="none" stroke="#c4c4c4" stroke-width="0.6"/>
<path d="M516.3,176.2 Q519.5,184.9 520.7,194.2" fill="none" stroke="#bcbcbc" stroke-width="0.6"/>
<path d="M516.3,176.2 Q501.9,178.3 488.1,180.2" fill="none" stroke="#bcbcbc" stroke-width="0.6"/>
<path d="M516.3,176.2 Q508.4,205.2 501.4,235.4" fill="none" stroke="#d0d0d0" stroke-width="0.5"/>
<path d="M492.6,198.2 Q478.9,208.3 468.8,220.2" fill="none" stroke="#b0b0b0" stroke-width="0.7"/>
<path d="M492.6,198.2 Q498.9,215.3 501.4,235.4" fill="none" stroke="#c4c4c4" stroke-width="0.6"/>
<path d="M492.6,198.2 Q464.4,202.1 436.2,204.9" fill="none" stroke="#c4c4c4" stroke-width="0.6"/>
<path d="M492.6,198.2 Q496.2,206.3 497,216.6" fill="none" stroke="#bcbcbc" stroke-width="0.6"/>
<path d="M492.6,198.2 Q477.6,199 464.4,201.8" fill="none" stroke="#bcbcbc" stroke-width="0.6"/>
<path d="M492.6,198.2 Q484.7,228 477.7,258.2" fill="none" stroke="#d0d0d0" stroke-width="0.5"/>
<path d="M468.8,220.2 Q458.8,232.5 445.1,242.1" fill="none" stroke="#b0b0b0" stroke-width="0.7"/>
<path d="M468.8,220.2 Q474.8,237.3 477.7,258.2" fill="none" stroke="#c4c4c4" stroke-width="0.6"/>
<path d="M468.8,220.2 Q438.8,224 412.5,226.1" fill="none" stroke="#c4c4c4" stroke-width="0.6"/>
<path d="M468.8,220.2 Q472.6,229.5 473.3,239" fill="none" stroke="#bcbcbc" stroke-width="0.6"/>
<path d="M468.8,220.2 Q455.1,219.7 440.7,223.3" fill="none" stroke="#bcbcbc" stroke-width="0.6"/>
<path d="M468.8,220.2 Q461,252.3 454,280.9" fill="none" stroke="#d0d0d0" stroke-width="0.5"/>
<path d="M445.1,242.1 Q434.6,254.5 421.4,264.1" fill="none" stroke="#b0b0b0" stroke-width="0.7"/>
<path d="M445.1,242.1 Q451.5,260.5 454,280.9" fill="none" stroke="#c4c4c4" stroke-width="0.6"/>
<path d="M445.1,242.1 Q415.4,243.3 388.8,247.3" fill="none" stroke="#c4c4c4" stroke-width="0.6"/>
<path d="M445.1,242.1 Q447.4,252.5 449.6,261.3" fill="none" stroke="#bcbcbc" stroke-width="0.6"/>
<path d="M445.1,242.1 Q432.8,244.4 416.9,244.9" fill="none" stroke="#bcbcbc" stroke-width="0.6"/>
<path d="M445.1,242.1 Q438.3,274 430.3,303.7" fill="none" stroke="#d0d0d0" stroke-width="0.5"/>
<path d="M421.4,264.1 Q409.4,275.3 397.7,286.1" fill="none" stroke="#b0b0b0" stroke-width="0.7"/>
<path d="M421.4,264.1 Q424,285 430.3,303.7" fill="none" stroke="#c4c4c4" stroke-width="0.6"/>
<path d="M421.4,264.1 Q392.1,268 365,268.5" fill="none" stroke="#c4c4c4" stroke-width="0.6"/>
<path d="M421.4,264.1 Q424.2,273.1 425.9,283.7" fill="none" stroke="#bcbcbc" stroke-width="0.6"/>
<path d="M421.4,264.1 Q405.8,264.3 393.2,266.5" fill="none" stroke="#bcbcbc" stroke-width="0.6"/>
<path d="M421.4,264.1 Q414.6,296.1 406.6,326.5" fill="none" stroke="#d0d0d0" stroke-width="0.5"/>
<path d="M397.7,286.1 Q384.3,295.4 373.9,308.1" fill="none" stroke="#b0b0b0" stroke-width="0.7"/>
<path d="M397.7,286.1 Q402.3,306.6 406.6,326.5" fill="none" stroke="#c4c4c4" stroke-width="0.6"/>
<path d="M397.7,286.1 Q369,286.8 341.2,289.6" fill="none" stroke="#c4c4c4" stroke-width="0.6"/>
<path d="M397.7,286.1 Q400.3,294.1 402.1,306.1" fill="none" stroke="#bcbcbc" stroke-width="0.6"/>
<path d="M397.7,286.1 Q382.8,286.9 369.5,288.1" fill="none" stroke="#bcbcbc" stroke-width="0.6"/>
<path d="M397.7,286.1 Q392.1,318.2 382.9,349.2" fill="none" stroke="#d0d0d0" stroke-width="0.5"/>
<path d="M373.9,308.1 Q363.6,318.9 350.2,330" fill="none" stroke="#b0b0b0" stroke-width="0.7"/>
<path d="M373.9,308.1 Q377.4,327.6 382.9,349.2" fill="none" stroke="#c4c4c4" stroke-width="0.6"/>
<path d="M373.9,308.1 Q347.6,310.3 317.5,310.8" fill="none" stroke="#c4c4c4" stroke-width="0.6"/>
<path d="M373.9,308.1 Q375.4,316.3 378.4,328.4" fill="none" stroke="#bcbcbc" stroke-width="0.6"/>
<path d="M373.9,308.1 Q359.8,309.5 345.7,309.6" fill="none" stroke="#bcbcbc" stroke-width="0.6"/>
<path d="M373.9,308.1 Q366.3,339.1 359.2,372" fill="none" stroke="#d0d0d0" stroke-width="0.5"/>
<path d="M350.2,330 Q339,342.7 326.5,352" fill="none" stroke="#b0b0b0" stroke-width="0.7"/>
<path d="M350.2,330 Q353.6,349.2 359.2,372" fill="none" stroke="#c4c4c4" stroke-width="0.6"/>
<path d="M350.2,330 Q321.3,330.7 293.8,332" fill="none" stroke="#c4c4c4" stroke-width="0.6"/>
<path d="M350.2,330 Q353.2,339.2 354.7,350.8" fill="none" stroke="#bcbcbc" stroke-width="0.6"/>
<path d="M350.2,330 Q337.3,331.6 322,331.2" fill="none" stroke="#bcbcbc" stroke-width="0.6"/>
<path d="M572.5,167.1 Q560.7,177.3 548.8,189.9" fill="none" stroke="#b0b0b0" stroke-width="0.7"/>
<path d="M572.5,167.1 Q578.8,184.6 581.3,203.6" fill="none" stroke="#c4c4c4" stroke-width="0.6"/>
<path d="M572.5,167.1 Q545.7,170.6 516.3,176.2" fill="none" stroke="#c4c4c4" stroke-width="0.6"/>
<path d="M572.5,167.1 Q573.6,177.2 576.9,185.1" fill="none" stroke="#bcbcbc" stroke-width="0.6"/>
<path d="M572.5,167.1 Q557.6,171.3 544.4,171.9" fill="none" stroke="#bcbcbc" stroke-width="0.6"/>
<path d="M572.5,167.1 Q565.1,195.9 557.7,227.1" fill="none" stroke="#d0d0d0" stroke-width="0.5"/>
<path d="M548.8,189.9 Q535.9,200.9 525.1,212.7" fill="none" stroke="#b0b0b0" stroke-width="0.7"/>
<path d="M548.8,189.9 Q553.9,210.3 557.7,227.1" fill="none" stroke="#c4c4c4" stroke-width="0.6"/>
<path d="M548.8,189.9 Q519.3,193.6 492.6,198.2" fill="none" stroke="#c4c4c4" stroke-width="0.6"/>
<path d="M548.8,189.9 Q549.9,201 553.2,208.3" fill="none" stroke="#bcbcbc" stroke-width="0.6"/>
<path d="M548.8,189.9 Q533.3,190.3 520.7,194.2" fill="none" stroke="#bcbcbc" stroke-width="0.6"/>
<path d="M548.8,189.9 Q539.6,219.9 534,250.7" fill="none" stroke="#d0d0d0" stroke-width="0.5"/>
<path d="M525.1,212.7 Q514.9,225.6 501.4,235.4" fill="none" stroke="#b0b0b0" stroke-width="0.7"/>
<path d="M525.1,212.7 Q530.5,233.6 534,250.7" fill="none" stroke="#c4c4c4" stroke-width="0.6"/>
<path d="M525.1,212.7 Q498.7,215.7 468.8,220.2" fill="none" stroke="#c4c4c4" stroke-width="0.6"/>
<path d="M525.1,212.7 Q526.1,223.8 529.5,231.5" fill="none" stroke="#bcbcbc" stroke-width="0.6"/>
<path d="M525.1,212.7 Q512,212.8 497,216.6" fill="none" stroke="#bcbcbc" stroke-width="0.6"/>
<path d="M525.1,212.7 Q518.4,243 510.3,274.2" fill="none" stroke="#d0d0d0" stroke-width="0.5"/>
<path d="M501.4,235.4 Q489.1,246.1 477.7,258.2" fill="none" stroke="#b0b0b0" stroke-width="0.7"/>
<path d="M501.4,235.4 Q504.6,252.8 510.3,274.2" fill="none" stroke="#c4c4c4" stroke-width="0.6"/>
<path d="M501.4,235.4 Q472.4,238.2 445.1,242.1" fill="none" stroke="#c4c4c4" stroke-width="0.6"/>
<path d="M501.4,235.4 Q505.5,243.5 505.9,254.6" fill="none" stroke="#bcbcbc" stroke-width="0.6"/>
<path d="M501.4,235.4 Q489.2,236 473.3,239" fill="none" stroke="#bcbcbc" stroke-width="0.6"/>
<path d="M501.4,235.4 Q493.5,267.9 486.7,297.8" fill="none" stroke="#d0d0d0" stroke-width="0.5"/>
<path d="M477.7,258.2 Q467.2,269.3 454,280.9" fill="none" stroke="#b0b0b0" stroke-width="0.7"/>
<path d="M477.7,258.2 Q480.4,277.9 486.7,297.8" fill="none" stroke="#c4c4c4" stroke-width="0.6"/>
<path d="M477.7,258.2 Q449,262.8 421.4,264.1" fill="none" stroke="#c4c4c4" stroke-width="0.6"/>
<path d="M477.7,258.2 Q478.7,267.4 482.2,277.8" fill="none" stroke="#bcbcbc" stroke-width="0.6"/>
<path d="M477.7,258.2 Q465.2,257.9 449.6,261.3" fill="none" stroke="#bcbcbc" stroke-width="0.6"/>
<path d="M477.7,258.2 Q470,291 463,321.3" fill="none" stroke="#d0d0d0" stroke-width="0.5"/>
<path d="M454,280.9 Q443.2,290.5 430.3,303.7" fill="none" stroke="#b0b0b0" stroke-width="0.7"/>
<path d="M454,280.9 Q456.7,299.4 463,321.3" fill="none" stroke="#c4c4c4" stroke-width="0.6"/>
<path d="M454,280.9 Q427.5,282.5 397.7,286.1" fill="none" stroke="#c4c4c4" stroke-width="0.6"/>
<path d="M454,280.9 Q457.3,292.5 458.5,300.9" fill="none" stroke="#bcbcbc" stroke-width="0.6"/>
<path d="M454,280.9 Q439.3,281.4 425.9,283.7" fill="none" stroke="#bcbcbc" stroke-width="0.6"/>
<path d="M454,280.9 Q448.5,313.4 439.3,344.9" fill="none" stroke="#d0d0d0" stroke-width="0.5"/>
<path d="M430.3,303.7 Q417.5,316 406.6,326.5" fill="none" stroke="#b0b0b0" stroke-width="0.7"/>
<path d="M430.3,303.7 Q434.1,323.4 439.3,344.9" fill="none" stroke="#c4c4c4" stroke-width="0.6"/>
<path d="M430.3,303.7 Q400.2,306.9 373.9,308.1" fill="none" stroke="#c4c4c4" stroke-width="0.6"/>
<path d="M430.3,303.7 Q434.2,314.4 434.8,324.1" fill="none" stroke="#bcbcbc" stroke-width="0.6"/>
<path d="M430.3,303.7 Q418,303 402.1,306.1" fill="none" stroke="#bcbcbc" stroke-width="0.6"/>
<path d="M430.3,303.7 Q421.9,336 415.7,368.4" fill="none" stroke="#d0d0d0" stroke-width="0.5"/>
<path d="M406.6,326.5 Q396.6,339.7 382.9,349.2" fill="none" stroke="#b0b0b0" stroke-width="0.7"/>
<path d="M406.6,326.5 Q410.7,346.5 415.7,368.4" fill="none" stroke="#c4c4c4" stroke-width="0.6"/>
<path d="M406.6,326.5 Q378.2,328.2 350.2,330" fill="none" stroke="#c4c4c4" stroke-width="0.6"/>
<path d="M406.6,326.5 Q410.6,335.6 411.1,347.3" fill="none" stroke="#bcbcbc" stroke-width="0.6"/>
<path d="M406.6,326.5 Q393.7,328.4 378.4,328.4" fill="none" stroke="#bcbcbc" stroke-width="0.6"/>
<path d="M406.6,326.5 Q400.6,360.3 392,392" fill="none" stroke="#d0d0d0" stroke-width="0.5"/>
<path d="M382.9,349.2 Q371.5,359.9 359.2,372" fill="none" stroke="#b0b0b0" stroke-width="0.7"/>
<path d="M382.9,349.2 Q386.8,370.1 392,392" fill="none" stroke="#c4c4c4" stroke-width="0.6"/>
<path d="M382.9,349.2 Q355.9,348.9 326.5,352" fill="none" stroke="#c4c4c4" stroke-width="0.6"/>
<path d="M382.9,349.2 Q384,360.8 387.5,370.4" fill="none" stroke="#bcbcbc" stroke-width="0.6"/>
<path d="M382.9,349.2 Q367.8,348.3 354.7,350.8" fill="none" stroke="#bcbcbc" stroke-width="0.6"/>
<path d="M605,180 Q591.3,192 581.3,203.6" fill="none" stroke="#b0b0b0" stroke-width="0.7"/>
<path d="M605,180 Q576.2,186.9 548.8,189.9" fill="none" stroke="#c4c4c4" stroke-width="0.6"/>
<path d="M605,180 Q592.5,184.5 576.9,185.1" fill="none" stroke="#bcbcbc" stroke-width="0.6"/>
<path d="M581.3,203.6 Q568.6,213.7 557.7,227.1" fill="none" stroke="#b0b0b0" stroke-width="0.7"/>
<path d="M581.3,203.6 Q551.6,208.1 525.1,212.7" fill="none" stroke="#c4c4c4" stroke-width="0.6"/>
<path d="M581.3,203.6 Q568.1,205.7 553.2,208.3" fill="none" stroke="#bcbcbc" stroke-width="0.6"/>
<path d="M557.7,227.1 Q544.8,238.6 534,250.7" fill="none" stroke="#b0b0b0" stroke-width="0.7"/>
<path d="M557.7,227.1 Q530,232 501.4,235.4" fill="none" stroke="#c4c4c4" stroke-width="0.6"/>
<path d="M557.7,227.1 Q544.6,230.7 529.5,231.5" fill="none" stroke="#bcbcbc" stroke-width="0.6"/>
<path d="M534,250.7 Q522.8,260.9 510.3,274.2" fill="none" stroke="#b0b0b0" stroke-width="0.7"/>
<path d="M534,250.7 Q507.2,253.6 477.7,258.2" fill="none" stroke="#c4c4c4" stroke-width="0.6"/>
<path d="M534,250.7 Q520.2,252.1 505.9,254.6" fill="none" stroke="#bcbcbc" stroke-width="0.6"/>
<path d="M510.3,274.2 Q499.5,284.8 486.7,297.8" fill="none" stroke="#b0b0b0" stroke-width="0.7"/>
<path d="M510.3,274.2 Q481.2,276.6 454,280.9" fill="none" stroke="#c4c4c4" stroke-width="0.6"/>
<path d="M510.3,274.2 Q494.9,277.5 482.2,277.8" fill="none" stroke="#bcbcbc" stroke-width="0.6"/>
<path d="M486.7,297.8 Q475.1,308.9 463,321.3" fill="none" stroke="#b0b0b0" stroke-width="0.7"/>
<path d="M486.7,297.8 Q458.1,302.7 430.3,303.7" fill="none" stroke="#c4c4c4" stroke-width="0.6"/>
<path d="M486.7,297.8 Q472.6,298.3 458.5,300.9" fill="none" stroke="#bcbcbc" stroke-width="0.6"/>
<path d="M463,321.3 Q452.4,333.7 439.3,344.9" fill="none" stroke="#b0b0b0" stroke-width="0.7"/>
<path d="M463,321.3 Q436.8,322.3 406.6,326.5" fill="none" stroke="#c4c4c4" stroke-width="0.6"/>
<path d="M463,321.3 Q448.8,324 434.8,324.1" fill="none" stroke="#bcbcbc" stroke-width="0.6"/>
<path d="M439.3,344.9 Q428.9,358.3 415.7,368.4" fill="none" stroke="#b0b0b0" stroke-width="0.7"/>
<path d="M439.3,344.9 Q409.3,346.2 382.9,349.2" fill="none" stroke="#c4c4c4" stroke-width="0.6"/>
<path d="M439.3,344.9 Q423.7,344.8 411.1,347.3" fill="none" stroke="#bcbcbc" stroke-width="0.6"/>
<path d="M415.7,368.4 Q405.7,380.6 392,392" fill="none" stroke="#b0b0b0" stroke-width="0.7"/>
<path d="M415.7,368.4 Q389.2,369.7 359.2,372" fill="none" stroke="#c4c4c4" stroke-width="0.6"/>
<path d="M415.7,368.4 Q403,369.2 387.5,370.4" fill="none" stroke="#bcbcbc" stroke-width="0.6"/>
<path d="M334.9,93.9 Q354.8,93.4 373.2,91.1" fill="none" stroke="#c6c6c6" stroke-width="0.6"/>
<path d="M343.3,86.2 Q342,85.1 344.7,82.4" fill="none" stroke="#c6c6c6" stroke-width="0.6"/>
<path d="M361.3,89 Q350.9,83.4 337.6,82.8" fill="none" stroke="#c6c6c6" stroke-width="0.6"/>
<path d="M350.3,84.6 Q350.5,87.6 357.8,97" fill="none" stroke="#c6c6c6" stroke-width="0.6"/>
<path d="M344.7,91.7 Q351.5,90.9 363.6,86.8" fill="none" stroke="#c6c6c6" stroke-width="0.6"/>
<path d="M327.7,104.8 Q316.5,110.5 308.4,115.1" fill="none" stroke="#c6c6c6" stroke-width="0.6"/>
<path d="M322.8,106.4 Q323,112.7 325.4,123.9" fill="none" stroke="#c6c6c6" stroke-width="0.6"/>
<path d="M339.9,107.8 Q319.2,111.4 299.8,109.8" fill="none" stroke="#c6c6c6" stroke-width="0.6"/>
<path d="M313.2,115.3 Q318.9,109.7 332.2,103.4" fill="none" stroke="#c6c6c6" stroke-width="0.6"/>
<path d="M320.2,119.1 Q313.7,112.7 309.1,106.2" fill="none" stroke="#c6c6c6" stroke-width="0.6"/>
<path d="M295.2,118.5 Q290.5,126.8 292.1,135.3" fill="none" stroke="#c6c6c6" stroke-width="0.6"/>
<path d="M300.3,140.3 Q304,132.2 300.6,116.5" fill="none" stroke="#c6c6c6" stroke-width="0.6"/>
<path d="M311.7,119.4 Q318.1,126.5 318.1,131.8" fill="none" stroke="#c6c6c6" stroke-width="0.6"/>
<path d="M320.2,126.2 Q318.1,129.3 317.5,126.8" fill="none" stroke="#c6c6c6" stroke-width="0.6"/>
<path d="M319.9,126.7 Q307.5,123.2 294.8,121.6" fill="none" stroke="#c6c6c6" stroke-width="0.6"/>
<path d="M271.4,134.8 Q269.8,145.8 275.5,155.7" fill="none" stroke="#c6c6c6" stroke-width="0.6"/>
<path d="M297.1,140.9 Q298.3,142.6 297.8,143.6" fill="none" stroke="#c6c6c6" stroke-width="0.6"/>
<path d="M286.5,143.7 Q279.2,145.7 273.1,145.3" fill="none" stroke="#c6c6c6" stroke-width="0.6"/>
<path d="M277.4,143.2 Q268.3,139.3 259.3,139.7" fill="none" stroke="#c6c6c6" stroke-width="0.6"/>
<path d="M279.6,154.2 Q281.6,143.4 284,138.8" fill="none" stroke="#c6c6c6" stroke-width="0.6"/>
<path d="M243.3,155.4 Q242.7,151.5 241.9,155" fill="none" stroke="#c6c6c6" stroke-width="0.6"/>
<path d="M268.2,157.6 Q261.6,161 254.8,171.5" fill="none" stroke="#c6c6c6" stroke-width="0.6"/>
<path d="M256.9,160.6 Q269.9,166.1 277.2,163.6" fill="none" stroke="#c6c6c6" stroke-width="0.6"/>
<path d="M253.9,172.1 Q243,172.8 232.3,166.1" fill="none" stroke="#c6c6c6" stroke-width="0.6"/>
<path d="M275.4,163.5 Q260.7,168.2 252.9,175.1" fill="none" stroke="#c6c6c6" stroke-width="0.6"/>
<path d="M246.4,178.7 Q249.9,178.1 248.3,183.1" fill="none" stroke="#c6c6c6" stroke-width="0.6"/>
<path d="M220,187.8 Q223.1,178 226.1,171.2" fill="none" stroke="#c6c6c6" stroke-width="0.6"/>
<path d="M222.4,166.9 Q216.9,177.6 208.5,182.1" fill="none" stroke="#c6c6c6" stroke-width="0.6"/>
<path d="M212.3,179.6 Q215.6,175.8 216.6,174.2" fill="none" stroke="#c6c6c6" stroke-width="0.6"/>
<path d="M240.8,187.8 Q228.9,192.1 223.4,188.5" fill="none" stroke="#c6c6c6" stroke-width="0.6"/>
<path d="M212.8,198.4 Q221,199.4 221.4,199.1" fill="none" stroke="#c6c6c6" stroke-width="0.6"/>
<path d="M195.2,200.1 Q205.5,192 211.9,191.2" fill="none" stroke="#c6c6c6" stroke-width="0.6"/>
<path d="M222.4,199.3 Q211.4,205.5 199.1,209" fill="none" stroke="#c6c6c6" stroke-width="0.6"/>
<path d="M211.8,185.9 Q206.4,184.1 199.2,183.5" fill="none" stroke="#c6c6c6" stroke-width="0.6"/>
<path d="M197,205.2 Q200,192.1 200.6,186.6" fill="none" stroke="#c6c6c6" stroke-width="0.6"/>
<path d="M169.4,203.7 Q168.8,205.4 172.7,205.7" fill="none" stroke="#c6c6c6" stroke-width="0.6"/>
<path d="M192.2,212 Q186.6,218.2 186.8,217.5" fill="none" stroke="#c6c6c6" stroke-width="0.6"/>
<path d="M182.2,204.6 Q176.9,209.8 165.7,210.4" fill="none" stroke="#c6c6c6" stroke-width="0.6"/>
<path d="M184.6,209.6 Q174.2,208 162.7,208.9" fill="none" stroke="#c6c6c6" stroke-width="0.6"/>
<path d="M188.3,217.3 Q187.6,225.9 190.9,228" fill="none" stroke="#c6c6c6" stroke-width="0.6"/>
<path d="M142.6,224.8 Q148.5,228 161.5,226.7" fill="none" stroke="#c6c6c6" stroke-width="0.6"/>
<path d="M141.1,224.5 Q158.8,230.8 181.3,235.4" fill="none" stroke="#c6c6c6" stroke-width="0.6"/>
<path d="M155.2,235.8 Q164.2,233.1 176.3,233.5" fill="none" stroke="#c6c6c6" stroke-width="0.6"/>
<path d="M134.2,231.1 Q144.4,239.6 162.4,242.6" fill="none" stroke="#c6c6c6" stroke-width="0.6"/>
<path d="M167.2,237.4 Q165.1,234.1 167.4,237.1" fill="none" stroke="#c6c6c6" stroke-width="0.6"/>
<path d="M384.1,93.6 Q378.9,103.5 370.5,107.9" fill="none" stroke="#c6c6c6" stroke-width="0.6"/>
<path d="M394.3,104 Q392,104.7 385.1,105.1" fill="none" stroke="#c6c6c6" stroke-width="0.6"/>
<path d="M370.8,105 Q390.3,101.8 403.7,106.4" fill="none" stroke="#c6c6c6" stroke-width="0.6"/>
<path d="M380.3,97.5 Q381.7,105.9 379.2,117" fill="none" stroke="#c6c6c6" stroke-width="0.6"/>
<path d="M398.3,107.4 Q382,110 363.6,109.5" fill="none" stroke="#c6c6c6" stroke-width="0.6"/>
<path d="M351.9,135.1 Q352,135.3 348.9,129.7" fill="none" stroke="#c6c6c6" stroke-width="0.6"/>
<path d="M350.6,127.2 Q355.4,125.2 364.9,121.4" fill="none" stroke="#c6c6c6" stroke-width="0.6"/>
<path d="M334.4,125.4 Q342.9,121.3 357.7,110.4" fill="none" stroke="#c6c6c6" stroke-width="0.6"/>
<path d="M361.5,115.2 Q359.1,113.2 353.6,109" fill="none" stroke="#c6c6c6" stroke-width="0.6"/>
<path d="M358.7,131.1 Q349.1,127.8 341.7,119.5" fill="none" stroke="#c6c6c6" stroke-width="0.6"/>
<path d="M335.2,154.4 Q326.5,152 311.2,142.5" fill="none" stroke="#c6c6c6" stroke-width="0.6"/>
<path d="M328.4,131.2 Q333.3,132.2 332.6,128.1" fill="none" stroke="#c6c6c6" stroke-width="0.6"/>
<path d="M330.8,150.3 Q333.9,142.1 343.5,140.4" fill="none" stroke="#c6c6c6" stroke-width="0.6"/>
<path d="M349.5,140.7 Q336,137.5 330.1,138.3" fill="none" stroke="#c6c6c6" stroke-width="0.6"/>
<path d="M321.9,143 Q331.7,140.1 334.1,137.1" fill="none" stroke="#c6c6c6" stroke-width="0.6"/>
<path d="M318.9,168.5 Q307.5,162.3 297.1,151.8" fill="none" stroke="#c6c6c6" stroke-width="0.6"/>
<path d="M300.4,162.1 Q312.2,155.8 318.3,156.1" fill="none" stroke="#c6c6c6" stroke-width="0.6"/>
<path d="M328.6,159.6 Q317,157.4 301.1,147.6" fill="none" stroke="#c6c6c6" stroke-width="0.6"/>
<path d="M294.3,152.8 Q296.1,159.4 302.9,166.1" fill="none" stroke="#c6c6c6" stroke-width="0.6"/>
<path d="M297.4,164.4 Q292.9,162.5 291.9,165.1" fill="none" stroke="#c6c6c6" stroke-width="0.6"/>
<path d="M293,182.4 Q278.4,181.1 270.5,175.2" fill="none" stroke="#c6c6c6" stroke-width="0.6"/>
<path d="M286,187.7 Q289.3,182.3 294.1,178.6" fill="none" stroke="#c6c6c6" stroke-width="0.6"/>
<path d="M309,177.8 Q307.4,175.3 310.4,176.7" fill="none" stroke="#c6c6c6" stroke-width="0.6"/>
<path d="M299.5,185.8 Q284.3,184.7 273.3,184.2" fill="none" stroke="#c6c6c6" stroke-width="0.6"/>
<path d="M281.4,184.4 Q285.1,183.8 291.2,186" fill="none" stroke="#c6c6c6" stroke-width="0.6"/>
<path d="M243.2,197.9 Q250,200.9 262.1,204.8" fill="none" stroke="#c6c6c6" stroke-width="0.6"/>
<path d="M269.6,203.8 Q263.5,195 251.3,190.4" fill="none" stroke="#c6c6c6" stroke-width="0.6"/>
<path d="M257.3,188.6 Q256.4,195.3 261,207.4" fill="none" stroke="#c6c6c6" stroke-width="0.6"/>
<path d="M258.5,190.1 Q263.6,188.4 271.4,191.7" fill="none" stroke="#c6c6c6" stroke-width="0.6"/>
<path d="M272.7,210 Q252.4,203.6 238.6,199.1" fill="none" stroke="#c6c6c6" stroke-width="0.6"/>
<path d="M247.5,230.2 Q245.3,225.7 247.9,219" fill="none" stroke="#c6c6c6" stroke-width="0.6"/>
<path d="M232.9,203.6 Q238.7,206.8 246.2,205.4" fill="none" stroke="#c6c6c6" stroke-width="0.6"/>
<path d="M245.1,219.5 Q241.6,219.4 243.9,217.7" fill="none" stroke="#c6c6c6" stroke-width="0.6"/>
<path d="M229.9,218.7 Q242.4,222.3 253.7,222" fill="none" stroke="#c6c6c6" stroke-width="0.6"/>
<path d="M242.6,209.6 Q242,219.9 236.9,227" fill="none" stroke="#c6c6c6" stroke-width="0.6"/>
<path d="M222.1,244.4 Q219.9,241.3 220.6,236.2" fill="none" stroke="#c6c6c6" stroke-width="0.6"/>
<path d="M203.7,225.4 Q212.4,232.5 219.1,243.7" fill="none" stroke="#c6c6c6" stroke-width="0.6"/>
<path d="M213.5,232.1 Q218.7,237 221,235" fill="none" stroke="#c6c6c6" stroke-width="0.6"/>
<path d="M200.8,231.2 Q213.7,238.2 226.6,237.5" fill="none" stroke="#c6c6c6" stroke-width="0.6"/>
<path d="M198.8,226.5 Q201.4,230 197.1,233.1" fill="none" stroke="#c6c6c6" stroke-width="0.6"/>
<path d="M176.2,246.3 Q181.8,253.1 187.2,257.6" fill="none" stroke="#c6c6c6" stroke-width="0.6"/>
<path d="M201.3,259.6 Q187,260.9 177.4,259.3" fill="none" stroke="#c6c6c6" stroke-width="0.6"/>
<path d="M181.3,255.5 Q173,251.3 167.1,254.2" fill="none" stroke="#c6c6c6" stroke-width="0.6"/>
<path d="M186.1,246.5 Q180.9,245.8 177.1,241.8" fill="none" stroke="#c6c6c6" stroke-width="0.6"/>
<path d="M191.8,245.6 Q187.6,248.9 176.3,251.8" fill="none" stroke="#c6c6c6" stroke-width="0.6"/>
<path d="M398,120.8 Q404.9,118.5 417.7,111.8" fill="none" stroke="#c6c6c6" stroke-width="0.6"/>
<path d="M421.2,125.5 Q414.3,126.2 411.9,119.6" fill="none" stroke="#c6c6c6" stroke-width="0.6"/>
<path d="M406.3,119.5 Q411.5,122.7 417.2,129.2" fill="none" stroke="#c6c6c6" stroke-width="0.6"/>
<path d="M424.8,112.2 Q429.5,114.4 428.7,120.4" fill="none" stroke="#c6c6c6" stroke-width="0.6"/>
<path d="M416.2,112.4 Q413.8,113.9 419.4,111.8" fill="none" stroke="#c6c6c6" stroke-width="0.6"/>
<path d="M389.5,130.1 Q386.4,133.5 384.6,134.8" fill="none" stroke="#c6c6c6" stroke-width="0.6"/>
<path d="M399,137.6 Q394,146.9 396,150.9" fill="none" stroke="#c6c6c6" stroke-width="0.6"/>
<path d="M397,149.2 Q385,140.3 370.9,139.2" fill="none" stroke="#c6c6c6" stroke-width="0.6"/>
<path d="M363.9,139.6 Q379.5,134.6 401.5,135.4" fill="none" stroke="#c6c6c6" stroke-width="0.6"/>
<path d="M375.3,139.5 Q387.8,136.7 393.8,129.2" fill="none" stroke="#c6c6c6" stroke-width="0.6"/>
<path d="M346.6,159.7 Q356.4,165.1 363.5,164.2" fill="none" stroke="#c6c6c6" stroke-width="0.6"/>
<path d="M368,168.1 Q360.4,164.1 352.3,156.4" fill="none" stroke="#c6c6c6" stroke-width="0.6"/>
<path d="M355.6,163.6 Q362.7,155.7 374.1,153.5" fill="none" stroke="#c6c6c6" stroke-width="0.6"/>
<path d="M377,148.6 Q375.5,149.2 374.1,149.9" fill="none" stroke="#c6c6c6" stroke-width="0.6"/>
<path d="M359.3,164.8 Q350.7,161 342.5,156.3" fill="none" stroke="#c6c6c6" stroke-width="0.6"/>
<path d="M340.2,185.6 Q344.1,175.8 340.7,172.9" fill="none" stroke="#c6c6c6" stroke-width="0.6"/>
<path d="M344.1,181.2 Q336,179.6 324.9,171.1" fill="none" stroke="#c6c6c6" stroke-width="0.6"/>
<path d="M325.9,182.9 Q337.9,175.9 343.6,176.3" fill="none" stroke="#c6c6c6" stroke-width="0.6"/>
<path d="M347,182.2 Q336.9,181.3 329,180.8" fill="none" stroke="#c6c6c6" stroke-width="0.6"/>
<path d="M337.3,182 Q335.5,176.7 335,170.6" fill="none" stroke="#c6c6c6" stroke-width="0.6"/>
<path d="M334.7,196.9 Q333.4,196.2 332,199.1" fill="none" stroke="#c6c6c6" stroke-width="0.6"/>
<path d="M308,204.8 Q311.2,202.8 317.2,203.8" fill="none" stroke="#c6c6c6" stroke-width="0.6"/>
<path d="M310.5,193.9 Q309.9,200.4 316.7,203.3" fill="none" stroke="#c6c6c6" stroke-width="0.6"/>
<path d="M330.6,202.8 Q315.9,191.1 309.1,184.4" fill="none" stroke="#c6c6c6" stroke-width="0.6"/>
<path d="M330.2,204.6 Q327.1,205.1 317.3,203.8" fill="none" stroke="#c6c6c6" stroke-width="0.6"/>
<path d="M296,219.3 Q299.1,217.3 299.4,220" fill="none" stroke="#c6c6c6" stroke-width="0.6"/>
<path d="M301.7,216.9 Q305,210.5 313.3,211.6" fill="none" stroke="#c6c6c6" stroke-width="0.6"/>
<path d="M294.3,227.6 Q301.5,223.5 303.5,214.9" fill="none" stroke="#c6c6c6" stroke-width="0.6"/>
<path d="M303,211.2 Q295.4,210 290.6,209.9" fill="none" stroke="#c6c6c6" stroke-width="0.6"/>
<path d="M289.5,225.6 Q280.6,214 279.1,208.4" fill="none" stroke="#c6c6c6" stroke-width="0.6"/>
<path d="M279.8,241.1 Q279.2,239.9 286.4,240.5" fill="none" stroke="#c6c6c6" stroke-width="0.6"/>
<path d="M264,244.1 Q275.2,240 287.7,242.2" fill="none" stroke="#c6c6c6" stroke-width="0.6"/>
<path d="M283,231 Q273.3,226.3 271.6,218.6" fill="none" stroke="#c6c6c6" stroke-width="0.6"/>
<path d="M247.9,236 Q245.6,230.9 249.2,233.5" fill="none" stroke="#c6c6c6" stroke-width="0.6"/>
<path d="M284.7,233 Q282,234.7 286.5,232.1" fill="none" stroke="#c6c6c6" stroke-width="0.6"/>
<path d="M246.1,264.1 Q256.6,258.5 265,249.5" fill="none" stroke="#c6c6c6" stroke-width="0.6"/>
<path d="M236,260.7 Q234,255.2 228.5,257.4" fill="none" stroke="#c6c6c6" stroke-width="0.6"/>
<path d="M228.1,246.9 Q246.6,250.8 268,251" fill="none" stroke="#c6c6c6" stroke-width="0.6"/>
<path d="M228.1,253.8 Q241.8,249.7 257.6,244.5" fill="none" stroke="#c6c6c6" stroke-width="0.6"/>
<path d="M241.4,255.4 Q234.1,254.9 228.9,252.1" fill="none" stroke="#c6c6c6" stroke-width="0.6"/>
<path d="M230,273.4 Q225.2,276.8 213.2,275.6" fill="none" stroke="#c6c6c6" stroke-width="0.6"/>
<path d="M230.9,269.7 Q216.1,273.8 198.1,272.7" fill="none" stroke="#c6c6c6" stroke-width="0.6"/>
<path d="M215.8,271.1 Q224.5,278.2 231.5,288.2" fill="none" stroke="#c6c6c6" stroke-width="0.6"/>
<path d="M212.2,278.4 Q214.6,279.1 215.3,273.5" fill="none" stroke="#c6c6c6" stroke-width="0.6"/>
<path d="M239,274.2 Q225.4,266.9 213.1,258.2" fill="none" stroke="#c6c6c6" stroke-width="0.6"/>
<path d="M447.9,144.1 Q438.5,141.2 424,132.5" fill="none" stroke="#c6c6c6" stroke-width="0.6"/>
<path d="M454.6,128.5 Q454.2,139 451,142.9" fill="none" stroke="#c6c6c6" stroke-width="0.6"/>
<path d="M451.7,121.8 Q444.2,132.3 441.5,138.7" fill="none" stroke="#c6c6c6" stroke-width="0.6"/>
<path d="M467.2,132.4 Q456.4,132.4 446.1,137" fill="none" stroke="#c6c6c6" stroke-width="0.6"/>
<path d="M432.9,133.8 Q441.8,136.9 457.3,135.1" fill="none" stroke="#c6c6c6" stroke-width="0.6"/>
<path d="M438.3,150.5 Q430.3,156 416.2,161.1" fill="none" stroke="#c6c6c6" stroke-width="0.6"/>
<path d="M420.2,153.5 Q417.7,149.2 420.3,141.6" fill="none" stroke="#c6c6c6" stroke-width="0.6"/>
<path d="M417.1,151.4 Q415.5,147.6 419.5,151" fill="none" stroke="#c6c6c6" stroke-width="0.6"/>
<path d="M442.2,156.5 Q427,150 407.1,149.1" fill="none" stroke="#c6c6c6" stroke-width="0.6"/>
<path d="M429.9,150.3 Q428.8,150.4 435.1,142.7" fill="none" stroke="#c6c6c6" stroke-width="0.6"/>
<path d="M411.5,177.2 Q411.6,172.1 407.1,168.3" fill="none" stroke="#c6c6c6" stroke-width="0.6"/>
<path d="M407.5,184.1 Q401.1,181.4 398.6,186.2" fill="none" stroke="#c6c6c6" stroke-width="0.6"/>
<path d="M397.1,161.3 Q397.2,162.1 396.4,157" fill="none" stroke="#c6c6c6" stroke-width="0.6"/>
<path d="M387.3,180.4 Q405.9,174 423,169.3" fill="none" stroke="#c6c6c6" stroke-width="0.6"/>
<path d="M376,175.4 Q384,176.2 389.8,169.7" fill="none" stroke="#c6c6c6" stroke-width="0.6"/>
<path d="M383.6,192.5 Q386.4,192.4 381.9,184.4" fill="none" stroke="#c6c6c6" stroke-width="0.6"/>
<path d="M377.4,178.6 Q377.4,185.2 371,185.3" fill="none" stroke="#c6c6c6" stroke-width="0.6"/>
<path d="M397.2,188.1 Q389.7,198.3 379.8,200.8" fill="none" stroke="#c6c6c6" stroke-width="0.6"/>
<path d="M369.5,178.1 Q372.8,189.9 373.3,204.9" fill="none" stroke="#c6c6c6" stroke-width="0.6"/>
<path d="M372.3,198.6 Q367.6,187.5 366.8,182.4" fill="none" stroke="#c6c6c6" stroke-width="0.6"/>
<path d="M359,205.1 Q356.7,199 351.6,200.7" fill="none" stroke="#c6c6c6" stroke-width="0.6"/>
<path d="M366,209.5 Q344,214.6 326.4,212.8" fill="none" stroke="#c6c6c6" stroke-width="0.6"/>
<path d="M354.4,225.9 Q344.6,218.9 341.2,205.1" fill="none" stroke="#c6c6c6" stroke-width="0.6"/>
<path d="M359.8,220.3 Q359.5,214 353.9,208.1" fill="none" stroke="#c6c6c6" stroke-width="0.6"/>
<path d="M364.4,207 Q360.5,203.3 353.2,198.7" fill="none" stroke="#c6c6c6" stroke-width="0.6"/>
<path d="M307.5,233.2 Q312.2,227.9 322.4,226.3" fill="none" stroke="#c6c6c6" stroke-width="0.6"/>
<path d="M342.9,234.5 Q328.6,233.5 317.3,226.1" fill="none" stroke="#c6c6c6" stroke-width="0.6"/>
<path d="M303.9,234.8 Q305.3,231.2 304,232.1" fill="none" stroke="#c6c6c6" stroke-width="0.6"/>
<path d="M332.2,227.4 Q328.6,228.6 327.1,221.9" fill="none" stroke="#c6c6c6" stroke-width="0.6"/>
<path d="M334.1,249.3 Q330.1,231.6 319.8,220.9" fill="none" stroke="#c6c6c6" stroke-width="0.6"/>
<path d="M316.4,251.9 Q326.3,250.1 331.3,250.8" fill="none" stroke="#c6c6c6" stroke-width="0.6"/>
<path d="M304.2,235.7 Q306.8,246.6 314.3,258.5" fill="none" stroke="#c6c6c6" stroke-width="0.6"/>
<path d="M324.3,253.7 Q317.1,252 315,246" fill="none" stroke="#c6c6c6" stroke-width="0.6"/>
<path d="M318.2,249.7 Q310.1,243 300.2,236.3" fill="none" stroke="#c6c6c6" stroke-width="0.6"/>
<path d="M303.7,242.1 Q305.8,250.8 302.8,258.2" fill="none" stroke="#c6c6c6" stroke-width="0.6"/>
<path d="M280.9,257.8 Q287.3,262.6 290.1,274.5" fill="none" stroke="#c6c6c6" stroke-width="0.6"/>
<path d="M294.4,274.5 Q288.6,276.3 282.8,285.8" fill="none" stroke="#c6c6c6" stroke-width="0.6"/>
<path d="M294.3,279.3 Q293.7,279.4 298,274.3" fill="none" stroke="#c6c6c6" stroke-width="0.6"/>
<path d="M284,262.8 Q274.9,267.3 273.8,271.5" fill="none" stroke="#c6c6c6" stroke-width="0.6"/>
<path d="M278.2,271.3 Q273,273.1 262.8,269.1" fill="none" stroke="#c6c6c6" stroke-width="0.6"/>
<path d="M245.6,292.7 Q242.6,296.7 246.7,294.7" fill="none" stroke="#c6c6c6" stroke-width="0.6"/>
<path d="M271.5,300.8 Q264.2,293 256.2,292.9" fill="none" stroke="#c6c6c6" stroke-width="0.6"/>
<path d="M278.4,295.5 Q265,289.3 255.6,277.9" fill="none" stroke="#c6c6c6" stroke-width="0.6"/>
<path d="M250.7,274.9 Q256.7,283.1 270.3,289.8" fill="none" stroke="#c6c6c6" stroke-width="0.6"/>
<path d="M258.5,294 Q268.5,292.7 272.6,288" fill="none" stroke="#c6c6c6" stroke-width="0.6"/>
<path d="M473.5,131.6 Q474.6,135.4 479.1,145.3" fill="none" stroke="#c6c6c6" stroke-width="0.6"/>
<path d="M484.9,136.6 Q476.5,145.9 473.8,154.1" fill="none" stroke="#c6c6c6" stroke-width="0.6"/>
<path d="M495.4,141.6 Q486.6,149.6 479.6,158.9" fill="none" stroke="#c6c6c6" stroke-width="0.6"/>
<path d="M489.8,150.4 Q479.9,150.4 465.5,153.1" fill="none" stroke="#c6c6c6" stroke-width="0.6"/>
<path d="M474.8,138.5 Q472.8,149.8 465.8,154.5" fill="none" stroke="#c6c6c6" stroke-width="0.6"/>
<path d="M457.6,177.9 Q452.8,172.5 440.7,160.2" fill="none" stroke="#c6c6c6" stroke-width="0.6"/>
<path d="M449.3,161 Q456.5,159.6 463.1,165.1" fill="none" stroke="#c6c6c6" stroke-width="0.6"/>
<path d="M453.3,165.3 Q454.7,160.9 448.6,152" fill="none" stroke="#c6c6c6" stroke-width="0.6"/>
<path d="M466.7,175.1 Q464.7,173.1 456.5,178.5" fill="none" stroke="#c6c6c6" stroke-width="0.6"/>
<path d="M465.8,163.2 Q466.6,166.9 466.8,163.9" fill="none" stroke="#c6c6c6" stroke-width="0.6"/>
<path d="M441.7,183.5 Q441.5,183 434.1,185.8" fill="none" stroke="#c6c6c6" stroke-width="0.6"/>
<path d="M422,187.1 Q423.3,185.2 417.2,183.2" fill="none" stroke="#c6c6c6" stroke-width="0.6"/>
<path d="M425.1,182.8 Q430.2,178.5 441.3,180.1" fill="none" stroke="#c6c6c6" stroke-width="0.6"/>
<path d="M427.3,181.9 Q425.9,180.6 431,178.5" fill="none" stroke="#c6c6c6" stroke-width="0.6"/>
<path d="M440.3,194.3 Q433,194.4 430.6,191.1" fill="none" stroke="#c6c6c6" stroke-width="0.6"/>
<path d="M405.7,208.1 Q407.6,206.4 412.5,208.8" fill="none" stroke="#c6c6c6" stroke-width="0.6"/>
<path d="M398.7,203.6 Q396.6,204.4 402.2,207.6" fill="none" stroke="#c6c6c6" stroke-width="0.6"/>
<path d="M426.1,207.8 Q416.4,212 410.1,208.4" fill="none" stroke="#c6c6c6" stroke-width="0.6"/>
<path d="M394.9,210.1 Q404.1,201.3 407.2,193.5" fill="none" stroke="#c6c6c6" stroke-width="0.6"/>
<path d="M396.5,198.5 Q395.4,202.9 400.5,211.6" fill="none" stroke="#c6c6c6" stroke-width="0.6"/>
<path d="M393.6,241.1 Q384.1,231.7 376.9,219.4" fill="none" stroke="#c6c6c6" stroke-width="0.6"/>
<path d="M379.8,237.7 Q389,237.9 394.4,234.1" fill="none" stroke="#c6c6c6" stroke-width="0.6"/>
<path d="M393.4,232.2 Q394.3,231.9 388.7,237.5" fill="none" stroke="#c6c6c6" stroke-width="0.6"/>
<path d="M408.2,224.1 Q399.5,233.1 390.9,234.6" fill="none" stroke="#c6c6c6" stroke-width="0.6"/>
<path d="M388.6,227.9 Q387.5,233.5 384.7,241" fill="none" stroke="#c6c6c6" stroke-width="0.6"/>
<path d="M360,247.6 Q365.5,248.6 372.8,248.8" fill="none" stroke="#c6c6c6" stroke-width="0.6"/>
<path d="M361,243.6 Q361.3,252.1 361.6,261.5" fill="none" stroke="#c6c6c6" stroke-width="0.6"/>
<path d="M354.9,239.8 Q351.7,238.9 347.2,244.7" fill="none" stroke="#c6c6c6" stroke-width="0.6"/>
<path d="M378.5,252.8 Q374.8,255.2 363.7,262.3" fill="none" stroke="#c6c6c6" stroke-width="0.6"/>
<path d="M348.4,256.5 Q352.4,244 355.3,231.6" fill="none" stroke="#c6c6c6" stroke-width="0.6"/>
<path d="M344,283.4 Q335.3,282.4 326.2,281.1" fill="none" stroke="#c6c6c6" stroke-width="0.6"/>
<path d="M345.5,271.1 Q336.5,273.8 329.9,269.4" fill="none" stroke="#c6c6c6" stroke-width="0.6"/>
<path d="M342,273.7 Q333.5,267.5 326.7,260.2" fill="none" stroke="#c6c6c6" stroke-width="0.6"/>
<path d="M330.2,279.3 Q340.8,279.7 352.3,278.1" fill="none" stroke="#c6c6c6" stroke-width="0.6"/>
<path d="M356.7,275.7 Q340.9,275 330.3,277.2" fill="none" stroke="#c6c6c6" stroke-width="0.6"/>
<path d="M320.9,306.7 Q325,296.4 322.7,283" fill="none" stroke="#c6c6c6" stroke-width="0.6"/>
<path d="M311.9,307.2 Q317,300.1 327.6,296.5" fill="none" stroke="#c6c6c6" stroke-width="0.6"/>
<path d="M313.3,291.1 Q312.9,285.6 310.4,278.4" fill="none" stroke="#c6c6c6" stroke-width="0.6"/>
<path d="M296.5,298.3 Q311.7,293.3 328.4,283.8" fill="none" stroke="#c6c6c6" stroke-width="0.6"/>
<path d="M302.2,291.1 Q304.5,285 301.4,277.5" fill="none" stroke="#c6c6c6" stroke-width="0.6"/>
<path d="M302,308.6 Q293.1,311.8 287.9,312.7" fill="none" stroke="#c6c6c6" stroke-width="0.6"/>
<path d="M278.5,322.6 Q283.1,314.1 293.8,311.2" fill="none" stroke="#c6c6c6" stroke-width="0.6"/>
<path d="M307.1,308.4 Q295.7,305.3 284,297" fill="none" stroke="#c6c6c6" stroke-width="0.6"/>
<path d="M285.7,320.2 Q288.3,305.2 286.5,293.1" fill="none" stroke="#c6c6c6" stroke-width="0.6"/>
<path d="M299.8,312.8 Q288.7,309.8 284,300.3" fill="none" stroke="#c6c6c6" stroke-width="0.6"/>
<path d="M518.1,156.4 Q512,159.1 513,155.5" fill="none" stroke="#c6c6c6" stroke-width="0.6"/>
<path d="M503.7,169.6 Q503.4,161.4 507.1,160.4" fill="none" stroke="#c6c6c6" stroke-width="0.6"/>
<path d="M517.5,172.1 Q509.5,166.8 496.4,164.7" fill="none" stroke="#c6c6c6" stroke-width="0.6"/>
<path d="M504.3,169.9 Q500.6,168.2 501.1,168.2" fill="none" stroke="#c6c6c6" stroke-width="0.6"/>
<path d="M525.6,155.4 Q511.1,162.1 496.8,164.1" fill="none" stroke="#c6c6c6" stroke-width="0.6"/>
<path d="M487.5,169.6 Q493,168.8 491,171.5" fill="none" stroke="#c6c6c6" stroke-width="0.6"/>
<path d="M499.3,172.7 Q494.8,172 492,178.2" fill="none" stroke="#c6c6c6" stroke-width="0.6"/>
<path d="M468.1,181.8 Q476.3,175.5 489.4,172.6" fill="none" stroke="#c6c6c6" stroke-width="0.6"/>
<path d="M490.6,166.5 Q491.2,174.4 497.3,179" fill="none" stroke="#c6c6c6" stroke-width="0.6"/>
<path d="M480.4,169.6 Q493.7,175.8 507.9,176.8" fill="none" stroke="#c6c6c6" stroke-width="0.6"/>
<path d="M482.4,198.8 Q467.4,205.3 454.3,204.3" fill="none" stroke="#c6c6c6" stroke-width="0.6"/>
<path d="M444.2,207 Q457.2,198.5 471,195.9" fill="none" stroke="#c6c6c6" stroke-width="0.6"/>
<path d="M476.8,199.6 Q475,202.6 475.3,209.6" fill="none" stroke="#c6c6c6" stroke-width="0.6"/>
<path d="M474.8,197.1 Q480.2,198.4 485.5,199" fill="none" stroke="#c6c6c6" stroke-width="0.6"/>
<path d="M450.5,204.2 Q454.2,202.3 456.9,203.4" fill="none" stroke="#c6c6c6" stroke-width="0.6"/>
<path d="M446.9,212.7 Q432.9,220.5 421.8,225.8" fill="none" stroke="#c6c6c6" stroke-width="0.6"/>
<path d="M426.5,218.5 Q429.7,216.4 436.1,221.2" fill="none" stroke="#c6c6c6" stroke-width="0.6"/>
<path d="M441,214.5 Q430.4,217.5 423.3,222.1" fill="none" stroke="#c6c6c6" stroke-width="0.6"/>
<path d="M447.5,235.8 Q443.1,234.7 444.6,237.2" fill="none" stroke="#c6c6c6" stroke-width="0.6"/>
<path d="M421.1,219.8 Q434.6,222.5 449.5,222.7" fill="none" stroke="#c6c6c6" stroke-width="0.6"/>
<path d="M429.4,242.7 Q431.6,242.5 431.8,247.4" fill="none" stroke="#c6c6c6" stroke-width="0.6"/>
<path d="M394.6,247.4 Q403.4,246.7 419.5,253.4" fill="none" stroke="#c6c6c6" stroke-width="0.6"/>
<path d="M413.1,232.9 Q409.5,234.5 413.3,239.1" fill="none" stroke="#c6c6c6" stroke-width="0.6"/>
<path d="M429.1,240.2 Q429.4,244.2 426.3,252" fill="none" stroke="#c6c6c6" stroke-width="0.6"/>
<path d="M410.4,247.8 Q419.8,242 423.9,231.7" fill="none" stroke="#c6c6c6" stroke-width="0.6"/>
<path d="M397.1,253 Q396,261.9 402.2,274.9" fill="none" stroke="#c6c6c6" stroke-width="0.6"/>
<path d="M373.6,266 Q375.7,264.8 373.9,270.3" fill="none" stroke="#c6c6c6" stroke-width="0.6"/>
<path d="M402.1,267.5 Q396,269.4 393.5,277.9" fill="none" stroke="#c6c6c6" stroke-width="0.6"/>
<path d="M409.6,272.5 Q408.1,277.9 402.7,278.1" fill="none" stroke="#c6c6c6" stroke-width="0.6"/>
<path d="M398.5,267.7 Q385.6,265.4 373.9,263" fill="none" stroke="#c6c6c6" stroke-width="0.6"/>
<path d="M392.3,287.6 Q392.2,287.7 388.9,282.8" fill="none" stroke="#c6c6c6" stroke-width="0.6"/>
<path d="M360.6,284.7 Q371.4,290.1 381.5,299.5" fill="none" stroke="#c6c6c6" stroke-width="0.6"/>
<path d="M358.4,277.1 Q364.5,275.7 373.7,280" fill="none" stroke="#c6c6c6" stroke-width="0.6"/>
<path d="M372.2,295.5 Q369.7,286.2 367,277.8" fill="none" stroke="#c6c6c6" stroke-width="0.6"/>
<path d="M387.2,292.7 Q367.6,293.2 353.8,292.7" fill="none" stroke="#c6c6c6" stroke-width="0.6"/>
<path d="M332.8,313.3 Q334.3,316.1 341.1,316.2" fill="none" stroke="#c6c6c6" stroke-width="0.6"/>
<path d="M349.9,310.7 Q345.1,314.6 346.6,321.9" fill="none" stroke="#c6c6c6" stroke-width="0.6"/>
<path d="M348.1,300.7 Q339.9,300.3 336.6,296.7" fill="none" stroke="#c6c6c6" stroke-width="0.6"/>
<path d="M353.2,300.3 Q345.9,300.3 340.7,305.7" fill="none" stroke="#c6c6c6" stroke-width="0.6"/>
<path d="M343.3,291.2 Q346.3,309.5 355.9,324.4" fill="none" stroke="#c6c6c6" stroke-width="0.6"/>
<path d="M336.2,342 Q322.3,330.2 309.5,323.3" fill="none" stroke="#c6c6c6" stroke-width="0.6"/>
<path d="M335.1,321.4 Q334.7,335.5 332.3,342.6" fill="none" stroke="#c6c6c6" stroke-width="0.6"/>
<path d="M332.9,328.8 Q323.8,325.9 322.3,318.5" fill="none" stroke="#c6c6c6" stroke-width="0.6"/>
<path d="M337.9,333.4 Q325.9,334.1 308.4,328" fill="none" stroke="#c6c6c6" stroke-width="0.6"/>
<path d="M304.4,330.8 Q314.3,334.4 327.1,343" fill="none" stroke="#c6c6c6" stroke-width="0.6"/>
<path d="M559.2,172.1 Q548,174.3 538.9,171.3" fill="none" stroke="#c6c6c6" stroke-width="0.6"/>
<path d="M546.8,158.2 Q547.7,168.6 543.5,175.6" fill="none" stroke="#c6c6c6" stroke-width="0.6"/>
<path d="M547,187.3 Q542.9,178 544.2,171.8" fill="none" stroke="#c6c6c6" stroke-width="0.6"/>
<path d="M557,163.5 Q557.3,168.9 558.5,166.8" fill="none" stroke="#c6c6c6" stroke-width="0.6"/>
<path d="M542,156.3 Q547.6,156.2 549.8,164.2" fill="none" stroke="#c6c6c6" stroke-width="0.6"/>
<path d="M523.4,207.1 Q525.8,203.1 531.8,196.6" fill="none" stroke="#c6c6c6" stroke-width="0.6"/>
<path d="M523,192.7 Q521.3,194.3 516.9,190.6" fill="none" stroke="#c6c6c6" stroke-width="0.6"/>
<path d="M541.8,192.3 Q529.1,190 515.4,190.1" fill="none" stroke="#c6c6c6" stroke-width="0.6"/>
<path d="M520.6,180.8 Q522,189.1 515.9,190.9" fill="none" stroke="#c6c6c6" stroke-width="0.6"/>
<path d="M521.3,210.1 Q529.6,203.3 532.9,203.5" fill="none" stroke="#c6c6c6" stroke-width="0.6"/>
<path d="M500.1,221.7 Q498,218.3 488.7,215.2" fill="none" stroke="#c6c6c6" stroke-width="0.6"/>
<path d="M506.5,214.3 Q490.9,216.1 482.7,222.8" fill="none" stroke="#c6c6c6" stroke-width="0.6"/>
<path d="M504,218.1 Q490.8,216.7 479.7,214" fill="none" stroke="#c6c6c6" stroke-width="0.6"/>
<path d="M493.5,216 Q494.5,213.1 501.5,215.2" fill="none" stroke="#c6c6c6" stroke-width="0.6"/>
<path d="M508.5,223.5 Q490.2,217.9 475.8,218.8" fill="none" stroke="#c6c6c6" stroke-width="0.6"/>
<path d="M480.2,233.9 Q473.7,237.5 471.6,240" fill="none" stroke="#c6c6c6" stroke-width="0.6"/>
<path d="M460.3,233.2 Q472.5,228.7 486.1,230.9" fill="none" stroke="#c6c6c6" stroke-width="0.6"/>
<path d="M462.7,246.1 Q468.3,242.3 469.8,244.6" fill="none" stroke="#c6c6c6" stroke-width="0.6"/>
<path d="M484,251.7 Q467.4,243.2 452.5,240" fill="none" stroke="#c6c6c6" stroke-width="0.6"/>
<path d="M486.8,247.6 Q491,237.8 490.8,235.1" fill="none" stroke="#c6c6c6" stroke-width="0.6"/>
<path d="M444,254.2 Q435.5,253.2 431.5,255.4" fill="none" stroke="#c6c6c6" stroke-width="0.6"/>
<path d="M458.1,263.1 Q461.7,267.3 459.4,270.5" fill="none" stroke="#c6c6c6" stroke-width="0.6"/>
<path d="M454.4,276.6 Q442.4,271.1 432.9,261.3" fill="none" stroke="#c6c6c6" stroke-width="0.6"/>
<path d="M447.7,271.6 Q445.9,265.6 440.3,252.3" fill="none" stroke="#c6c6c6" stroke-width="0.6"/>
<path d="M467.6,254.7 Q465.4,256.8 462.4,254.1" fill="none" stroke="#c6c6c6" stroke-width="0.6"/>
<path d="M403.1,286.4 Q417.8,283.4 437.4,281.2" fill="none" stroke="#c6c6c6" stroke-width="0.6"/>
<path d="M435,291.4 Q426.7,281.3 424.6,266.5" fill="none" stroke="#c6c6c6" stroke-width="0.6"/>
<path d="M414.3,279.5 Q413.5,279 414.6,284.2" fill="none" stroke="#c6c6c6" stroke-width="0.6"/>
<path d="M437.2,291.1 Q434.6,288.6 424.7,293.9" fill="none" stroke="#c6c6c6" stroke-width="0.6"/>
<path d="M429,273.2 Q425.4,278.9 417.1,292.1" fill="none" stroke="#c6c6c6" stroke-width="0.6"/>
<path d="M384.2,307.4 Q397.2,304.4 410.6,306.9" fill="none" stroke="#c6c6c6" stroke-width="0.6"/>
<path d="M416,309.9 Q410.4,311.2 411.7,315.3" fill="none" stroke="#c6c6c6" stroke-width="0.6"/>
<path d="M383.5,309.7 Q397.1,302.5 415.9,297.4" fill="none" stroke="#c6c6c6" stroke-width="0.6"/>
<path d="M399.3,307.2 Q396.7,304.6 402,300.8" fill="none" stroke="#c6c6c6" stroke-width="0.6"/>
<path d="M408.1,292.4 Q395,301.5 389.3,316.2" fill="none" stroke="#c6c6c6" stroke-width="0.6"/>
<path d="M389.4,326.5 Q378.3,325.9 371,324.2" fill="none" stroke="#c6c6c6" stroke-width="0.6"/>
<path d="M368.5,339.2 Q387.5,335.3 405.6,327.1" fill="none" stroke="#c6c6c6" stroke-width="0.6"/>
<path d="M384.1,341.7 Q380.8,336.1 379.6,334" fill="none" stroke="#c6c6c6" stroke-width="0.6"/>
<path d="M379.3,342.4 Q382.3,343.7 388.5,340.8" fill="none" stroke="#c6c6c6" stroke-width="0.6"/>
<path d="M386.1,333.2 Q386.6,329.6 386.4,327.6" fill="none" stroke="#c6c6c6" stroke-width="0.6"/>
<path d="M344.2,338.6 Q340.6,347.3 337.4,358.2" fill="none" stroke="#c6c6c6" stroke-width="0.6"/>
<path d="M352.6,339.9 Q351.6,342.8 358.4,339.8" fill="none" stroke="#c6c6c6" stroke-width="0.6"/>
<path d="M354.5,348.7 Q355.4,344.7 361.7,347.7" fill="none" stroke="#c6c6c6" stroke-width="0.6"/>
<path d="M352.8,342.7 Q360.4,348.3 360.9,356.4" fill="none" stroke="#c6c6c6" stroke-width="0.6"/>
<path d="M366.5,361 Q358.2,352.1 348.6,335.5" fill="none" stroke="#c6c6c6" stroke-width="0.6"/>
<path d="M565.8,189.6 Q562.3,191 565.9,192.7" fill="none" stroke="#c6c6c6" stroke-width="0.6"/>
<path d="M595.2,185.2 Q585.1,176.2 580.3,171" fill="none" stroke="#c6c6c6" stroke-width="0.6"/>
<path d="M590.2,181.3 Q586.3,182 580.7,176.9" fill="none" stroke="#c6c6c6" stroke-width="0.6"/>
<path d="M588.9,180 Q582,186.2 573.5,199.1" fill="none" stroke="#c6c6c6" stroke-width="0.6"/>
<path d="M578.1,198 Q576.7,186.6 580.4,174.7" fill="none" stroke="#c6c6c6" stroke-width="0.6"/>
<path d="M562.1,216.9 Q566.6,214.2 573.8,207.5" fill="none" stroke="#c6c6c6" stroke-width="0.6"/>
<path d="M560.3,208.2 Q558.1,206.9 562.9,207" fill="none" stroke="#c6c6c6" stroke-width="0.6"/>
<path d="M535.4,204.8 Q542.5,203.4 548,205.8" fill="none" stroke="#c6c6c6" stroke-width="0.6"/>
<path d="M563.6,196.5 Q568.5,202.6 565.6,215.8" fill="none" stroke="#c6c6c6" stroke-width="0.6"/>
<path d="M551.6,215.1 Q551.7,203 557.3,196.5" fill="none" stroke="#c6c6c6" stroke-width="0.6"/>
<path d="M548,225.8 Q545.1,230.8 541.6,234.3" fill="none" stroke="#c6c6c6" stroke-width="0.6"/>
<path d="M527.6,235.9 Q534.2,230.5 536.9,229" fill="none" stroke="#c6c6c6" stroke-width="0.6"/>
<path d="M530.2,240.7 Q538.8,239.7 543.1,231.1" fill="none" stroke="#c6c6c6" stroke-width="0.6"/>
<path d="M533.3,225.6 Q523.6,229.9 519.9,242" fill="none" stroke="#c6c6c6" stroke-width="0.6"/>
<path d="M525.1,234.7 Q537.3,231.3 541.7,232.3" fill="none" stroke="#c6c6c6" stroke-width="0.6"/>
<path d="M523.9,249.1 Q508,244 499.1,238.9" fill="none" stroke="#c6c6c6" stroke-width="0.6"/>
<path d="M515.2,248.1 Q516.5,250.6 523.4,258.3" fill="none" stroke="#c6c6c6" stroke-width="0.6"/>
<path d="M503.6,268.2 Q507,251.3 506,238.6" fill="none" stroke="#c6c6c6" stroke-width="0.6"/>
<path d="M521.6,262.1 Q520.2,257.3 514,253.1" fill="none" stroke="#c6c6c6" stroke-width="0.6"/>
<path d="M490.6,261.2 Q485.6,258.6 487.6,253.8" fill="none" stroke="#c6c6c6" stroke-width="0.6"/>
<path d="M470.4,284.6 Q467.6,281.6 466.3,272" fill="none" stroke="#c6c6c6" stroke-width="0.6"/>
<path d="M493.7,288.1 Q484.5,277.3 479.1,267.6" fill="none" stroke="#c6c6c6" stroke-width="0.6"/>
<path d="M480.5,266.6 Q482.2,279.9 487.3,285.4" fill="none" stroke="#c6c6c6" stroke-width="0.6"/>
<path d="M471.3,274.7 Q469.8,275.7 462.4,280.4" fill="none" stroke="#c6c6c6" stroke-width="0.6"/>
<path d="M482.8,289.5 Q480.8,283 479.1,270.3" fill="none" stroke="#c6c6c6" stroke-width="0.6"/>
<path d="M443.1,299.3 Q453.6,303.5 462.8,301.5" fill="none" stroke="#c6c6c6" stroke-width="0.6"/>
<path d="M439.9,304.7 Q446.5,302.3 447.3,305" fill="none" stroke="#c6c6c6" stroke-width="0.6"/>
<path d="M458.7,318.8 Q457.8,306.5 463.2,286.5" fill="none" stroke="#c6c6c6" stroke-width="0.6"/>
<path d="M432.7,301.9 Q433.9,298.4 441.5,300.3" fill="none" stroke="#c6c6c6" stroke-width="0.6"/>
<path d="M474.2,294.5 Q460.5,304.2 443.4,307.8" fill="none" stroke="#c6c6c6" stroke-width="0.6"/>
<path d="M461.6,321.7 Q441.9,320.2 419.2,326" fill="none" stroke="#c6c6c6" stroke-width="0.6"/>
<path d="M441.3,318 Q437.8,319.8 441.9,313.7" fill="none" stroke="#c6c6c6" stroke-width="0.6"/>
<path d="M419.9,329.5 Q418.4,322.7 422.7,317" fill="none" stroke="#c6c6c6" stroke-width="0.6"/>
<path d="M419.9,322.6 Q418.8,319.8 417.7,323.2" fill="none" stroke="#c6c6c6" stroke-width="0.6"/>
<path d="M430.1,321.4 Q438.8,328.5 452.1,328.1" fill="none" stroke="#c6c6c6" stroke-width="0.6"/>
<path d="M418.2,359.9 Q412.9,344.3 411.4,335.6" fill="none" stroke="#c6c6c6" stroke-width="0.6"/>
<path d="M396,338.9 Q400.3,338.9 406.8,346.8" fill="none" stroke="#c6c6c6" stroke-width="0.6"/>
<path d="M413.7,354.4 Q414.1,355.7 411.4,349.2" fill="none" stroke="#c6c6c6" stroke-width="0.6"/>
<path d="M418.2,359.4 Q414.5,354.1 412.2,341.2" fill="none" stroke="#c6c6c6" stroke-width="0.6"/>
<path d="M410.2,342.5 Q417.4,336 416.7,337.3" fill="none" stroke="#c6c6c6" stroke-width="0.6"/>
<path d="M380.9,382.4 Q377.9,373.2 376.8,368.2" fill="none" stroke="#c6c6c6" stroke-width="0.6"/>
<path d="M386.7,355.7 Q392.6,366.2 392,383.8" fill="none" stroke="#c6c6c6" stroke-width="0.6"/>
<path d="M398,370.1 Q393.1,376.1 391.1,374.4" fill="none" stroke="#c6c6c6" stroke-width="0.6"/>
<path d="M365.3,366.2 Q382.8,375.9 398.8,377.6" fill="none" stroke="#c6c6c6" stroke-width="0.6"/>
<path d="M375.7,368.2 Q388.7,369.4 398.3,372.4" fill="none" stroke="#c6c6c6" stroke-width="0.6"/>
<path d="M354.3,70.3 Q345,77 354.8,80.9 Q345,77 335.7,83.7 Q345,77 335.2,73.1 Q345,77 354.3,70.3" fill="none" stroke="#a8a8a8" stroke-width="0.7"/>
<path d="M330.4,87.5 Q321.1,94.2 330.9,98.3 Q321.1,94.2 311.8,100.9 Q321.1,94.2 311.4,90.1 Q321.1,94.2 330.4,87.5" fill="none" stroke="#a8a8a8" stroke-width="0.7"/>
<path d="M306.5,104.7 Q297.2,111.4 307,115.8 Q297.2,111.4 287.9,118.2 Q297.2,111.4 287.5,107.1 Q297.2,111.4 306.5,104.7" fill="none" stroke="#a8a8a8" stroke-width="0.7"/>
<path d="M282.6,121.9 Q273.3,128.7 283.1,133.2 Q273.3,128.7 264,135.4 Q273.3,128.7 263.6,124.1 Q273.3,128.7 282.6,121.9" fill="none" stroke="#a8a8a8" stroke-width="0.7"/>
<path d="M258.8,139.2 Q249.4,145.9 259.2,150.7 Q249.4,145.9 240.1,152.6 Q249.4,145.9 239.7,141.1 Q249.4,145.9 258.8,139.2" fill="none" stroke="#a8a8a8" stroke-width="0.7"/>
<path d="M234.9,156.4 Q225.6,163.1 235.3,168.2 Q225.6,163.1 216.2,169.8 Q225.6,163.1 215.8,158.1 Q225.6,163.1 234.9,156.4" fill="none" stroke="#a8a8a8" stroke-width="0.7"/>
<path d="M211,173.6 Q201.7,180.3 211.5,185.6 Q201.7,180.3 192.3,187.1 Q201.7,180.3 191.9,175 Q201.7,180.3 211,173.6" fill="none" stroke="#a8a8a8" stroke-width="0.7"/>
<path d="M187.1,190.8 Q177.8,197.6 187.6,203.1 Q177.8,197.6 168.5,204.3 Q177.8,197.6 168,192 Q177.8,197.6 187.1,190.8" fill="none" stroke="#a8a8a8" stroke-width="0.7"/>
<path d="M163.2,208.1 Q153.9,214.8 163.7,220.5 Q153.9,214.8 144.6,221.5 Q153.9,214.8 144.1,209 Q153.9,214.8 163.2,208.1" fill="none" stroke="#a8a8a8" stroke-width="0.7"/>
<path d="M139.3,225.3 Q130,232 139.8,238 Q130,232 120.7,238.7 Q130,232 120.2,226 Q130,232 139.3,225.3" fill="none" stroke="#a8a8a8" stroke-width="0.7"/>
<path d="M386.8,82.8 Q377.5,89.9 387.2,93.7 Q377.5,89.9 368.2,96.9 Q377.5,89.9 367.8,86 Q377.5,89.9 386.8,82.8" fill="none" stroke="#a8a8a8" stroke-width="0.7"/>
<path d="M362.9,100.9 Q353.6,107.9 363.4,112 Q353.6,107.9 344.3,114.9 Q353.6,107.9 343.9,103.8 Q353.6,107.9 362.9,100.9" fill="none" stroke="#a8a8a8" stroke-width="0.7"/>
<path d="M339.1,118.9 Q329.8,125.9 339.5,130.2 Q329.8,125.9 320.5,132.9 Q329.8,125.9 320,121.6 Q329.8,125.9 339.1,118.9" fill="none" stroke="#a8a8a8" stroke-width="0.7"/>
<path d="M315.2,136.9 Q305.9,143.9 315.7,148.5 Q305.9,143.9 296.6,150.9 Q305.9,143.9 296.1,139.3 Q305.9,143.9 315.2,136.9" fill="none" stroke="#a8a8a8" stroke-width="0.7"/>
<path d="M291.4,154.9 Q282.1,161.9 291.8,166.7 Q282.1,161.9 272.7,169 Q282.1,161.9 272.3,157.1 Q282.1,161.9 291.4,154.9" fill="none" stroke="#a8a8a8" stroke-width="0.7"/>
<path d="M267.5,172.9 Q258.2,179.9 268,185 Q258.2,179.9 248.9,187 Q258.2,179.9 248.4,174.9 Q258.2,179.9 267.5,172.9" fill="none" stroke="#a8a8a8" stroke-width="0.7"/>
<path d="M243.6,190.9 Q234.3,198 244.1,203.2 Q234.3,198 225,205 Q234.3,198 224.5,192.7 Q234.3,198 243.6,190.9" fill="none" stroke="#a8a8a8" stroke-width="0.7"/>
<path d="M219.8,208.9 Q210.5,216 220.3,221.5 Q210.5,216 201.2,223 Q210.5,216 200.7,210.4 Q210.5,216 219.8,208.9" fill="none" stroke="#a8a8a8" stroke-width="0.7"/>
<path d="M195.9,227 Q186.6,234 196.4,239.7 Q186.6,234 177.3,241 Q186.6,234 176.8,228.2 Q186.6,234 195.9,227" fill="none" stroke="#a8a8a8" stroke-width="0.7"/>
<path d="M172.1,245 Q162.8,252 172.6,258 Q162.8,252 153.4,259 Q162.8,252 152.9,246 Q162.8,252 172.1,245" fill="none" stroke="#a8a8a8" stroke-width="0.7"/>
<path d="M419.3,95.4 Q410,102.8 419.8,106.6 Q410,102.8 400.7,110.1 Q410,102.8 400.2,98.9 Q410,102.8 419.3,95.4" fill="none" stroke="#a8a8a8" stroke-width="0.7"/>
<path d="M395.5,114.2 Q386.2,121.6 395.9,125.7 Q386.2,121.6 376.9,128.9 Q386.2,121.6 376.4,117.5 Q386.2,121.6 395.5,114.2" fill="none" stroke="#a8a8a8" stroke-width="0.7"/>
<path d="M371.6,133 Q362.3,140.4 372.1,144.7 Q362.3,140.4 353,147.7 Q362.3,140.4 352.6,136 Q362.3,140.4 371.6,133" fill="none" stroke="#a8a8a8" stroke-width="0.7"/>
<path d="M347.8,151.8 Q338.5,159.2 348.3,163.7 Q338.5,159.2 329.2,166.5 Q338.5,159.2 328.7,154.6 Q338.5,159.2 347.8,151.8" fill="none" stroke="#a8a8a8" stroke-width="0.7"/>
<path d="M324,170.6 Q314.7,178 324.4,182.8 Q314.7,178 305.4,185.3 Q314.7,178 304.9,173.2 Q314.7,178 324,170.6" fill="none" stroke="#a8a8a8" stroke-width="0.7"/>
<path d="M300.1,189.4 Q290.8,196.8 300.6,201.8 Q290.8,196.8 281.5,204.1 Q290.8,196.8 281,191.7 Q290.8,196.8 300.1,189.4" fill="none" stroke="#a8a8a8" stroke-width="0.7"/>
<path d="M276.3,208.2 Q267,215.6 276.8,220.9 Q267,215.6 257.7,222.9 Q267,215.6 257.2,210.3 Q267,215.6 276.3,208.2" fill="none" stroke="#a8a8a8" stroke-width="0.7"/>
<path d="M252.5,227.1 Q243.2,234.4 253,239.9 Q243.2,234.4 233.9,241.7 Q243.2,234.4 233.4,228.9 Q243.2,234.4 252.5,227.1" fill="none" stroke="#a8a8a8" stroke-width="0.7"/>
<path d="M228.6,245.9 Q219.3,253.2 229.2,259 Q219.3,253.2 210,260.5 Q219.3,253.2 209.5,247.4 Q219.3,253.2 228.6,245.9" fill="none" stroke="#a8a8a8" stroke-width="0.7"/>
<path d="M204.8,264.7 Q195.5,272 205.3,278 Q195.5,272 186.2,279.3 Q195.5,272 185.7,266 Q195.5,272 204.8,264.7" fill="none" stroke="#a8a8a8" stroke-width="0.7"/>
<path d="M451.8,108 Q442.5,115.6 452.2,119.5 Q442.5,115.6 433.2,123.3 Q442.5,115.6 432.8,111.8 Q442.5,115.6 451.8,108" fill="none" stroke="#a8a8a8" stroke-width="0.7"/>
<path d="M428,127.6 Q418.7,135.2 428.5,139.3 Q418.7,135.2 409.4,142.9 Q418.7,135.2 408.9,131.1 Q418.7,135.2 428,127.6" fill="none" stroke="#a8a8a8" stroke-width="0.7"/>
<path d="M404.2,147.2 Q394.9,154.8 404.7,159.2 Q394.9,154.8 385.6,162.5 Q394.9,154.8 385.1,150.5 Q394.9,154.8 404.2,147.2" fill="none" stroke="#a8a8a8" stroke-width="0.7"/>
<path d="M380.4,166.8 Q371.1,174.4 380.9,179 Q371.1,174.4 361.8,182.1 Q371.1,174.4 361.3,169.8 Q371.1,174.4 380.4,166.8" fill="none" stroke="#a8a8a8" stroke-width="0.7"/>
<path d="M356.6,186.4 Q347.3,194 357.1,198.8 Q347.3,194 338,201.7 Q347.3,194 337.5,189.2 Q347.3,194 356.6,186.4" fill="none" stroke="#a8a8a8" stroke-width="0.7"/>
<path d="M332.8,206 Q323.5,213.6 333.3,218.7 Q323.5,213.6 314.2,221.3 Q323.5,213.6 313.7,208.6 Q323.5,213.6 332.8,206" fill="none" stroke="#a8a8a8" stroke-width="0.7"/>
<path d="M309,225.6 Q299.7,233.2 309.5,238.5 Q299.7,233.2 290.4,240.9 Q299.7,233.2 289.9,227.9 Q299.7,233.2 309,225.6" fill="none" stroke="#a8a8a8" stroke-width="0.7"/>
<path d="M285.1,245.2 Q275.9,252.8 285.7,258.3 Q275.9,252.8 266.6,260.4 Q275.9,252.8 266.1,247.3 Q275.9,252.8 285.1,245.2" fill="none" stroke="#a8a8a8" stroke-width="0.7"/>
<path d="M261.3,264.8 Q252.1,272.4 261.9,278.2 Q252.1,272.4 242.8,280 Q252.1,272.4 242.2,266.6 Q252.1,272.4 261.3,264.8" fill="none" stroke="#a8a8a8" stroke-width="0.7"/>
<path d="M237.5,284.4 Q228.2,292 238.1,298 Q228.2,292 219,299.6 Q228.2,292 218.4,286 Q228.2,292 237.5,284.4" fill="none" stroke="#a8a8a8" stroke-width="0.7"/>
<path d="M484.3,120.5 Q475,128.5 484.8,132.4 Q475,128.5 465.7,136.5 Q475,128.5 465.2,124.6 Q475,128.5 484.3,120.5" fill="none" stroke="#a8a8a8" stroke-width="0.7"/>
<path d="M460.5,140.9 Q451.2,148.9 461,153 Q451.2,148.9 441.9,156.8 Q451.2,148.9 441.5,144.8 Q451.2,148.9 460.5,140.9" fill="none" stroke="#a8a8a8" stroke-width="0.7"/>
<path d="M436.7,161.3 Q427.4,169.3 437.2,173.6 Q427.4,169.3 418.2,177.2 Q427.4,169.3 417.7,164.9 Q427.4,169.3 436.7,161.3" fill="none" stroke="#a8a8a8" stroke-width="0.7"/>
<path d="M412.9,181.7 Q403.7,189.7 413.4,194.2 Q403.7,189.7 394.4,197.6 Q403.7,189.7 393.9,185.1 Q403.7,189.7 412.9,181.7" fill="none" stroke="#a8a8a8" stroke-width="0.7"/>
<path d="M389.2,202.1 Q379.9,210.1 389.7,214.9 Q379.9,210.1 370.6,218 Q379.9,210.1 370.1,205.2 Q379.9,210.1 389.2,202.1" fill="none" stroke="#a8a8a8" stroke-width="0.7"/>
<path d="M365.4,222.5 Q356.1,230.4 365.9,235.5 Q356.1,230.4 346.8,238.4 Q356.1,230.4 346.3,225.4 Q356.1,230.4 365.4,222.5" fill="none" stroke="#a8a8a8" stroke-width="0.7"/>
<path d="M341.6,242.9 Q332.3,250.8 342.1,256.1 Q332.3,250.8 323.1,258.8 Q332.3,250.8 322.5,245.5 Q332.3,250.8 341.6,242.9" fill="none" stroke="#a8a8a8" stroke-width="0.7"/>
<path d="M317.8,263.3 Q308.6,271.2 318.4,276.7 Q308.6,271.2 299.3,279.2 Q308.6,271.2 298.7,265.7 Q308.6,271.2 317.8,263.3" fill="none" stroke="#a8a8a8" stroke-width="0.7"/>
<path d="M294.1,283.7 Q284.8,291.6 294.6,297.4 Q284.8,291.6 275.5,299.6 Q284.8,291.6 275,285.8 Q284.8,291.6 294.1,283.7" fill="none" stroke="#a8a8a8" stroke-width="0.7"/>
<path d="M270.3,304 Q261,312 270.8,318 Q261,312 251.7,320 Q261,312 251.2,306 Q261,312 270.3,304" fill="none" stroke="#a8a8a8" stroke-width="0.7"/>
<path d="M516.8,133.1 Q507.5,141.4 517.2,145.2 Q507.5,141.4 498.2,149.6 Q507.5,141.4 497.8,137.5 Q507.5,141.4 516.8,133.1" fill="none" stroke="#a8a8a8" stroke-width="0.7"/>
<path d="M493,154.3 Q483.8,162.6 493.5,166.7 Q483.8,162.6 474.5,170.8 Q483.8,162.6 474,158.5 Q483.8,162.6 493,154.3" fill="none" stroke="#a8a8a8" stroke-width="0.7"/>
<path d="M469.3,175.5 Q460,183.7 469.8,188.1 Q460,183.7 450.7,192 Q460,183.7 450.2,179.4 Q460,183.7 469.3,175.5" fill="none" stroke="#a8a8a8" stroke-width="0.7"/>
<path d="M445.5,196.7 Q436.2,204.9 446,209.5 Q436.2,204.9 427,213.2 Q436.2,204.9 426.5,200.3 Q436.2,204.9 445.5,196.7" fill="none" stroke="#a8a8a8" stroke-width="0.7"/>
<path d="M421.8,217.8 Q412.5,226.1 422.3,230.9 Q412.5,226.1 403.2,234.4 Q412.5,226.1 402.7,221.3 Q412.5,226.1 421.8,217.8" fill="none" stroke="#a8a8a8" stroke-width="0.7"/>
<path d="M398,239 Q388.8,247.3 398.5,252.3 Q388.8,247.3 379.5,255.5 Q388.8,247.3 379,242.2 Q388.8,247.3 398,239" fill="none" stroke="#a8a8a8" stroke-width="0.7"/>
<path d="M374.3,260.2 Q365,268.5 374.8,273.7 Q365,268.5 355.7,276.7 Q365,268.5 355.2,263.2 Q365,268.5 374.3,260.2" fill="none" stroke="#a8a8a8" stroke-width="0.7"/>
<path d="M350.5,281.4 Q341.2,289.6 351.1,295.2 Q341.2,289.6 332,297.9 Q341.2,289.6 331.4,284.1 Q341.2,289.6 350.5,281.4" fill="none" stroke="#a8a8a8" stroke-width="0.7"/>
<path d="M326.8,302.6 Q317.5,310.8 327.3,316.6 Q317.5,310.8 308.2,319.1 Q317.5,310.8 307.7,305.1 Q317.5,310.8 326.8,302.6" fill="none" stroke="#a8a8a8" stroke-width="0.7"/>
<path d="M303,323.7 Q293.8,332 303.6,338 Q293.8,332 284.5,340.3 Q293.8,332 283.9,326 Q293.8,332 303,323.7" fill="none" stroke="#a8a8a8" stroke-width="0.7"/>
<path d="M549.3,145.7 Q540,154.2 549.8,158.1 Q540,154.2 530.7,162.8 Q540,154.2 530.2,150.4 Q540,154.2 549.3,145.7" fill="none" stroke="#a8a8a8" stroke-width="0.7"/>
<path d="M525.5,167.7 Q516.3,176.2 526,180.3 Q516.3,176.2 507,184.8 Q516.3,176.2 506.5,172.1 Q516.3,176.2 525.5,167.7" fill="none" stroke="#a8a8a8" stroke-width="0.7"/>
<path d="M501.8,189.6 Q492.6,198.2 502.3,202.5 Q492.6,198.2 483.3,206.8 Q492.6,198.2 482.8,193.9 Q492.6,198.2 501.8,189.6" fill="none" stroke="#a8a8a8" stroke-width="0.7"/>
<path d="M478.1,211.6 Q468.8,220.2 478.6,224.7 Q468.8,220.2 459.6,228.7 Q468.8,220.2 459.1,215.6 Q468.8,220.2 478.1,211.6" fill="none" stroke="#a8a8a8" stroke-width="0.7"/>
<path d="M454.4,233.6 Q445.1,242.1 454.9,247 Q445.1,242.1 435.9,250.7 Q445.1,242.1 435.3,237.3 Q445.1,242.1 454.4,233.6" fill="none" stroke="#a8a8a8" stroke-width="0.7"/>
<path d="M430.6,255.5 Q421.4,264.1 431.2,269.2 Q421.4,264.1 412.1,272.7 Q421.4,264.1 411.6,259.1 Q421.4,264.1 430.6,255.5" fill="none" stroke="#a8a8a8" stroke-width="0.7"/>
<path d="M406.9,277.5 Q397.7,286.1 407.5,291.4 Q397.7,286.1 388.4,294.7 Q397.7,286.1 387.9,280.8 Q397.7,286.1 406.9,277.5" fill="none" stroke="#a8a8a8" stroke-width="0.7"/>
<path d="M383.2,299.5 Q373.9,308.1 383.8,313.6 Q373.9,308.1 364.7,316.6 Q373.9,308.1 364.1,302.5 Q373.9,308.1 383.2,299.5" fill="none" stroke="#a8a8a8" stroke-width="0.7"/>
<path d="M359.5,321.5 Q350.2,330 360,335.8 Q350.2,330 341,338.6 Q350.2,330 340.4,324.3 Q350.2,330 359.5,321.5" fill="none" stroke="#a8a8a8" stroke-width="0.7"/>
<path d="M335.8,343.4 Q326.5,352 336.3,358 Q326.5,352 317.2,360.6 Q326.5,352 316.7,346 Q326.5,352 335.8,343.4" fill="none" stroke="#a8a8a8" stroke-width="0.7"/>
<path d="M581.7,158.2 Q572.5,167.1 582.2,171 Q572.5,167.1 563.3,176 Q572.5,167.1 562.8,163.3 Q572.5,167.1 581.7,158.2" fill="none" stroke="#a8a8a8" stroke-width="0.7"/>
<path d="M558,181 Q548.8,189.9 558.6,194 Q548.8,189.9 539.6,198.8 Q548.8,189.9 539,185.8 Q548.8,189.9 558,181" fill="none" stroke="#a8a8a8" stroke-width="0.7"/>
<path d="M534.4,203.8 Q525.1,212.7 534.9,217 Q525.1,212.7 515.9,221.5 Q525.1,212.7 515.3,208.3 Q525.1,212.7 534.4,203.8" fill="none" stroke="#a8a8a8" stroke-width="0.7"/>
<path d="M510.7,226.5 Q501.4,235.4 511.2,240 Q501.4,235.4 492.2,244.3 Q501.4,235.4 491.6,230.8 Q501.4,235.4 510.7,226.5" fill="none" stroke="#a8a8a8" stroke-width="0.7"/>
<path d="M487,249.3 Q477.7,258.2 487.5,263 Q477.7,258.2 468.5,267.1 Q477.7,258.2 467.9,253.4 Q477.7,258.2 487,249.3" fill="none" stroke="#a8a8a8" stroke-width="0.7"/>
<path d="M463.3,272.1 Q454,280.9 463.8,286 Q454,280.9 444.8,289.8 Q454,280.9 444.2,275.9 Q454,280.9 463.3,272.1" fill="none" stroke="#a8a8a8" stroke-width="0.7"/>
<path d="M439.6,294.8 Q430.3,303.7 440.1,309 Q430.3,303.7 421.1,312.6 Q430.3,303.7 420.5,298.4 Q430.3,303.7 439.6,294.8" fill="none" stroke="#a8a8a8" stroke-width="0.7"/>
<path d="M415.9,317.6 Q406.6,326.5 416.4,332 Q406.6,326.5 397.4,335.4 Q406.6,326.5 396.8,320.9 Q406.6,326.5 415.9,317.6" fill="none" stroke="#a8a8a8" stroke-width="0.7"/>
<path d="M392.2,340.4 Q382.9,349.2 392.8,355 Q382.9,349.2 373.7,358.1 Q382.9,349.2 373.1,343.5 Q382.9,349.2 392.2,340.4" fill="none" stroke="#a8a8a8" stroke-width="0.7"/>
<path d="M368.5,363.1 Q359.2,372 369.1,378 Q359.2,372 350,380.9 Q359.2,372 349.4,366 Q359.2,372 368.5,363.1" fill="none" stroke="#a8a8a8" stroke-width="0.7"/>
<path d="M614.2,170.8 Q605,180 614.8,183.9 Q605,180 595.8,189.2 Q605,180 595.2,176.1 Q605,180 614.2,170.8" fill="none" stroke="#a8a8a8" stroke-width="0.7"/>
<path d="M590.6,194.4 Q581.3,203.6 591.1,207.7 Q581.3,203.6 572.1,212.7 Q581.3,203.6 571.6,199.5 Q581.3,203.6 590.6,194.4" fill="none" stroke="#a8a8a8" stroke-width="0.7"/>
<path d="M566.9,217.9 Q557.7,227.1 567.4,231.4 Q557.7,227.1 548.4,236.3 Q557.7,227.1 547.9,222.8 Q557.7,227.1 566.9,217.9" fill="none" stroke="#a8a8a8" stroke-width="0.7"/>
<path d="M543.2,241.5 Q534,250.7 543.8,255.2 Q534,250.7 524.8,259.9 Q534,250.7 524.2,246.1 Q534,250.7 543.2,241.5" fill="none" stroke="#a8a8a8" stroke-width="0.7"/>
<path d="M519.6,265 Q510.3,274.2 520.1,279 Q510.3,274.2 501.1,283.4 Q510.3,274.2 500.6,269.4 Q510.3,274.2 519.6,265" fill="none" stroke="#a8a8a8" stroke-width="0.7"/>
<path d="M495.9,288.6 Q486.7,297.8 496.5,302.8 Q486.7,297.8 477.4,307 Q486.7,297.8 476.9,292.7 Q486.7,297.8 495.9,288.6" fill="none" stroke="#a8a8a8" stroke-width="0.7"/>
<path d="M472.2,312.1 Q463,321.3 472.8,326.6 Q463,321.3 453.8,330.5 Q463,321.3 453.2,316 Q463,321.3 472.2,312.1" fill="none" stroke="#a8a8a8" stroke-width="0.7"/>
<path d="M448.6,335.7 Q439.3,344.9 449.1,350.4 Q439.3,344.9 430.1,354.1 Q439.3,344.9 429.5,339.4 Q439.3,344.9 448.6,335.7" fill="none" stroke="#a8a8a8" stroke-width="0.7"/>
<path d="M424.9,359.3 Q415.7,368.4 425.5,374.2 Q415.7,368.4 406.4,377.6 Q415.7,368.4 405.9,362.7 Q415.7,368.4 424.9,359.3" fill="none" stroke="#a8a8a8" stroke-width="0.7"/>
<path d="M401.2,382.8 Q392,392 401.8,398 Q392,392 382.8,401.2 Q392,392 382.2,386 Q392,392 401.2,382.8" fill="none" stroke="#a8a8a8" stroke-width="0.7"/>
<path d="M332,91 L345,69 Q350,77 363,77 M346,72 Q351,81 362,82" fill="none" stroke="#8c8c8c" stroke-width="1"/>
<path d="M364.5,103.9 L377.5,81.9 Q382.5,89.9 395.5,89.9 M378.5,84.9 Q383.5,93.9 394.5,94.9" fill="none" stroke="#8c8c8c" stroke-width="1"/>
<path d="M397,116.8 L410,94.8 Q415,102.8 428,102.8 M411,97.8 Q416,106.8 427,107.8" fill="none" stroke="#8c8c8c" stroke-width="1"/>
<path d="M429.5,129.6 L442.5,107.6 Q447.5,115.6 460.5,115.6 M443.5,110.6 Q448.5,119.6 459.5,120.6" fill="none" stroke="#8c8c8c" stroke-width="1"/>
<path d="M462,142.5 L475,120.5 Q480,128.5 493,128.5 M476,123.5 Q481,132.5 492,133.5" fill="none" stroke="#8c8c8c" stroke-width="1"/>
<path d="M494.5,155.4 L507.5,133.4 Q512.5,141.4 525.5,141.4 M508.5,136.4 Q513.5,145.4 524.5,146.4" fill="none" stroke="#8c8c8c" stroke-width="1"/>
<path d="M527,168.2 L540,146.2 Q545,154.2 558,154.2 M541,149.2 Q546,158.2 557,159.2" fill="none" stroke="#8c8c8c" stroke-width="1"/>
<path d="M559.5,181.1 L572.5,159.1 Q577.5,167.1 590.5,167.1 M573.5,162.1 Q578.5,171.1 589.5,172.1" fill="none" stroke="#8c8c8c" stroke-width="1"/>
<path d="M592,194 L605,172 Q610,180 623,180 M606,175 Q611,184 622,185" fill="none" stroke="#8c8c8c" stroke-width="1"/>
<path d="M335.1,102.2 L315.1,94.2 Q321.1,90.2 325.1,80.2 M318.1,95.2 Q325.1,91.2 329.1,82.2" fill="none" stroke="#8c8c8c" stroke-width="1"/>
<path d="M311.2,119.4 L291.2,111.4 Q297.2,107.4 301.2,97.4 M294.2,112.4 Q301.2,108.4 305.2,99.4" fill="none" stroke="#8c8c8c" stroke-width="1"/>
<path d="M287.3,136.7 L267.3,128.7 Q273.3,124.7 277.3,114.7 M270.3,129.7 Q277.3,125.7 281.3,116.7" fill="none" stroke="#8c8c8c" stroke-width="1"/>
<path d="M263.4,153.9 L243.4,145.9 Q249.4,141.9 253.4,131.9 M246.4,146.9 Q253.4,142.9 257.4,133.9" fill="none" stroke="#8c8c8c" stroke-width="1"/>
<path d="M239.6,171.1 L219.6,163.1 Q225.6,159.1 229.6,149.1 M222.6,164.1 Q229.6,160.1 233.6,151.1" fill="none" stroke="#8c8c8c" stroke-width="1"/>
<path d="M215.7,188.3 L195.7,180.3 Q201.7,176.3 205.7,166.3 M198.7,181.3 Q205.7,177.3 209.7,168.3" fill="none" stroke="#8c8c8c" stroke-width="1"/>
<path d="M191.8,205.6 L171.8,197.6 Q177.8,193.6 181.8,183.6 M174.8,198.6 Q181.8,194.6 185.8,185.6" fill="none" stroke="#8c8c8c" stroke-width="1"/>
<path d="M167.9,222.8 L147.9,214.8 Q153.9,210.8 157.9,200.8 M150.9,215.8 Q157.9,211.8 161.9,202.8" fill="none" stroke="#8c8c8c" stroke-width="1"/>
<path d="M144,240 L124,232 Q130,228 134,218 M127,233 Q134,229 138,220" fill="none" stroke="#8c8c8c" stroke-width="1"/>
<line x1="508" y1="243.9" x2="483.5" y2="238.7" stroke="#92b4d5" stroke-width="1.1"/>
<line x1="477.5" y1="274.3" x2="460.4" y2="268.3" stroke="#92b4d5" stroke-width="1.1"/>
<line x1="447" y1="304.6" x2="437.4" y2="297.9" stroke="#92b4d5" stroke-width="1.1"/>
<line x1="416.4" y1="334.9" x2="414.3" y2="327.4" stroke="#92b4d5" stroke-width="1.1"/>
<line x1="385.9" y1="365.2" x2="391.3" y2="357" stroke="#92b4d5" stroke-width="1.1"/>
<line x1="506.5" y1="209.1" x2="483.5" y2="238.7" stroke="#98b6d4" stroke-width="1.1"/>
<line x1="509.1" y1="231.4" x2="538.5" y2="213.6" stroke="#94b5d5" stroke-width="0.9"/>
<line x1="509.1" y1="231.4" x2="508" y2="243.9" stroke="#94b5d5" stroke-width="0.9"/>
<line x1="509.1" y1="231.4" x2="506.5" y2="209.1" stroke="#94b5d5" stroke-width="0.9"/>
<line x1="509.1" y1="231.4" x2="483.5" y2="238.7" stroke="#94b5d5" stroke-width="0.9"/>
<line x1="483.5" y1="238.7" x2="460.4" y2="268.3" stroke="#98b6d4" stroke-width="1.1"/>
<line x1="482.3" y1="261.3" x2="508" y2="243.9" stroke="#94b5d5" stroke-width="0.9"/>
<line x1="482.3" y1="261.3" x2="477.5" y2="274.3" stroke="#94b5d5" stroke-width="0.9"/>
<line x1="482.3" y1="261.3" x2="483.5" y2="238.7" stroke="#94b5d5" stroke-width="0.9"/>
<line x1="482.3" y1="261.3" x2="460.4" y2="268.3" stroke="#94b5d5" stroke-width="0.9"/>
<line x1="460.4" y1="268.3" x2="437.4" y2="297.9" stroke="#98b6d4" stroke-width="1.1"/>
<line x1="455.6" y1="291.2" x2="477.5" y2="274.3" stroke="#94b5d5" stroke-width="0.9"/>
<line x1="455.6" y1="291.2" x2="447" y2="304.6" stroke="#94b5d5" stroke-width="0.9"/>
<line x1="455.6" y1="291.2" x2="460.4" y2="268.3" stroke="#94b5d5" stroke-width="0.9"/>
<line x1="455.6" y1="291.2" x2="437.4" y2="297.9" stroke="#94b5d5" stroke-width="0.9"/>
<line x1="437.4" y1="297.9" x2="414.3" y2="327.4" stroke="#98b6d4" stroke-width="1.1"/>
<line x1="428.8" y1="321.2" x2="447" y2="304.6" stroke="#94b5d5" stroke-width="0.9"/>
<line x1="428.8" y1="321.2" x2="416.4" y2="334.9" stroke="#94b5d5" stroke-width="0.9"/>
<line x1="428.8" y1="321.2" x2="437.4" y2="297.9" stroke="#94b5d5" stroke-width="0.9"/>
<line x1="428.8" y1="321.2" x2="414.3" y2="327.4" stroke="#94b5d5" stroke-width="0.9"/>
<line x1="414.3" y1="327.4" x2="391.3" y2="357" stroke="#98b6d4" stroke-width="1.1"/>
<line x1="402" y1="351.1" x2="416.4" y2="334.9" stroke="#94b5d5" stroke-width="0.9"/>
<line x1="402" y1="351.1" x2="385.9" y2="365.2" stroke="#94b5d5" stroke-width="0.9"/>
<line x1="402" y1="351.1" x2="414.3" y2="327.4" stroke="#94b5d5" stroke-width="0.9"/>
<line x1="402" y1="351.1" x2="391.3" y2="357" stroke="#94b5d5" stroke-width="0.9"/>
<line x1="483.5" y1="238.7" x2="439.5" y2="227.1" stroke="#9eb8d3" stroke-width="1.1"/>
<line x1="460.4" y1="268.3" x2="417.4" y2="255.9" stroke="#9eb8d3" stroke-width="1.1"/>
<line x1="437.4" y1="297.9" x2="395.4" y2="284.6" stroke="#9eb8d3" stroke-width="1.1"/>
<line x1="414.3" y1="327.4" x2="373.3" y2="313.3" stroke="#9eb8d3" stroke-width="1.1"/>
<line x1="391.3" y1="357" x2="351.3" y2="342" stroke="#9eb8d3" stroke-width="1.1"/>
<line x1="461.5" y1="198.4" x2="439.5" y2="227.1" stroke="#a5bbd2" stroke-width="1.1"/>
<line x1="472.7" y1="223.4" x2="506.5" y2="209.1" stroke="#a1b9d2" stroke-width="0.9"/>
<line x1="472.7" y1="223.4" x2="483.5" y2="238.7" stroke="#a1b9d2" stroke-width="0.9"/>
<line x1="472.7" y1="223.4" x2="461.5" y2="198.4" stroke="#a1b9d2" stroke-width="0.9"/>
<line x1="472.7" y1="223.4" x2="439.5" y2="227.1" stroke="#a1b9d2" stroke-width="0.9"/>
<line x1="439.5" y1="227.1" x2="417.4" y2="255.9" stroke="#a5bbd2" stroke-width="1.1"/>
<line x1="450.2" y1="252.5" x2="483.5" y2="238.7" stroke="#a1b9d2" stroke-width="0.9"/>
<line x1="450.2" y1="252.5" x2="460.4" y2="268.3" stroke="#a1b9d2" stroke-width="0.9"/>
<line x1="450.2" y1="252.5" x2="439.5" y2="227.1" stroke="#a1b9d2" stroke-width="0.9"/>
<line x1="450.2" y1="252.5" x2="417.4" y2="255.9" stroke="#a1b9d2" stroke-width="0.9"/>
<line x1="417.4" y1="255.9" x2="395.4" y2="284.6" stroke="#a5bbd2" stroke-width="1.1"/>
<line x1="427.7" y1="281.6" x2="460.4" y2="268.3" stroke="#a1b9d2" stroke-width="0.9"/>
<line x1="427.7" y1="281.6" x2="437.4" y2="297.9" stroke="#a1b9d2" stroke-width="0.9"/>
<line x1="427.7" y1="281.6" x2="417.4" y2="255.9" stroke="#a1b9d2" stroke-width="0.9"/>
<line x1="427.7" y1="281.6" x2="395.4" y2="284.6" stroke="#a1b9d2" stroke-width="0.9"/>
<line x1="395.4" y1="284.6" x2="373.3" y2="313.3" stroke="#a5bbd2" stroke-width="1.1"/>
<line x1="405.1" y1="310.8" x2="437.4" y2="297.9" stroke="#a1b9d2" stroke-width="0.9"/>
<line x1="405.1" y1="310.8" x2="414.3" y2="327.4" stroke="#a1b9d2" stroke-width="0.9"/>
<line x1="405.1" y1="310.8" x2="395.4" y2="284.6" stroke="#a1b9d2" stroke-width="0.9"/>
<line x1="405.1" y1="310.8" x2="373.3" y2="313.3" stroke="#a1b9d2" stroke-width="0.9"/>
<line x1="373.3" y1="313.3" x2="351.3" y2="342" stroke="#a5bbd2" stroke-width="1.1"/>
<line x1="382.6" y1="339.9" x2="414.3" y2="327.4" stroke="#a1b9d2" stroke-width="0.9"/>
<line x1="382.6" y1="339.9" x2="391.3" y2="357" stroke="#a1b9d2" stroke-width="0.9"/>
<line x1="382.6" y1="339.9" x2="373.3" y2="313.3" stroke="#a1b9d2" stroke-width="0.9"/>
<line x1="382.6" y1="339.9" x2="351.3" y2="342" stroke="#a1b9d2" stroke-width="0.9"/>
<line x1="439.5" y1="227.1" x2="395.5" y2="215.6" stroke="#abbdd0" stroke-width="1.1"/>
<line x1="417.4" y1="255.9" x2="374.4" y2="243.4" stroke="#abbdd0" stroke-width="1.1"/>
<line x1="395.4" y1="284.6" x2="353.4" y2="271.3" stroke="#abbdd0" stroke-width="1.1"/>
<line x1="373.3" y1="313.3" x2="332.3" y2="299.1" stroke="#abbdd0" stroke-width="1.1"/>
<line x1="351.3" y1="342" x2="311.3" y2="327" stroke="#abbdd0" stroke-width="1.1"/>
<line x1="416.5" y1="187.7" x2="395.5" y2="215.6" stroke="#b1bfcf" stroke-width="1.1"/>
<line x1="428.2" y1="212.2" x2="461.5" y2="198.4" stroke="#adbed0" stroke-width="0.9"/>
<line x1="428.2" y1="212.2" x2="439.5" y2="227.1" stroke="#adbed0" stroke-width="0.9"/>
<line x1="428.2" y1="212.2" x2="416.5" y2="187.7" stroke="#adbed0" stroke-width="0.9"/>
<line x1="428.2" y1="212.2" x2="395.5" y2="215.6" stroke="#adbed0" stroke-width="0.9"/>
<line x1="395.5" y1="215.6" x2="374.4" y2="243.4" stroke="#b1bfcf" stroke-width="1.1"/>
<line x1="406.7" y1="240.5" x2="439.5" y2="227.1" stroke="#adbed0" stroke-width="0.9"/>
<line x1="406.7" y1="240.5" x2="417.4" y2="255.9" stroke="#adbed0" stroke-width="0.9"/>
<line x1="406.7" y1="240.5" x2="395.5" y2="215.6" stroke="#adbed0" stroke-width="0.9"/>
<line x1="406.7" y1="240.5" x2="374.4" y2="243.4" stroke="#adbed0" stroke-width="0.9"/>
<line x1="374.4" y1="243.4" x2="353.4" y2="271.3" stroke="#b1bfcf" stroke-width="1.1"/>
<line x1="385.2" y1="268.8" x2="417.4" y2="255.9" stroke="#adbed0" stroke-width="0.9"/>
<line x1="385.2" y1="268.8" x2="395.4" y2="284.6" stroke="#adbed0" stroke-width="0.9"/>
<line x1="385.2" y1="268.8" x2="374.4" y2="243.4" stroke="#adbed0" stroke-width="0.9"/>
<line x1="385.2" y1="268.8" x2="353.4" y2="271.3" stroke="#adbed0" stroke-width="0.9"/>
<line x1="353.4" y1="271.3" x2="332.3" y2="299.1" stroke="#b1bfcf" stroke-width="1.1"/>
<line x1="363.6" y1="297.1" x2="395.4" y2="284.6" stroke="#adbed0" stroke-width="0.9"/>
<line x1="363.6" y1="297.1" x2="373.3" y2="313.3" stroke="#adbed0" stroke-width="0.9"/>
<line x1="363.6" y1="297.1" x2="353.4" y2="271.3" stroke="#adbed0" stroke-width="0.9"/>
<line x1="363.6" y1="297.1" x2="332.3" y2="299.1" stroke="#adbed0" stroke-width="0.9"/>
<line x1="332.3" y1="299.1" x2="311.3" y2="327" stroke="#b1bfcf" stroke-width="1.1"/>
<line x1="342.1" y1="325.4" x2="373.3" y2="313.3" stroke="#adbed0" stroke-width="0.9"/>
<line x1="342.1" y1="325.4" x2="351.3" y2="342" stroke="#adbed0" stroke-width="0.9"/>
<line x1="342.1" y1="325.4" x2="332.3" y2="299.1" stroke="#adbed0" stroke-width="0.9"/>
<line x1="342.1" y1="325.4" x2="311.3" y2="327" stroke="#adbed0" stroke-width="0.9"/>
<line x1="395.5" y1="215.6" x2="351.5" y2="204" stroke="#b7c1ce" stroke-width="1.1"/>
<line x1="374.4" y1="243.4" x2="331.4" y2="231" stroke="#b7c1ce" stroke-width="1.1"/>
<line x1="353.4" y1="271.3" x2="311.4" y2="258" stroke="#b7c1ce" stroke-width="1.1"/>
<line x1="332.3" y1="299.1" x2="291.3" y2="285" stroke="#b7c1ce" stroke-width="1.1"/>
<line x1="311.3" y1="327" x2="271.3" y2="312" stroke="#b7c1ce" stroke-width="1.1"/>
<line x1="371.5" y1="177" x2="351.5" y2="204" stroke="#bec4cd" stroke-width="1.1"/>
<line x1="383.7" y1="201.1" x2="416.5" y2="187.7" stroke="#bac2cd" stroke-width="0.9"/>
<line x1="383.7" y1="201.1" x2="395.5" y2="215.6" stroke="#bac2cd" stroke-width="0.9"/>
<line x1="383.7" y1="201.1" x2="371.5" y2="177" stroke="#bac2cd" stroke-width="0.9"/>
<line x1="383.7" y1="201.1" x2="351.5" y2="204" stroke="#bac2cd" stroke-width="0.9"/>
<line x1="351.5" y1="204" x2="331.4" y2="231" stroke="#bec4cd" stroke-width="1.1"/>
<line x1="363.2" y1="228.5" x2="395.5" y2="215.6" stroke="#bac2cd" stroke-width="0.9"/>
<line x1="363.2" y1="228.5" x2="374.4" y2="243.4" stroke="#bac2cd" stroke-width="0.9"/>
<line x1="363.2" y1="228.5" x2="351.5" y2="204" stroke="#bac2cd" stroke-width="0.9"/>
<line x1="363.2" y1="228.5" x2="331.4" y2="231" stroke="#bac2cd" stroke-width="0.9"/>
<line x1="331.4" y1="231" x2="311.4" y2="258" stroke="#bec4cd" stroke-width="1.1"/>
<line x1="342.7" y1="255.9" x2="374.4" y2="243.4" stroke="#bac2cd" stroke-width="0.9"/>
<line x1="342.7" y1="255.9" x2="353.4" y2="271.3" stroke="#bac2cd" stroke-width="0.9"/>
<line x1="342.7" y1="255.9" x2="331.4" y2="231" stroke="#bac2cd" stroke-width="0.9"/>
<line x1="342.7" y1="255.9" x2="311.4" y2="258" stroke="#bac2cd" stroke-width="0.9"/>
<line x1="311.4" y1="258" x2="291.3" y2="285" stroke="#bec4cd" stroke-width="1.1"/>
<line x1="322.1" y1="283.4" x2="353.4" y2="271.3" stroke="#bac2cd" stroke-width="0.9"/>
<line x1="322.1" y1="283.4" x2="332.3" y2="299.1" stroke="#bac2cd" stroke-width="0.9"/>
<line x1="322.1" y1="283.4" x2="311.4" y2="258" stroke="#bac2cd" stroke-width="0.9"/>
<line x1="322.1" y1="283.4" x2="291.3" y2="285" stroke="#bac2cd" stroke-width="0.9"/>
<line x1="291.3" y1="285" x2="271.3" y2="312" stroke="#bec4cd" stroke-width="1.1"/>
<line x1="301.6" y1="310.8" x2="332.3" y2="299.1" stroke="#bac2cd" stroke-width="0.9"/>
<line x1="301.6" y1="310.8" x2="311.3" y2="327" stroke="#bac2cd" stroke-width="0.9"/>
<line x1="301.6" y1="310.8" x2="291.3" y2="285" stroke="#bac2cd" stroke-width="0.9"/>
<line x1="301.6" y1="310.8" x2="271.3" y2="312" stroke="#bac2cd" stroke-width="0.9"/>
<line x1="850.7" y1="269.7" x2="891.7" y2="272.2" stroke="#617fa5" stroke-width="0.95"/>
<line x1="850.7" y1="269.7" x2="858.4" y2="291.3" stroke="#617fa5" stroke-width="0.95"/>
<line x1="850.7" y1="269.7" x2="842.7" y2="251" stroke="#617fa5" stroke-width="0.95"/>
<line x1="850.7" y1="269.7" x2="809.9" y2="272.2" stroke="#617fa5" stroke-width="0.95"/>
<line x1="850.7" y1="269.7" x2="817.6" y2="289.8" stroke="#5e7ba1" stroke-width="0.95"/>
<line x1="801.2" y1="252.4" x2="842.7" y2="251" stroke="#6d8cb2" stroke-width="0.95"/>
<line x1="801.2" y1="252.4" x2="809.9" y2="272.2" stroke="#6d8cb2" stroke-width="0.95"/>
<line x1="801.2" y1="252.4" x2="792.1" y2="227.5" stroke="#6d8cb2" stroke-width="0.95"/>
<line x1="801.2" y1="252.4" x2="760" y2="251.1" stroke="#6d8cb2" stroke-width="0.95"/>
<line x1="801.2" y1="252.4" x2="768.7" y2="274.8" stroke="#6a89ae" stroke-width="0.95"/>
<line x1="752.5" y1="237.5" x2="792.1" y2="227.5" stroke="#789abf" stroke-width="0.95"/>
<line x1="752.5" y1="237.5" x2="760" y2="251.1" stroke="#789abf" stroke-width="0.95"/>
<line x1="752.5" y1="237.5" x2="744.8" y2="206.9" stroke="#789abf" stroke-width="0.95"/>
<line x1="752.5" y1="237.5" x2="713" y2="232.4" stroke="#789abf" stroke-width="0.95"/>
<line x1="752.5" y1="237.5" x2="720.5" y2="262" stroke="#7596bc" stroke-width="0.95"/>
<line x1="704.6" y1="220.3" x2="744.8" y2="206.9" stroke="#83a8cc" stroke-width="0.95"/>
<line x1="704.6" y1="220.3" x2="713" y2="232.4" stroke="#83a8cc" stroke-width="0.95"/>
<line x1="704.6" y1="220.3" x2="695.9" y2="187.3" stroke="#83a8cc" stroke-width="0.95"/>
<line x1="704.6" y1="220.3" x2="664.6" y2="214.7" stroke="#83a8cc" stroke-width="0.95"/>
<line x1="704.6" y1="220.3" x2="673" y2="246.8" stroke="#80a4c9" stroke-width="0.95"/>
<line x1="656.6" y1="202.7" x2="695.9" y2="187.3" stroke="#8fb5da" stroke-width="0.95"/>
<line x1="656.6" y1="202.7" x2="664.6" y2="214.7" stroke="#8fb5da" stroke-width="0.95"/>
<line x1="656.6" y1="202.7" x2="648.5" y2="170" stroke="#8fb5da" stroke-width="0.95"/>
<line x1="656.6" y1="202.7" x2="617.5" y2="198.9" stroke="#8fb5da" stroke-width="0.95"/>
<line x1="656.6" y1="202.7" x2="625.4" y2="230.8" stroke="#8cb2d6" stroke-width="0.95"/>
<line x1="608.7" y1="185.3" x2="648.5" y2="170" stroke="#96bee2" stroke-width="0.95"/>
<line x1="608.7" y1="185.3" x2="617.5" y2="198.9" stroke="#96bee2" stroke-width="0.95"/>
<line x1="608.7" y1="185.3" x2="599.6" y2="153" stroke="#96bee2" stroke-width="0.95"/>
<line x1="608.7" y1="185.3" x2="569.1" y2="183.3" stroke="#96bee2" stroke-width="0.95"/>
<line x1="608.7" y1="185.3" x2="577.9" y2="214.9" stroke="#96bee2" stroke-width="0.95"/>
<line x1="817.6" y1="289.8" x2="858.4" y2="291.3" stroke="#5b789e" stroke-width="0.95"/>
<line x1="817.6" y1="289.8" x2="825" y2="310.4" stroke="#5b789e" stroke-width="0.95"/>
<line x1="817.6" y1="289.8" x2="809.9" y2="272.2" stroke="#5b789e" stroke-width="0.95"/>
<line x1="817.6" y1="289.8" x2="777" y2="293.3" stroke="#5b789e" stroke-width="0.95"/>
<line x1="817.6" y1="289.8" x2="784.5" y2="310" stroke="#58749a" stroke-width="0.95"/>
<line x1="768.7" y1="274.8" x2="809.9" y2="272.2" stroke="#6785ab" stroke-width="0.95"/>
<line x1="768.7" y1="274.8" x2="777" y2="293.3" stroke="#6785ab" stroke-width="0.95"/>
<line x1="768.7" y1="274.8" x2="760" y2="251.1" stroke="#6785ab" stroke-width="0.95"/>
<line x1="768.7" y1="274.8" x2="727.9" y2="274.6" stroke="#6785ab" stroke-width="0.95"/>
<line x1="768.7" y1="274.8" x2="736.3" y2="297.2" stroke="#6482a7" stroke-width="0.95"/>
<line x1="720.5" y1="262" x2="760" y2="251.1" stroke="#7293b8" stroke-width="0.95"/>
<line x1="720.5" y1="262" x2="727.9" y2="274.6" stroke="#7293b8" stroke-width="0.95"/>
<line x1="720.5" y1="262" x2="713" y2="232.4" stroke="#7293b8" stroke-width="0.95"/>
<line x1="720.5" y1="262" x2="681.2" y2="258" stroke="#7293b8" stroke-width="0.95"/>
<line x1="720.5" y1="262" x2="688.6" y2="286.6" stroke="#6f8fb5" stroke-width="0.95"/>
<line x1="673" y1="246.8" x2="713" y2="232.4" stroke="#7da0c5" stroke-width="0.95"/>
<line x1="673" y1="246.8" x2="681.2" y2="258" stroke="#7da0c5" stroke-width="0.95"/>
<line x1="673" y1="246.8" x2="664.6" y2="214.7" stroke="#7da0c5" stroke-width="0.95"/>
<line x1="673" y1="246.8" x2="633.3" y2="242" stroke="#7da0c5" stroke-width="0.95"/>
<line x1="673" y1="246.8" x2="641.4" y2="273.2" stroke="#7a9dc2" stroke-width="0.95"/>
<line x1="625.4" y1="230.8" x2="664.6" y2="214.7" stroke="#89aed3" stroke-width="0.95"/>
<line x1="625.4" y1="230.8" x2="633.3" y2="242" stroke="#89aed3" stroke-width="0.95"/>
<line x1="625.4" y1="230.8" x2="617.5" y2="198.9" stroke="#89aed3" stroke-width="0.95"/>
<line x1="625.4" y1="230.8" x2="586.4" y2="227.7" stroke="#89aed3" stroke-width="0.95"/>
<line x1="625.4" y1="230.8" x2="594.3" y2="258.9" stroke="#86abcf" stroke-width="0.95"/>
<line x1="577.9" y1="214.9" x2="617.5" y2="198.9" stroke="#94bce0" stroke-width="0.95"/>
<line x1="577.9" y1="214.9" x2="586.4" y2="227.7" stroke="#94bce0" stroke-width="0.95"/>
<line x1="577.9" y1="214.9" x2="569.1" y2="183.3" stroke="#94bce0" stroke-width="0.95"/>
<line x1="577.9" y1="214.9" x2="538.5" y2="213.6" stroke="#94bce0" stroke-width="0.95"/>
<line x1="577.9" y1="214.9" x2="547.1" y2="244.5" stroke="#91b8dc" stroke-width="0.95"/>
<line x1="784.5" y1="310" x2="825" y2="310.4" stroke="#557097" stroke-width="0.95"/>
<line x1="784.5" y1="310" x2="791.7" y2="329.5" stroke="#557097" stroke-width="0.95"/>
<line x1="784.5" y1="310" x2="777" y2="293.3" stroke="#557097" stroke-width="0.95"/>
<line x1="784.5" y1="310" x2="744.2" y2="314.5" stroke="#557097" stroke-width="0.95"/>
<line x1="784.5" y1="310" x2="751.4" y2="330.1" stroke="#526d93" stroke-width="0.95"/>
<line x1="736.3" y1="297.2" x2="777" y2="293.3" stroke="#617ea4" stroke-width="0.95"/>
<line x1="736.3" y1="297.2" x2="744.2" y2="314.5" stroke="#617ea4" stroke-width="0.95"/>
<line x1="736.3" y1="297.2" x2="727.9" y2="274.6" stroke="#617ea4" stroke-width="0.95"/>
<line x1="736.3" y1="297.2" x2="695.8" y2="298.2" stroke="#617ea4" stroke-width="0.95"/>
<line x1="736.3" y1="297.2" x2="703.8" y2="319.5" stroke="#5e7aa0" stroke-width="0.95"/>
<line x1="688.6" y1="286.6" x2="727.9" y2="274.6" stroke="#6c8cb1" stroke-width="0.95"/>
<line x1="688.6" y1="286.6" x2="695.8" y2="298.2" stroke="#6c8cb1" stroke-width="0.95"/>
<line x1="688.6" y1="286.6" x2="681.2" y2="258" stroke="#6c8cb1" stroke-width="0.95"/>
<line x1="688.6" y1="286.6" x2="649.4" y2="283.5" stroke="#6c8cb1" stroke-width="0.95"/>
<line x1="688.6" y1="286.6" x2="656.6" y2="311.1" stroke="#6988ae" stroke-width="0.95"/>
<line x1="641.4" y1="273.2" x2="681.2" y2="258" stroke="#7799be" stroke-width="0.95"/>
<line x1="641.4" y1="273.2" x2="649.4" y2="283.5" stroke="#7799be" stroke-width="0.95"/>
<line x1="641.4" y1="273.2" x2="633.3" y2="242" stroke="#7799be" stroke-width="0.95"/>
<line x1="641.4" y1="273.2" x2="602" y2="269.4" stroke="#7799be" stroke-width="0.95"/>
<line x1="641.4" y1="273.2" x2="609.9" y2="299.7" stroke="#7496bb" stroke-width="0.95"/>
<line x1="594.3" y1="258.9" x2="633.3" y2="242" stroke="#83a7cc" stroke-width="0.95"/>
<line x1="594.3" y1="258.9" x2="602" y2="269.4" stroke="#83a7cc" stroke-width="0.95"/>
<line x1="594.3" y1="258.9" x2="586.4" y2="227.7" stroke="#83a7cc" stroke-width="0.95"/>
<line x1="594.3" y1="258.9" x2="555.4" y2="256.6" stroke="#83a7cc" stroke-width="0.95"/>
<line x1="594.3" y1="258.9" x2="563.1" y2="287" stroke="#80a3c8" stroke-width="0.95"/>
<line x1="547.1" y1="244.5" x2="586.4" y2="227.7" stroke="#8eb5d9" stroke-width="0.95"/>
<line x1="547.1" y1="244.5" x2="555.4" y2="256.6" stroke="#8eb5d9" stroke-width="0.95"/>
<line x1="547.1" y1="244.5" x2="538.5" y2="213.6" stroke="#8eb5d9" stroke-width="0.95"/>
<line x1="547.1" y1="244.5" x2="508" y2="243.9" stroke="#8eb5d9" stroke-width="0.95"/>
<line x1="547.1" y1="244.5" x2="516.3" y2="274.1" stroke="#8bb1d5" stroke-width="0.95"/>
<line x1="751.4" y1="330.1" x2="791.7" y2="329.5" stroke="#4f6990" stroke-width="0.95"/>
<line x1="751.4" y1="330.1" x2="758.3" y2="348.7" stroke="#4f6990" stroke-width="0.95"/>
<line x1="751.4" y1="330.1" x2="744.2" y2="314.5" stroke="#4f6990" stroke-width="0.95"/>
<line x1="751.4" y1="330.1" x2="711.4" y2="335.7" stroke="#4f6990" stroke-width="0.95"/>
<line x1="751.4" y1="330.1" x2="718.3" y2="350.2" stroke="#4c668c" stroke-width="0.95"/>
<line x1="703.8" y1="319.5" x2="744.2" y2="314.5" stroke="#5b779d" stroke-width="0.95"/>
<line x1="703.8" y1="319.5" x2="711.4" y2="335.7" stroke="#5b779d" stroke-width="0.95"/>
<line x1="703.8" y1="319.5" x2="695.8" y2="298.2" stroke="#5b779d" stroke-width="0.95"/>
<line x1="703.8" y1="319.5" x2="663.8" y2="321.7" stroke="#5b779d" stroke-width="0.95"/>
<line x1="703.8" y1="319.5" x2="671.3" y2="341.9" stroke="#58739a" stroke-width="0.95"/>
<line x1="656.6" y1="311.1" x2="695.8" y2="298.2" stroke="#6685aa" stroke-width="0.95"/>
<line x1="656.6" y1="311.1" x2="663.8" y2="321.7" stroke="#6685aa" stroke-width="0.95"/>
<line x1="656.6" y1="311.1" x2="649.4" y2="283.5" stroke="#6685aa" stroke-width="0.95"/>
<line x1="656.6" y1="311.1" x2="617.5" y2="309" stroke="#6685aa" stroke-width="0.95"/>
<line x1="656.6" y1="311.1" x2="624.7" y2="335.6" stroke="#6381a7" stroke-width="0.95"/>
<line x1="609.9" y1="299.7" x2="649.4" y2="283.5" stroke="#7192b7" stroke-width="0.95"/>
<line x1="609.9" y1="299.7" x2="617.5" y2="309" stroke="#7192b7" stroke-width="0.95"/>
<line x1="609.9" y1="299.7" x2="602" y2="269.4" stroke="#7192b7" stroke-width="0.95"/>
<line x1="609.9" y1="299.7" x2="570.6" y2="296.7" stroke="#7192b7" stroke-width="0.95"/>
<line x1="609.9" y1="299.7" x2="578.3" y2="326.1" stroke="#6e8fb4" stroke-width="0.95"/>
<line x1="563.1" y1="287" x2="602" y2="269.4" stroke="#7da0c5" stroke-width="0.95"/>
<line x1="563.1" y1="287" x2="570.6" y2="296.7" stroke="#7da0c5" stroke-width="0.95"/>
<line x1="563.1" y1="287" x2="555.4" y2="256.6" stroke="#7da0c5" stroke-width="0.95"/>
<line x1="563.1" y1="287" x2="524.4" y2="285.4" stroke="#7da0c5" stroke-width="0.95"/>
<line x1="563.1" y1="287" x2="531.9" y2="315.1" stroke="#7a9cc1" stroke-width="0.95"/>
<line x1="516.3" y1="274.1" x2="555.4" y2="256.6" stroke="#88add2" stroke-width="0.95"/>
<line x1="516.3" y1="274.1" x2="524.4" y2="285.4" stroke="#88add2" stroke-width="0.95"/>
<line x1="516.3" y1="274.1" x2="508" y2="243.9" stroke="#88add2" stroke-width="0.95"/>
<line x1="516.3" y1="274.1" x2="477.5" y2="274.3" stroke="#88add2" stroke-width="0.95"/>
<line x1="516.3" y1="274.1" x2="485.5" y2="303.6" stroke="#85aace" stroke-width="0.95"/>
<line x1="718.3" y1="350.2" x2="758.3" y2="348.7" stroke="#496289" stroke-width="0.95"/>
<line x1="718.3" y1="350.2" x2="725" y2="367.8" stroke="#496289" stroke-width="0.95"/>
<line x1="718.3" y1="350.2" x2="711.4" y2="335.7" stroke="#496289" stroke-width="0.95"/>
<line x1="718.3" y1="350.2" x2="678.6" y2="356.9" stroke="#496289" stroke-width="0.95"/>
<line x1="718.3" y1="350.2" x2="685.2" y2="370.4" stroke="#465e85" stroke-width="0.95"/>
<line x1="671.3" y1="341.9" x2="711.4" y2="335.7" stroke="#557096" stroke-width="0.95"/>
<line x1="671.3" y1="341.9" x2="678.6" y2="356.9" stroke="#557096" stroke-width="0.95"/>
<line x1="671.3" y1="341.9" x2="663.8" y2="321.7" stroke="#557096" stroke-width="0.95"/>
<line x1="671.3" y1="341.9" x2="631.7" y2="345.3" stroke="#557096" stroke-width="0.95"/>
<line x1="671.3" y1="341.9" x2="638.9" y2="364.3" stroke="#526c93" stroke-width="0.95"/>
<line x1="624.7" y1="335.6" x2="663.8" y2="321.7" stroke="#607da3" stroke-width="0.95"/>
<line x1="624.7" y1="335.6" x2="631.7" y2="345.3" stroke="#607da3" stroke-width="0.95"/>
<line x1="624.7" y1="335.6" x2="617.5" y2="309" stroke="#607da3" stroke-width="0.95"/>
<line x1="624.7" y1="335.6" x2="585.7" y2="334.5" stroke="#607da3" stroke-width="0.95"/>
<line x1="624.7" y1="335.6" x2="592.7" y2="360.2" stroke="#5d7aa0" stroke-width="0.95"/>
<line x1="578.3" y1="326.1" x2="617.5" y2="309" stroke="#6b8bb1" stroke-width="0.95"/>
<line x1="578.3" y1="326.1" x2="585.7" y2="334.5" stroke="#6b8bb1" stroke-width="0.95"/>
<line x1="578.3" y1="326.1" x2="570.6" y2="296.7" stroke="#6b8bb1" stroke-width="0.95"/>
<line x1="578.3" y1="326.1" x2="539.3" y2="324.1" stroke="#6b8bb1" stroke-width="0.95"/>
<line x1="578.3" y1="326.1" x2="546.7" y2="352.5" stroke="#6887ad" stroke-width="0.95"/>
<line x1="531.9" y1="315.1" x2="570.6" y2="296.7" stroke="#7799be" stroke-width="0.95"/>
<line x1="531.9" y1="315.1" x2="539.3" y2="324.1" stroke="#7799be" stroke-width="0.95"/>
<line x1="531.9" y1="315.1" x2="524.4" y2="285.4" stroke="#7799be" stroke-width="0.95"/>
<line x1="531.9" y1="315.1" x2="493.4" y2="314.3" stroke="#7799be" stroke-width="0.95"/>
<line x1="531.9" y1="315.1" x2="500.8" y2="343.2" stroke="#7495ba" stroke-width="0.95"/>
<line x1="485.5" y1="303.6" x2="524.4" y2="285.4" stroke="#82a6cb" stroke-width="0.95"/>
<line x1="485.5" y1="303.6" x2="493.4" y2="314.3" stroke="#82a6cb" stroke-width="0.95"/>
<line x1="485.5" y1="303.6" x2="477.5" y2="274.3" stroke="#82a6cb" stroke-width="0.95"/>
<line x1="485.5" y1="303.6" x2="447" y2="304.6" stroke="#82a6cb" stroke-width="0.95"/>
<line x1="485.5" y1="303.6" x2="454.8" y2="333.2" stroke="#7fa3c8" stroke-width="0.95"/>
<line x1="685.2" y1="370.4" x2="725" y2="367.8" stroke="#435b82" stroke-width="0.95"/>
<line x1="685.2" y1="370.4" x2="691.6" y2="386.9" stroke="#435b82" stroke-width="0.95"/>
<line x1="685.2" y1="370.4" x2="678.6" y2="356.9" stroke="#435b82" stroke-width="0.95"/>
<line x1="685.2" y1="370.4" x2="645.7" y2="378" stroke="#435b82" stroke-width="0.95"/>
<line x1="685.2" y1="370.4" x2="652.1" y2="390.5" stroke="#40577e" stroke-width="0.95"/>
<line x1="638.9" y1="364.3" x2="678.6" y2="356.9" stroke="#4f698f" stroke-width="0.95"/>
<line x1="638.9" y1="364.3" x2="645.7" y2="378" stroke="#4f698f" stroke-width="0.95"/>
<line x1="638.9" y1="364.3" x2="631.7" y2="345.3" stroke="#4f698f" stroke-width="0.95"/>
<line x1="638.9" y1="364.3" x2="599.6" y2="368.8" stroke="#4f698f" stroke-width="0.95"/>
<line x1="638.9" y1="364.3" x2="606.4" y2="386.6" stroke="#4c658c" stroke-width="0.95"/>
<line x1="592.7" y1="360.2" x2="631.7" y2="345.3" stroke="#5a769c" stroke-width="0.95"/>
<line x1="592.7" y1="360.2" x2="599.6" y2="368.8" stroke="#5a769c" stroke-width="0.95"/>
<line x1="592.7" y1="360.2" x2="585.7" y2="334.5" stroke="#5a769c" stroke-width="0.95"/>
<line x1="592.7" y1="360.2" x2="553.9" y2="360.1" stroke="#5a769c" stroke-width="0.95"/>
<line x1="592.7" y1="360.2" x2="560.8" y2="384.7" stroke="#577399" stroke-width="0.95"/>
<line x1="546.7" y1="352.5" x2="585.7" y2="334.5" stroke="#6584aa" stroke-width="0.95"/>
<line x1="546.7" y1="352.5" x2="553.9" y2="360.1" stroke="#6584aa" stroke-width="0.95"/>
<line x1="546.7" y1="352.5" x2="539.3" y2="324.1" stroke="#6584aa" stroke-width="0.95"/>
<line x1="546.7" y1="352.5" x2="508" y2="351.4" stroke="#6584aa" stroke-width="0.95"/>
<line x1="546.7" y1="352.5" x2="515.2" y2="379" stroke="#6280a6" stroke-width="0.95"/>
<line x1="500.8" y1="343.2" x2="539.3" y2="324.1" stroke="#7191b7" stroke-width="0.95"/>
<line x1="500.8" y1="343.2" x2="508" y2="351.4" stroke="#7191b7" stroke-width="0.95"/>
<line x1="500.8" y1="343.2" x2="493.4" y2="314.3" stroke="#7191b7" stroke-width="0.95"/>
<line x1="500.8" y1="343.2" x2="462.3" y2="343.1" stroke="#7191b7" stroke-width="0.95"/>
<line x1="500.8" y1="343.2" x2="469.6" y2="371.3" stroke="#6e8eb3" stroke-width="0.95"/>
<line x1="454.8" y1="333.2" x2="493.4" y2="314.3" stroke="#7c9fc4" stroke-width="0.95"/>
<line x1="454.8" y1="333.2" x2="462.3" y2="343.1" stroke="#7c9fc4" stroke-width="0.95"/>
<line x1="454.8" y1="333.2" x2="447" y2="304.6" stroke="#7c9fc4" stroke-width="0.95"/>
<line x1="454.8" y1="333.2" x2="416.4" y2="334.9" stroke="#7c9fc4" stroke-width="0.95"/>
<line x1="454.8" y1="333.2" x2="424" y2="362.8" stroke="#799cc1" stroke-width="0.95"/>
<line x1="652.1" y1="390.5" x2="691.6" y2="386.9" stroke="#3d547b" stroke-width="0.95"/>
<line x1="652.1" y1="390.5" x2="658.3" y2="406" stroke="#3d547b" stroke-width="0.95"/>
<line x1="652.1" y1="390.5" x2="645.7" y2="378" stroke="#3d547b" stroke-width="0.95"/>
<line x1="652.1" y1="390.5" x2="612.9" y2="399.2" stroke="#3d547b" stroke-width="0.95"/>
<line x1="606.4" y1="386.6" x2="645.7" y2="378" stroke="#496188" stroke-width="0.95"/>
<line x1="606.4" y1="386.6" x2="612.9" y2="399.2" stroke="#496188" stroke-width="0.95"/>
<line x1="606.4" y1="386.6" x2="599.6" y2="368.8" stroke="#496188" stroke-width="0.95"/>
<line x1="606.4" y1="386.6" x2="567.5" y2="392.4" stroke="#496188" stroke-width="0.95"/>
<line x1="560.8" y1="384.7" x2="599.6" y2="368.8" stroke="#546f95" stroke-width="0.95"/>
<line x1="560.8" y1="384.7" x2="567.5" y2="392.4" stroke="#546f95" stroke-width="0.95"/>
<line x1="560.8" y1="384.7" x2="553.9" y2="360.1" stroke="#546f95" stroke-width="0.95"/>
<line x1="560.8" y1="384.7" x2="522.1" y2="385.6" stroke="#546f95" stroke-width="0.95"/>
<line x1="515.2" y1="379" x2="553.9" y2="360.1" stroke="#5f7da3" stroke-width="0.95"/>
<line x1="515.2" y1="379" x2="522.1" y2="385.6" stroke="#5f7da3" stroke-width="0.95"/>
<line x1="515.2" y1="379" x2="508" y2="351.4" stroke="#5f7da3" stroke-width="0.95"/>
<line x1="515.2" y1="379" x2="476.7" y2="378.8" stroke="#5f7da3" stroke-width="0.95"/>
<line x1="469.6" y1="371.3" x2="508" y2="351.4" stroke="#6b8ab0" stroke-width="0.95"/>
<line x1="469.6" y1="371.3" x2="476.7" y2="378.8" stroke="#6b8ab0" stroke-width="0.95"/>
<line x1="469.6" y1="371.3" x2="462.3" y2="343.1" stroke="#6b8ab0" stroke-width="0.95"/>
<line x1="469.6" y1="371.3" x2="431.3" y2="372" stroke="#6b8ab0" stroke-width="0.95"/>
<line x1="424" y1="362.8" x2="462.3" y2="343.1" stroke="#7698bd" stroke-width="0.95"/>
<line x1="424" y1="362.8" x2="431.3" y2="372" stroke="#7698bd" stroke-width="0.95"/>
<line x1="424" y1="362.8" x2="416.4" y2="334.9" stroke="#7698bd" stroke-width="0.95"/>
<line x1="424" y1="362.8" x2="385.9" y2="365.2" stroke="#7698bd" stroke-width="0.95"/>
<line x1="891.7" y1="272.2" x2="842.7" y2="251" stroke="#577299" stroke-width="1.2"/>
<line x1="842.7" y1="251" x2="792.1" y2="227.5" stroke="#6280a6" stroke-width="1.2"/>
<line x1="792.1" y1="227.5" x2="744.8" y2="206.9" stroke="#6e8eb3" stroke-width="1.2"/>
<line x1="744.8" y1="206.9" x2="695.9" y2="187.3" stroke="#799bc0" stroke-width="1.2"/>
<line x1="695.9" y1="187.3" x2="648.5" y2="170" stroke="#84a9ce" stroke-width="1.2"/>
<line x1="648.5" y1="170" x2="599.6" y2="153" stroke="#90b7db" stroke-width="1.2"/>
<line x1="858.4" y1="291.3" x2="809.9" y2="272.2" stroke="#516b92" stroke-width="1.2"/>
<line x1="809.9" y1="272.2" x2="760" y2="251.1" stroke="#5c799f" stroke-width="1.2"/>
<line x1="760" y1="251.1" x2="713" y2="232.4" stroke="#6887ac" stroke-width="1.2"/>
<line x1="713" y1="232.4" x2="664.6" y2="214.7" stroke="#7394b9" stroke-width="1.2"/>
<line x1="664.6" y1="214.7" x2="617.5" y2="198.9" stroke="#7ea2c7" stroke-width="1.2"/>
<line x1="617.5" y1="198.9" x2="569.1" y2="183.3" stroke="#8ab0d4" stroke-width="1.2"/>
<line x1="825" y1="310.4" x2="777" y2="293.3" stroke="#4b648b" stroke-width="1.2"/>
<line x1="777" y1="293.3" x2="727.9" y2="274.6" stroke="#567298" stroke-width="1.2"/>
<line x1="727.9" y1="274.6" x2="681.2" y2="258" stroke="#627fa5" stroke-width="1.2"/>
<line x1="681.2" y1="258" x2="633.3" y2="242" stroke="#6d8db3" stroke-width="1.2"/>
<line x1="633.3" y1="242" x2="586.4" y2="227.7" stroke="#799bc0" stroke-width="1.2"/>
<line x1="586.4" y1="227.7" x2="538.5" y2="213.6" stroke="#84a8cd" stroke-width="1.2"/>
<line x1="791.7" y1="329.5" x2="744.2" y2="314.5" stroke="#455d84" stroke-width="1.2"/>
<line x1="744.2" y1="314.5" x2="695.8" y2="298.2" stroke="#506b91" stroke-width="1.2"/>
<line x1="695.8" y1="298.2" x2="649.4" y2="283.5" stroke="#5c789e" stroke-width="1.2"/>
<line x1="649.4" y1="283.5" x2="602" y2="269.4" stroke="#6786ac" stroke-width="1.2"/>
<line x1="602" y1="269.4" x2="555.4" y2="256.6" stroke="#7394b9" stroke-width="1.2"/>
<line x1="555.4" y1="256.6" x2="508" y2="243.9" stroke="#7ea1c6" stroke-width="1.2"/>
<line x1="758.3" y1="348.7" x2="711.4" y2="335.7" stroke="#3f567d" stroke-width="1.2"/>
<line x1="711.4" y1="335.7" x2="663.8" y2="321.7" stroke="#4a638a" stroke-width="1.2"/>
<line x1="663.8" y1="321.7" x2="617.5" y2="309" stroke="#567197" stroke-width="1.2"/>
<line x1="617.5" y1="309" x2="570.6" y2="296.7" stroke="#617fa5" stroke-width="1.2"/>
<line x1="570.6" y1="296.7" x2="524.4" y2="285.4" stroke="#6d8cb2" stroke-width="1.2"/>
<line x1="524.4" y1="285.4" x2="477.5" y2="274.3" stroke="#789abf" stroke-width="1.2"/>
<line x1="725" y1="367.8" x2="678.6" y2="356.9" stroke="#394f76" stroke-width="1.2"/>
<line x1="678.6" y1="356.9" x2="631.7" y2="345.3" stroke="#445c83" stroke-width="1.2"/>
<line x1="631.7" y1="345.3" x2="585.7" y2="334.5" stroke="#506a90" stroke-width="1.2"/>
<line x1="585.7" y1="334.5" x2="539.3" y2="324.1" stroke="#5b789e" stroke-width="1.2"/>
<line x1="539.3" y1="324.1" x2="493.4" y2="314.3" stroke="#6785ab" stroke-width="1.2"/>
<line x1="493.4" y1="314.3" x2="447" y2="304.6" stroke="#7293b8" stroke-width="1.2"/>
<line x1="691.6" y1="386.9" x2="645.7" y2="378" stroke="#33476f" stroke-width="1.2"/>
<line x1="645.7" y1="378" x2="599.6" y2="368.8" stroke="#3f557c" stroke-width="1.2"/>
<line x1="599.6" y1="368.8" x2="553.9" y2="360.1" stroke="#4a638a" stroke-width="1.2"/>
<line x1="553.9" y1="360.1" x2="508" y2="351.4" stroke="#557097" stroke-width="1.2"/>
<line x1="508" y1="351.4" x2="462.3" y2="343.1" stroke="#617ea4" stroke-width="1.2"/>
<line x1="462.3" y1="343.1" x2="416.4" y2="334.9" stroke="#6c8cb1" stroke-width="1.2"/>
<line x1="658.3" y1="406" x2="612.9" y2="399.2" stroke="#2d4068" stroke-width="1.2"/>
<line x1="612.9" y1="399.2" x2="567.5" y2="392.4" stroke="#394e75" stroke-width="1.2"/>
<line x1="567.5" y1="392.4" x2="522.1" y2="385.6" stroke="#445c83" stroke-width="1.2"/>
<line x1="522.1" y1="385.6" x2="476.7" y2="378.8" stroke="#4f6990" stroke-width="1.2"/>
<line x1="476.7" y1="378.8" x2="431.3" y2="372" stroke="#5b779d" stroke-width="1.2"/>
<line x1="431.3" y1="372" x2="385.9" y2="365.2" stroke="#6685aa" stroke-width="1.2"/>
<line x1="891.7" y1="272.2" x2="858.4" y2="291.3" stroke="#4e688f" stroke-width="1.25"/>
<line x1="858.4" y1="291.3" x2="825" y2="310.4" stroke="#486188" stroke-width="1.25"/>
<line x1="825" y1="310.4" x2="791.7" y2="329.5" stroke="#425a81" stroke-width="1.25"/>
<line x1="791.7" y1="329.5" x2="758.3" y2="348.7" stroke="#3c537a" stroke-width="1.25"/>
<line x1="758.3" y1="348.7" x2="725" y2="367.8" stroke="#364b73" stroke-width="1.25"/>
<line x1="725" y1="367.8" x2="691.6" y2="386.9" stroke="#30446c" stroke-width="1.25"/>
<line x1="691.6" y1="386.9" x2="658.3" y2="406" stroke="#2a3d65" stroke-width="1.25"/>
<line x1="842.7" y1="251" x2="809.9" y2="272.2" stroke="#5a769c" stroke-width="1.25"/>
<line x1="809.9" y1="272.2" x2="777" y2="293.3" stroke="#546f95" stroke-width="1.25"/>
<line x1="777" y1="293.3" x2="744.2" y2="314.5" stroke="#4e678e" stroke-width="1.25"/>
<line x1="744.2" y1="314.5" x2="711.4" y2="335.7" stroke="#486087" stroke-width="1.25"/>
<line x1="711.4" y1="335.7" x2="678.6" y2="356.9" stroke="#425980" stroke-width="1.25"/>
<line x1="678.6" y1="356.9" x2="645.7" y2="378" stroke="#3c5279" stroke-width="1.25"/>
<line x1="645.7" y1="378" x2="612.9" y2="399.2" stroke="#364b72" stroke-width="1.25"/>
<line x1="792.1" y1="227.5" x2="760" y2="251.1" stroke="#6583a9" stroke-width="1.25"/>
<line x1="760" y1="251.1" x2="727.9" y2="274.6" stroke="#5f7ca2" stroke-width="1.25"/>
<line x1="727.9" y1="274.6" x2="695.8" y2="298.2" stroke="#59759b" stroke-width="1.25"/>
<line x1="695.8" y1="298.2" x2="663.8" y2="321.7" stroke="#536e94" stroke-width="1.25"/>
<line x1="663.8" y1="321.7" x2="631.7" y2="345.3" stroke="#4d678d" stroke-width="1.25"/>
<line x1="631.7" y1="345.3" x2="599.6" y2="368.8" stroke="#476086" stroke-width="1.25"/>
<line x1="599.6" y1="368.8" x2="567.5" y2="392.4" stroke="#41587f" stroke-width="1.25"/>
<line x1="744.8" y1="206.9" x2="713" y2="232.4" stroke="#7091b6" stroke-width="1.25"/>
<line x1="713" y1="232.4" x2="681.2" y2="258" stroke="#6a8aaf" stroke-width="1.25"/>
<line x1="681.2" y1="258" x2="649.4" y2="283.5" stroke="#6483a8" stroke-width="1.25"/>
<line x1="649.4" y1="283.5" x2="617.5" y2="309" stroke="#5f7ca2" stroke-width="1.25"/>
<line x1="617.5" y1="309" x2="585.7" y2="334.5" stroke="#59749b" stroke-width="1.25"/>
<line x1="585.7" y1="334.5" x2="553.9" y2="360.1" stroke="#536d94" stroke-width="1.25"/>
<line x1="553.9" y1="360.1" x2="522.1" y2="385.6" stroke="#4d668d" stroke-width="1.25"/>
<line x1="695.9" y1="187.3" x2="664.6" y2="214.7" stroke="#7c9fc4" stroke-width="1.25"/>
<line x1="664.6" y1="214.7" x2="633.3" y2="242" stroke="#7697bd" stroke-width="1.25"/>
<line x1="633.3" y1="242" x2="602" y2="269.4" stroke="#7090b6" stroke-width="1.25"/>
<line x1="602" y1="269.4" x2="570.6" y2="296.7" stroke="#6a89af" stroke-width="1.25"/>
<line x1="570.6" y1="296.7" x2="539.3" y2="324.1" stroke="#6482a8" stroke-width="1.25"/>
<line x1="539.3" y1="324.1" x2="508" y2="351.4" stroke="#5e7ba1" stroke-width="1.25"/>
<line x1="508" y1="351.4" x2="476.7" y2="378.8" stroke="#58749a" stroke-width="1.25"/>
<line x1="648.5" y1="170" x2="617.5" y2="198.9" stroke="#87acd1" stroke-width="1.25"/>
<line x1="617.5" y1="198.9" x2="586.4" y2="227.7" stroke="#81a5ca" stroke-width="1.25"/>
<line x1="586.4" y1="227.7" x2="555.4" y2="256.6" stroke="#7b9ec3" stroke-width="1.25"/>
<line x1="555.4" y1="256.6" x2="524.4" y2="285.4" stroke="#7597bc" stroke-width="1.25"/>
<line x1="524.4" y1="285.4" x2="493.4" y2="314.3" stroke="#6f90b5" stroke-width="1.25"/>
<line x1="493.4" y1="314.3" x2="462.3" y2="343.1" stroke="#6988ae" stroke-width="1.25"/>
<line x1="462.3" y1="343.1" x2="431.3" y2="372" stroke="#6381a7" stroke-width="1.25"/>
<line x1="599.6" y1="153" x2="569.1" y2="183.3" stroke="#93bade" stroke-width="1.0"/>
<line x1="569.1" y1="183.3" x2="538.5" y2="213.6" stroke="#8db3d7" stroke-width="1.0"/>
<line x1="538.5" y1="213.6" x2="508" y2="243.9" stroke="#87acd0" stroke-width="1.0"/>
<line x1="508" y1="243.9" x2="477.5" y2="274.3" stroke="#81a4c9" stroke-width="1.0"/>
<line x1="477.5" y1="274.3" x2="447" y2="304.6" stroke="#7b9dc2" stroke-width="1.0"/>
<line x1="447" y1="304.6" x2="416.4" y2="334.9" stroke="#7596bb" stroke-width="1.0"/>
<line x1="416.4" y1="334.9" x2="385.9" y2="365.2" stroke="#6f8fb4" stroke-width="1.0"/>
<line x1="81.8" y1="17.0" x2="920.4000000000001" y2="17.0" stroke="#000" stroke-width="3"/>
<line x1="83.3" y1="690.3" x2="919.2" y2="690.3" stroke="#000" stroke-width="3"/>
<line x1="83.3" y1="15.5" x2="83.3" y2="691.8" stroke="#0000ff" stroke-width="3"/>
<line x1="919.2" y1="16.0" x2="919.2" y2="691.8" stroke="#d0575b" stroke-width="2.6"/>
<line x1="70.3" y1="690.3" x2="83.3" y2="690.3" stroke="#0000ff" stroke-width="3"/>
<line x1="76.8" y1="623.6" x2="83.3" y2="623.6" stroke="#0000ff" stroke-width="3"/>
<line x1="70.3" y1="556.9" x2="83.3" y2="556.9" stroke="#0000ff" stroke-width="3"/>
<line x1="76.8" y1="490.2" x2="83.3" y2="490.2" stroke="#0000ff" stroke-width="3"/>
<line x1="70.3" y1="423.5" x2="83.3" y2="423.5" stroke="#0000ff" stroke-width="3"/>
<line x1="76.8" y1="356.8" x2="83.3" y2="356.8" stroke="#0000ff" stroke-width="3"/>
<line x1="70.3" y1="290.1" x2="83.3" y2="290.1" stroke="#0000ff" stroke-width="3"/>
<line x1="76.8" y1="223.4" x2="83.3" y2="223.4" stroke="#0000ff" stroke-width="3"/>
<line x1="70.3" y1="156.7" x2="83.3" y2="156.7" stroke="#0000ff" stroke-width="3"/>
<line x1="76.8" y1="90" x2="83.3" y2="90" stroke="#0000ff" stroke-width="3"/>
<line x1="70.3" y1="23.3" x2="83.3" y2="23.3" stroke="#0000ff" stroke-width="3"/>
<line x1="103.6" y1="690.3" x2="103.6" y2="703.3" stroke="#000" stroke-width="3"/>
<line x1="183.1" y1="690.3" x2="183.1" y2="696.8" stroke="#000" stroke-width="3"/>
<line x1="262.6" y1="690.3" x2="262.6" y2="703.3" stroke="#000" stroke-width="3"/>
<line x1="342" y1="690.3" x2="342" y2="696.8" stroke="#000" stroke-width="3"/>
<line x1="421.5" y1="690.3" x2="421.5" y2="703.3" stroke="#000" stroke-width="3"/>
<line x1="501" y1="690.3" x2="501" y2="696.8" stroke="#000" stroke-width="3"/>
<line x1="580.5" y1="690.3" x2="580.5" y2="703.3" stroke="#000" stroke-width="3"/>
<line x1="660" y1="690.3" x2="660" y2="696.8" stroke="#000" stroke-width="3"/>
<line x1="739.4" y1="690.3" x2="739.4" y2="703.3" stroke="#000" stroke-width="3"/>
<line x1="818.9" y1="690.3" x2="818.9" y2="696.8" stroke="#000" stroke-width="3"/>
<line x1="898.4" y1="690.3" x2="898.4" y2="703.3" stroke="#000" stroke-width="3"/>
<line x1="919.2" y1="690.3" x2="932.2" y2="690.3" stroke="#d0575b" stroke-width="2.6"/>
<line x1="919.2" y1="648.2" x2="925.7" y2="648.2" stroke="#d0575b" stroke-width="2.6"/>
<line x1="919.2" y1="606.1" x2="932.2" y2="606.1" stroke="#d0575b" stroke-width="2.6"/>
<line x1="919.2" y1="564.1" x2="925.7" y2="564.1" stroke="#d0575b" stroke-width="2.6"/>
<line x1="919.2" y1="522" x2="932.2" y2="522" stroke="#d0575b" stroke-width="2.6"/>
<line x1="919.2" y1="479.9" x2="925.7" y2="479.9" stroke="#d0575b" stroke-width="2.6"/>
<line x1="919.2" y1="437.8" x2="932.2" y2="437.8" stroke="#d0575b" stroke-width="2.6"/>
<line x1="919.2" y1="395.8" x2="925.7" y2="395.8" stroke="#d0575b" stroke-width="2.6"/>
<line x1="919.2" y1="353.7" x2="932.2" y2="353.7" stroke="#d0575b" stroke-width="2.6"/>
<line x1="919.2" y1="311.6" x2="925.7" y2="311.6" stroke="#d0575b" stroke-width="2.6"/>
<line x1="919.2" y1="269.5" x2="932.2" y2="269.5" stroke="#d0575b" stroke-width="2.6"/>
<line x1="919.2" y1="227.5" x2="925.7" y2="227.5" stroke="#d0575b" stroke-width="2.6"/>
<line x1="919.2" y1="185.4" x2="932.2" y2="185.4" stroke="#d0575b" stroke-width="2.6"/>
<line x1="919.2" y1="143.3" x2="925.7" y2="143.3" stroke="#d0575b" stroke-width="2.6"/>
<line x1="919.2" y1="101.2" x2="932.2" y2="101.2" stroke="#d0575b" stroke-width="2.6"/>
<line x1="919.2" y1="59.2" x2="925.7" y2="59.2" stroke="#d0575b" stroke-width="2.6"/>
<line x1="919.2" y1="17.1" x2="932.2" y2="17.1" stroke="#d0575b" stroke-width="2.6"/>
<text x="61" y="701.3" text-anchor="end" fill="#0000ff" font-size="32">0</text>
<text x="61" y="567.9" text-anchor="end" fill="#0000ff" font-size="32">2</text>
<text x="61" y="434.5" text-anchor="end" fill="#0000ff" font-size="32">4</text>
<text x="61" y="301.1" text-anchor="end" fill="#0000ff" font-size="32">6</text>
<text x="61" y="167.7" text-anchor="end" fill="#0000ff" font-size="32">8</text>
<text x="61" y="34.3" text-anchor="end" fill="#0000ff" font-size="32">10</text>
<text x="103.6" y="737.5" text-anchor="middle" fill="#111" font-size="31">0</text>
<text x="262.6" y="737.5" text-anchor="middle" fill="#111" font-size="31">40</text>
<text x="421.5" y="737.5" text-anchor="middle" fill="#111" font-size="31">80</text>
<text x="580.5" y="737.5" text-anchor="middle" fill="#111" font-size="31">120</text>
<text x="739.4" y="737.5" text-anchor="middle" fill="#111" font-size="31">160</text>
<text x="898.4" y="737.5" text-anchor="middle" fill="#111" font-size="31">200</text>
<text x="941" y="699.6" fill="#df3f4a" font-size="32">0.0</text>
<text x="941" y="615.4" fill="#df3f4a" font-size="32">0.1</text>
<text x="941" y="531.3" fill="#df3f4a" font-size="32">0.2</text>
<text x="941" y="447.1" fill="#df3f4a" font-size="32">0.3</text>
<text x="941" y="363" fill="#df3f4a" font-size="32">0.4</text>
<text x="941" y="278.8" fill="#df3f4a" font-size="32">0.5</text>
<text x="941" y="194.7" fill="#df3f4a" font-size="32">0.6</text>
<text x="941" y="110.5" fill="#df3f4a" font-size="32">0.7</text>
<text x="941" y="26.4" fill="#df3f4a" font-size="32">0.8</text>
<text transform="translate(32.5,353.7) rotate(-90)" text-anchor="middle" fill="#111" font-size="40.8">Objective</text>
<text transform="translate(1013,353) rotate(-90)" text-anchor="middle" fill="#111" font-size="38.5">Constraint</text>
<text x="501" y="781" text-anchor="middle" fill="#111" font-size="38">Iteration</text>
<line x1="626" y1="68" x2="698" y2="68" stroke="#0000ff" stroke-width="3"/>
<line x1="626" y1="107.3" x2="698" y2="107.3" stroke="#ef3b3b" stroke-width="3"/>
<text x="707" y="78.3" fill="#111" font-size="31">Objective</text>
<text x="707" y="117.1" fill="#111" font-size="31">Constraint</text>
<text x="199" y="843.9" fill="#000" font-size="40">(a)</text>
<text x="272.6" y="843.9" fill="#000" font-size="40.4">The optimized convergence curve</text>
<path d="M106.4,59.7 L110,177.6 L112.5,299.5 L114.1,363.7 L116,480 L119.5,600 L122.9,679.8 L126.8,436.3 L131,501.7 L136,567 L140.8,616 L147.4,658.6 L154.9,630.8 L158.8,648.8 L162.5,683.4 L170.7,674.3 L177.1,688.8 L182.9,680 L188.6,685 L197.1,686 L214.3,685.4 L228.6,683.6 L235.7,681.2 L241.4,682.6 L257,681.4 L271.4,680.2 L300,680 L301,680.3 L302,680.5 L303,680.4 L304,680.2 L305,679.9 L306,679.8 L307,679.9 L308,680.2 L309,680.6 L310,680.8 L311,680.8 L312,680.5 L313,680.2 L314,680.1 L315,680.2 L316,680.5 L317,680.8 L318,681.1 L319,681.1 L320,680.9 L321,680.6 L322,680.4 L323,680.4 L324,680.7 L325,681.1 L326,681.3 L327,681.4 L328,681.3 L329,681 L330,680.7 L331,680.7 L332,680.9 L333,681.2 L334,681.5 L335,681.6 L336,681.5 L337,681.2 L338,680.9 L339,680.8 L340,680.9 L341,681.2 L342,681.6 L343,681.7 L344,681.6 L345,681.3 L346,681 L347,680.9 L348,681 L349,681.3 L350,681.6 L351,681.8 L352,681.8 L353,681.5 L354,681.2 L355,681 L356,681.1 L357,681.3 L358,681.7 L359,681.9 L360,681.9 L361,681.7 L362,681.4 L363,681.1 L364,681.1 L365,681.4 L366,681.7 L367,682 L368,682 L369,681.8 L370,681.5 L371,681.3 L372,681.2 L373,681.4 L374,681.8 L375,682.1 L376,682.2 L377,682 L378,681.7 L379,681.4 L380,681.3 L381,681.5 L382,681.8 L383,682.1 L384,682.3 L385,682.2 L386,681.9 L387,681.6 L388,681.4 L389,681.5 L390,681.8 L391,682.2 L392,682.4 L393,682.3 L394,682.1 L395,681.7 L396,681.5 L397,681.6 L398,681.9 L399,682.2 L400,682.5 L401,682.5 L402,682.2 L403,681.9 L404,681.7 L405,681.7 L406,681.9 L407,682.3 L408,682.5 L409,682.6 L410,682.4 L411,682.1 L412,681.8 L413,681.8 L414,682 L415,682.3 L416,682.6 L417,682.7 L418,682.6 L419,682.3 L420,682 L421,681.9 L422,682 L423,682.3 L424,682.7 L425,682.8 L426,682.7 L427,682.4 L428,682.1 L429,682 L430,682.1 L431,682.4 L432,682.7 L433,682.9 L434,682.9 L435,682.6 L436,682.3 L437,682.1 L438,682.1 L439,682.4 L440,682.8 L441,683 L442,683 L443,682.8 L444,682.5 L445,682.2 L446,682.2 L447,682.5 L448,682.8 L449,683.1 L450,683.1 L451,682.9 L452,682.6 L453,682.3 L454,682.2 L455,682.4 L456,682.7 L457,683.1 L458,683.1 L459,683 L460,682.6 L461,682.3 L462,682.2 L463,682.3 L464,682.6 L465,683 L466,683.1 L467,683 L468,682.7 L469,682.3 L470,682.1 L471,682.2 L472,682.5 L473,682.9 L474,683.1 L475,683.1 L476,682.7 L477,682.3 L478,682 L479,682.1 L480,682.4 L481,682.8 L482,683.1 L483,683.1 L484,682.8 L485,682.3 L486,682 L487,682 L488,682.3 L489,682.7 L490,683.1 L491,683.1 L492,682.8 L493,682.4 L494,682 L495,681.9 L496,682.2 L497,682.6 L498,683 L499,683.1 L500,682.9 L501,682.4 L502,682 L503,681.8 L504,682 L505,682.5 L506,682.9 L507,683.1 L508,683 L509,682.5 L510,682 L511,681.8 L512,681.9 L513,682.3 L514,682.9 L515,683.1 L516,683 L517,682.6 L518,682.1 L519,681.7 L520,681.8 L521,682.2 L522,682.7 L523,683.1 L524,683.1 L525,682.7 L526,682.1 L527,681.7 L528,681.7 L529,682 L530,682.6 L531,683.1 L532,683.1 L533,682.8 L534,682.2 L535,681.7 L536,681.6 L537,681.9 L538,682.5 L539,683 L540,683.1 L541,682.9 L542,682.3 L543,681.7 L544,681.5 L545,681.7 L546,682.3 L547,682.9 L548,683.1 L549,682.9 L550,682.4 L551,681.8 L552,681.4 L553,681.6 L554,682.2 L555,682.8 L556,683.1 L557,683 L558,682.5 L559,681.8 L560,681.4 L561,681.5 L562,682 L563,682.6 L564,683.1 L565,683.1 L566,682.6 L567,681.9 L568,681.4 L569,681.4 L570,681.8 L571,682.5 L572,683 L573,683.1 L574,682.7 L575,682 L576,681.4 L577,681.3 L578,681.6 L579,682.3 L580,683 L581,683.1 L582,682.8 L583,682.1 L584,681.4 L585,681.2 L586,681.5 L587,682.2 L588,682.8 L589,683.1 L590,682.9 L591,682.2 L592,681.5 L593,681.1 L594,681.3 L595,682 L596,682.7 L597,683.1 L598,683 L599,682.3 L600,681.6 L601,681.1 L602,681.2 L603,681.8 L604,682.5 L605,683.1 L606,683 L607,682.5 L608,681.7 L609,681.1 L610,681.1 L611,681.6 L612,682.4 L613,683 L614,683.1 L615,682.6 L616,681.8 L617,681.2 L618,681 L619,681.4 L620,682.2 L621,682.9 L622,683.1 L623,682.7 L624,681.9 L625,681.2 L626,680.9 L627,681.3 L628,682 L629,682.7 L630,683 L631,682.8 L632,682.1 L633,681.3 L634,680.9 L635,681.1 L636,681.8 L637,682.6 L638,683 L639,682.8 L640,682.2 L641,681.4 L642,680.9 L643,681 L644,681.6 L645,682.4 L646,682.9 L647,682.9 L648,682.3 L649,681.5 L650,680.9 L651,680.9 L652,681.4 L653,682.2 L654,682.8 L655,682.9 L656,682.4 L657,681.6 L658,681 L659,680.8 L660,681.3 L661,682 L662,682.7 L663,682.9 L664,682.5 L665,681.8 L666,681.1 L667,680.8 L668,681.1 L669,681.8 L670,682.5 L671,682.9 L672,682.6 L673,681.9 L674,681.1 L675,680.8 L676,681 L677,681.6 L678,682.4 L679,682.8 L680,682.7 L681,682 L682,681.2 L683,680.8 L684,680.8 L685,681.4 L686,682.2 L687,682.7 L688,682.7 L689,682.1 L690,681.3 L691,680.8 L692,680.7 L693,681.3 L694,682 L695,682.6 L696,682.7 L697,682.2 L698,681.5 L699,680.8 L700,680.7 L701,681.1 L702,681.9 L703,682.5 L704,682.7 L705,682.4 L706,681.6 L707,680.9 L708,680.7 L709,681 L710,681.7 L711,682.4 L712,682.8 L713,682.5 L714,681.8 L715,681 L716,680.7 L717,680.9 L718,681.5 L719,682.3 L720,682.7 L721,682.6 L722,682 L723,681.2 L724,680.7 L725,680.8 L726,681.4 L727,682.2 L728,682.7 L729,682.7 L730,682.1 L731,681.3 L732,680.8 L733,680.7 L734,681.3 L735,682 L736,682.6 L737,682.7 L738,682.3 L739,681.5 L740,680.8 L741,680.7 L742,681.1 L743,681.9 L744,682.6 L745,682.8 L746,682.4 L747,681.6 L748,680.9 L749,680.7 L750,681 L751,681.7 L752,682.5 L753,682.8 L754,682.5 L755,681.8 L756,681.1 L757,680.7 L758,680.9 L759,681.6 L760,682.3 L761,682.8 L762,682.6 L763,682 L764,681.2 L765,680.7 L766,680.8 L767,681.4 L768,682.2 L769,682.7 L770,682.7 L771,682.1 L772,681.3 L773,680.8 L774,680.7 L775,681.3 L776,682.1 L777,682.7 L778,682.8 L779,682.3 L780,681.5 L781,680.9 L782,680.7 L783,681.1 L784,681.9 L785,682.6 L786,682.8 L787,682.4 L788,681.7 L789,681 L790,680.7 L791,681 L792,681.7 L793,682.5 L794,682.8 L795,682.5 L796,681.8 L797,681.1 L798,680.7 L799,680.9 L800,681.6 L801,682.4 L802,682.8 L803,682.6 L804,682 L805,681.2 L806,680.7 L807,680.8 L808,681.4 L809,682.2 L810,682.7 L811,682.7 L812,682.1 L813,681.4 L814,680.8 L815,680.8 L816,681.3 L817,682.1 L818,682.7 L819,682.8 L820,682.3 L821,681.5 L822,680.9 L823,680.7 L824,681.2 L825,681.9 L826,682.6 L827,682.8 L828,682.4 L829,681.7 L830,681 L831,680.7 L832,681 L833,681.8 L834,682.5 L835,682.8 L836,682.6 L837,681.8 L838,681.1 L839,680.7 L840,680.9 L841,681.6 L842,682.4 L843,682.8 L844,682.7 L845,682 L846,681.2 L847,680.8 L848,680.9 L849,681.5 L850,682.2 L851,682.8 L852,682.7 L853,682.2 L854,681.4 L855,680.8 L856,680.8 L857,681.3 L858,682.1 L859,682.7 L860,682.8 L861,682.3 L862,681.5 L863,680.9 L864,680.8 L865,681.2 L866,681.9 L867,682.6 L868,682.8 L869,682.5 L870,681.7 L871,681 L872,680.7 L873,681.1 L874,681.8 L875,682.5 L876,682.8 L877,682.6 L878,681.9 L879,681.1 L880,680.7 L881,681 L882,681.6 L883,682.4 L884,682.8 L885,682.7 L886,682 L887,681.3 L888,680.8 L889,680.9 L890,681.5 L891,682.3 L892,682.8 L893,682.8 L894,682.2 L895,681.4 L896,680.8 L897,680.8 L898,681.3 L899,682.1" fill="none" stroke="#ef3b3b" stroke-width="3" stroke-linejoin="round"/>
<path d="M220,576.2 L255,578.3 L300,578.8 L400,579.6 L500,579.3 L600,578.9 L700,578.9 L800,578.8 L899,578.8" fill="none" stroke="#1a12c6" stroke-width="3.3" stroke-linejoin="round"/>
<path d="M106.4,23.1 L108.8,60 L111.3,96.3 L116.2,198 L120.2,299.5 L122.5,350 L123.5,354.5 L125.8,357 L128.6,382 L132,424 L137,466 L141,496.8 L143.1,512.2 L145.2,526.2 L146.6,543 L150.8,522.7 L152.9,536 L155,554.1 L158.5,561.1 L163.4,548.5 L167.6,554.1 L171,561.1 L177.3,565.3 L182.9,570.9 L192.7,574.4 L203.9,575.5 L220,576.2" fill="none" stroke="#0000ff" stroke-width="3.2" stroke-linejoin="round"/>
<line x1="898.6" y1="578.5" x2="779" y2="472.5" stroke="#000" stroke-width="3.6"/>
<path d="M773.6,467.6 L791,472.5 L784.5,476 L780,483.5 Z" fill="#000"/>
<rect x="893" y="573" width="12" height="12" fill="#000"/>
<rect x="186" y="112" width="92" height="236" fill="#fff" opacity="0.8"/>
<rect x="145.2" y="124.8" width="26.8" height="18.4" fill="#0a2d6e"/>
<rect x="145.2" y="142.9" width="26.8" height="18.4" fill="#0c55a5"/>
<rect x="145.2" y="161.1" width="26.8" height="18.4" fill="#2070b8"/>
<rect x="145.2" y="179.2" width="26.8" height="18.4" fill="#3d89c8"/>
<rect x="145.2" y="197.4" width="26.8" height="18.4" fill="#4a94cf"/>
<rect x="145.2" y="215.6" width="26.8" height="18.4" fill="#549dd3"/>
<rect x="145.2" y="233.7" width="26.8" height="18.4" fill="#5ea4d6"/>
<rect x="145.2" y="251.9" width="26.8" height="18.4" fill="#9ac6e4"/>
<rect x="145.2" y="270" width="26.8" height="18.4" fill="#c6dbf0"/>
<rect x="145.2" y="288.2" width="26.8" height="18.4" fill="#e2ecf8"/>
<rect x="145.2" y="306.3" width="26.8" height="18.4" fill="#eef4fb"/>
<rect x="145.2" y="324.5" width="26.8" height="18.4" fill="#f7fafd"/>
<line x1="145.2" y1="124.8" x2="172.0" y2="124.8" stroke="#2a2a2a" stroke-width="1"/>
<line x1="172.0" y1="124.8" x2="181" y2="124.8" stroke="#555" stroke-width="1"/>
<line x1="145.2" y1="142.9" x2="172.0" y2="142.9" stroke="#2a2a2a" stroke-width="1"/>
<line x1="172.0" y1="142.9" x2="181" y2="142.9" stroke="#555" stroke-width="1"/>
<line x1="145.2" y1="161.1" x2="172.0" y2="161.1" stroke="#2a2a2a" stroke-width="1"/>
<line x1="172.0" y1="161.1" x2="181" y2="161.1" stroke="#555" stroke-width="1"/>
<line x1="145.2" y1="179.2" x2="172.0" y2="179.2" stroke="#2a2a2a" stroke-width="1"/>
<line x1="172.0" y1="179.2" x2="181" y2="179.2" stroke="#555" stroke-width="1"/>
<line x1="145.2" y1="197.4" x2="172.0" y2="197.4" stroke="#2a2a2a" stroke-width="1"/>
<line x1="172.0" y1="197.4" x2="181" y2="197.4" stroke="#555" stroke-width="1"/>
<line x1="145.2" y1="215.6" x2="172.0" y2="215.6" stroke="#2a2a2a" stroke-width="1"/>
<line x1="172.0" y1="215.6" x2="181" y2="215.6" stroke="#555" stroke-width="1"/>
<line x1="145.2" y1="233.7" x2="172.0" y2="233.7" stroke="#2a2a2a" stroke-width="1"/>
<line x1="172.0" y1="233.7" x2="181" y2="233.7" stroke="#555" stroke-width="1"/>
<line x1="145.2" y1="251.9" x2="172.0" y2="251.9" stroke="#2a2a2a" stroke-width="1"/>
<line x1="172.0" y1="251.9" x2="181" y2="251.9" stroke="#555" stroke-width="1"/>
<line x1="145.2" y1="270" x2="172.0" y2="270" stroke="#2a2a2a" stroke-width="1"/>
<line x1="172.0" y1="270" x2="181" y2="270" stroke="#555" stroke-width="1"/>
<line x1="145.2" y1="288.2" x2="172.0" y2="288.2" stroke="#2a2a2a" stroke-width="1"/>
<line x1="172.0" y1="288.2" x2="181" y2="288.2" stroke="#555" stroke-width="1"/>
<line x1="145.2" y1="306.3" x2="172.0" y2="306.3" stroke="#2a2a2a" stroke-width="1"/>
<line x1="172.0" y1="306.3" x2="181" y2="306.3" stroke="#555" stroke-width="1"/>
<line x1="145.2" y1="324.5" x2="172.0" y2="324.5" stroke="#2a2a2a" stroke-width="1"/>
<line x1="172.0" y1="324.5" x2="181" y2="324.5" stroke="#555" stroke-width="1"/>
<line x1="145.2" y1="342.6" x2="172.0" y2="342.6" stroke="#2a2a2a" stroke-width="1"/>
<line x1="172.0" y1="342.6" x2="181" y2="342.6" stroke="#555" stroke-width="1"/>
<line x1="145.2" y1="124.8" x2="145.2" y2="342.6" stroke="#2a2a2a" stroke-width="1.2"/>
<line x1="172.0" y1="124.8" x2="172.0" y2="342.6" stroke="#2a2a2a" stroke-width="1.2"/>
<text class="cb" x="190.8" y="129.4" font-size="17.6" textLength="84" lengthAdjust="spacingAndGlyphs" fill="#111">398.792</text>
<text class="cb" x="190.8" y="147.5" font-size="17.6" textLength="84" lengthAdjust="spacingAndGlyphs" fill="#111">365.560</text>
<text class="cb" x="190.8" y="165.7" font-size="17.6" textLength="84" lengthAdjust="spacingAndGlyphs" fill="#111">332.327</text>
<text class="cb" x="190.8" y="183.8" font-size="17.6" textLength="84" lengthAdjust="spacingAndGlyphs" fill="#111">299.094</text>
<text class="cb" x="190.8" y="202" font-size="17.6" textLength="84" lengthAdjust="spacingAndGlyphs" fill="#111">265.861</text>
<text class="cb" x="190.8" y="220.2" font-size="17.6" textLength="84" lengthAdjust="spacingAndGlyphs" fill="#111">232.629</text>
<text class="cb" x="190.8" y="238.3" font-size="17.6" textLength="84" lengthAdjust="spacingAndGlyphs" fill="#111">199.396</text>
<text class="cb" x="190.8" y="256.5" font-size="17.6" textLength="84" lengthAdjust="spacingAndGlyphs" fill="#111">166.163</text>
<text class="cb" x="190.8" y="274.6" font-size="17.6" textLength="84" lengthAdjust="spacingAndGlyphs" fill="#111">132.931</text>
<text class="cb" x="191.6" y="292.8" font-size="17.6" textLength="72" lengthAdjust="spacingAndGlyphs" fill="#111">99.698</text>
<text class="cb" x="197.7" y="310.9" font-size="17.6" textLength="72" lengthAdjust="spacingAndGlyphs" fill="#111">66.465</text>
<text class="cb" x="197.7" y="329.1" font-size="17.6" textLength="72" lengthAdjust="spacingAndGlyphs" fill="#111">33.233</text>
<text class="cb" x="203.8" y="347.2" font-size="17.6" textLength="60" lengthAdjust="spacingAndGlyphs" fill="#111">0.000</text>
<text class="cb" x="146" y="106.2" font-size="16.8" textLength="137" lengthAdjust="spacingAndGlyphs" fill="#111">U, Magnitude</text>
<defs><linearGradient id="go" x1="0" y1="0" x2="0" y2="1"><stop offset="0" stop-color="#fcc895"/><stop offset="1" stop-color="#f9933a"/></linearGradient><linearGradient id="gg" x1="0" y1="0" x2="0" y2="1"><stop offset="0" stop-color="#a0d99e"/><stop offset="1" stop-color="#6ec46e"/></linearGradient></defs>
<line x1="1186.6" y1="555.4" x2="2000.8" y2="555.4" stroke="#ececec" stroke-width="1.2"/>
<line x1="1186.6" y1="424.1" x2="2000.8" y2="424.1" stroke="#9a9a9a" stroke-width="1.2"/>
<line x1="1186.6" y1="292.9" x2="2000.8" y2="292.9" stroke="#9a9a9a" stroke-width="1.2"/>
<line x1="1186.6" y1="161.6" x2="2000.8" y2="161.6" stroke="#9a9a9a" stroke-width="1.2"/>
<rect x="1197.5" y="161.6" width="40.6" height="525.1" fill="url(#go)" stroke="#1a1a1a" stroke-width="1.3"/>
<rect x="1238.1" y="201.5" width="40.7" height="485.2" fill="url(#gg)" stroke="#1a1a1a" stroke-width="1.3"/>
<rect x="1299.1" y="161.6" width="40.6" height="525.1" fill="url(#go)" stroke="#1a1a1a" stroke-width="1.3"/>
<rect x="1339.7" y="274.5" width="40.7" height="412.2" fill="url(#gg)" stroke="#1a1a1a" stroke-width="1.3"/>
<rect x="1400.7" y="161.6" width="40.6" height="525.1" fill="url(#go)" stroke="#1a1a1a" stroke-width="1.3"/>
<rect x="1441.3" y="316.8" width="40.7" height="369.9" fill="url(#gg)" stroke="#1a1a1a" stroke-width="1.3"/>
<rect x="1502.3" y="161.6" width="40.6" height="525.1" fill="url(#go)" stroke="#1a1a1a" stroke-width="1.3"/>
<rect x="1542.9" y="337.3" width="40.7" height="349.4" fill="url(#gg)" stroke="#1a1a1a" stroke-width="1.3"/>
<rect x="1603.9" y="161.6" width="40.6" height="525.1" fill="url(#go)" stroke="#1a1a1a" stroke-width="1.3"/>
<rect x="1644.5" y="340.3" width="40.7" height="346.4" fill="url(#gg)" stroke="#1a1a1a" stroke-width="1.3"/>
<rect x="1705.5" y="161.6" width="40.6" height="525.1" fill="url(#go)" stroke="#1a1a1a" stroke-width="1.3"/>
<rect x="1746.1" y="326.3" width="40.7" height="360.4" fill="url(#gg)" stroke="#1a1a1a" stroke-width="1.3"/>
<rect x="1807.1" y="161.6" width="40.6" height="525.1" fill="url(#go)" stroke="#1a1a1a" stroke-width="1.3"/>
<rect x="1847.7" y="291.8" width="40.7" height="394.9" fill="url(#gg)" stroke="#1a1a1a" stroke-width="1.3"/>
<rect x="1908.7" y="161.6" width="40.6" height="525.1" fill="url(#go)" stroke="#1a1a1a" stroke-width="1.3"/>
<rect x="1949.3" y="223.8" width="40.7" height="462.9" fill="url(#gg)" stroke="#1a1a1a" stroke-width="1.3"/>
<line x1="1186.6" y1="30.3" x2="2002.0" y2="30.3" stroke="#000" stroke-width="2.8"/>
<line x1="1174.6" y1="686.7" x2="2002.0" y2="686.7" stroke="#000" stroke-width="2.8"/>
<line x1="1186.6" y1="28.900000000000002" x2="1186.6" y2="688.1" stroke="#000" stroke-width="2.8"/>
<line x1="2000.8" y1="28.900000000000002" x2="2000.8" y2="688.1" stroke="#000" stroke-width="2.8"/>
<line x1="1174.6" y1="686.7" x2="1186.6" y2="686.7" stroke="#000" stroke-width="2.8"/>
<line x1="1180.6" y1="621.1" x2="1186.6" y2="621.1" stroke="#000" stroke-width="2.8"/>
<line x1="1174.6" y1="555.4" x2="1186.6" y2="555.4" stroke="#000" stroke-width="2.8"/>
<line x1="1180.6" y1="489.8" x2="1186.6" y2="489.8" stroke="#000" stroke-width="2.8"/>
<line x1="1174.6" y1="424.1" x2="1186.6" y2="424.1" stroke="#000" stroke-width="2.8"/>
<line x1="1180.6" y1="358.5" x2="1186.6" y2="358.5" stroke="#000" stroke-width="2.8"/>
<line x1="1174.6" y1="292.9" x2="1186.6" y2="292.9" stroke="#000" stroke-width="2.8"/>
<line x1="1180.6" y1="227.2" x2="1186.6" y2="227.2" stroke="#000" stroke-width="2.8"/>
<line x1="1174.6" y1="161.6" x2="1186.6" y2="161.6" stroke="#000" stroke-width="2.8"/>
<line x1="1180.6" y1="95.9" x2="1186.6" y2="95.9" stroke="#000" stroke-width="2.8"/>
<line x1="1174.6" y1="30.3" x2="1186.6" y2="30.3" stroke="#000" stroke-width="2.8"/>
<line x1="1988.3" y1="686.7" x2="2000.8" y2="686.7" stroke="#000" stroke-width="2.8"/>
<line x1="1994.8" y1="621.1" x2="2000.8" y2="621.1" stroke="#000" stroke-width="2.8"/>
<line x1="1988.3" y1="555.4" x2="2000.8" y2="555.4" stroke="#000" stroke-width="2.8"/>
<line x1="1994.8" y1="489.8" x2="2000.8" y2="489.8" stroke="#000" stroke-width="2.8"/>
<line x1="1988.3" y1="424.1" x2="2000.8" y2="424.1" stroke="#000" stroke-width="2.8"/>
<line x1="1994.8" y1="358.5" x2="2000.8" y2="358.5" stroke="#000" stroke-width="2.8"/>
<line x1="1988.3" y1="292.9" x2="2000.8" y2="292.9" stroke="#000" stroke-width="2.8"/>
<line x1="1994.8" y1="227.2" x2="2000.8" y2="227.2" stroke="#000" stroke-width="2.8"/>
<line x1="1988.3" y1="161.6" x2="2000.8" y2="161.6" stroke="#000" stroke-width="2.8"/>
<line x1="1994.8" y1="95.9" x2="2000.8" y2="95.9" stroke="#000" stroke-width="2.8"/>
<line x1="1988.3" y1="30.3" x2="2000.8" y2="30.3" stroke="#000" stroke-width="2.8"/>
<line x1="1187.3" y1="686.7" x2="1187.3" y2="692.7" stroke="#000" stroke-width="2.8"/>
<line x1="1238.1" y1="686.7" x2="1238.1" y2="700.7" stroke="#000" stroke-width="2.8"/>
<line x1="1288.9" y1="686.7" x2="1288.9" y2="692.7" stroke="#000" stroke-width="2.8"/>
<line x1="1339.7" y1="686.7" x2="1339.7" y2="700.7" stroke="#000" stroke-width="2.8"/>
<line x1="1390.5" y1="686.7" x2="1390.5" y2="692.7" stroke="#000" stroke-width="2.8"/>
<line x1="1441.3" y1="686.7" x2="1441.3" y2="700.7" stroke="#000" stroke-width="2.8"/>
<line x1="1492.1" y1="686.7" x2="1492.1" y2="692.7" stroke="#000" stroke-width="2.8"/>
<line x1="1542.9" y1="686.7" x2="1542.9" y2="700.7" stroke="#000" stroke-width="2.8"/>
<line x1="1593.7" y1="686.7" x2="1593.7" y2="692.7" stroke="#000" stroke-width="2.8"/>
<line x1="1644.5" y1="686.7" x2="1644.5" y2="700.7" stroke="#000" stroke-width="2.8"/>
<line x1="1695.3" y1="686.7" x2="1695.3" y2="692.7" stroke="#000" stroke-width="2.8"/>
<line x1="1746.1" y1="686.7" x2="1746.1" y2="700.7" stroke="#000" stroke-width="2.8"/>
<line x1="1796.9" y1="686.7" x2="1796.9" y2="692.7" stroke="#000" stroke-width="2.8"/>
<line x1="1847.7" y1="686.7" x2="1847.7" y2="700.7" stroke="#000" stroke-width="2.8"/>
<line x1="1898.5" y1="686.7" x2="1898.5" y2="692.7" stroke="#000" stroke-width="2.8"/>
<line x1="1949.3" y1="686.7" x2="1949.3" y2="700.7" stroke="#000" stroke-width="2.8"/>
<line x1="2000.1" y1="686.7" x2="2000.1" y2="692.7" stroke="#000" stroke-width="2.8"/>
<path d="M1238.1,627.4 L1339.7,398.7 L1441.3,267.3 L1542.9,203.8 L1644.5,192.1 L1746.1,234 L1847.7,345 L1949.3,558" fill="none" stroke="#0d1a8a" stroke-width="2.4"/>
<circle cx="1238.1" cy="627.4" r="4.6" fill="#ff0000"/>
<circle cx="1339.7" cy="398.7" r="4.6" fill="#ff0000"/>
<circle cx="1441.3" cy="267.3" r="4.6" fill="#ff0000"/>
<circle cx="1542.9" cy="203.8" r="4.6" fill="#ff0000"/>
<circle cx="1644.5" cy="192.1" r="4.6" fill="#ff0000"/>
<circle cx="1746.1" cy="234" r="4.6" fill="#ff0000"/>
<circle cx="1847.7" cy="345" r="4.6" fill="#ff0000"/>
<circle cx="1949.3" cy="558" r="4.6" fill="#ff0000"/>
<text x="1165" y="697.5" text-anchor="end" fill="#000" font-size="34.6">380</text>
<text x="1165" y="566.2" text-anchor="end" fill="#000" font-size="34.6">385</text>
<text x="1165" y="434.9" text-anchor="end" fill="#000" font-size="34.6">390</text>
<text x="1165" y="303.7" text-anchor="end" fill="#000" font-size="34.6">395</text>
<text x="1165" y="172.4" text-anchor="end" fill="#000" font-size="34.6">400</text>
<text x="1165" y="41.1" text-anchor="end" fill="#000" font-size="34.6">405</text>
<text x="2014" y="697.3" fill="#000" font-size="34.6">0.2</text>
<text x="2014" y="566" fill="#000" font-size="34.6">0.6</text>
<text x="2014" y="434.7" fill="#000" font-size="34.6">1.0</text>
<text x="2014" y="303.5" fill="#000" font-size="34.6">1.4</text>
<text x="2014" y="172.2" fill="#000" font-size="34.6">1.8</text>
<text x="2014" y="40.9" fill="#000" font-size="34.6">2.2</text>
<text x="1238.1" y="722.4" text-anchor="middle" fill="#000" font-size="32.5">1</text>
<text x="1339.7" y="722.4" text-anchor="middle" fill="#000" font-size="32.5">2</text>
<text x="1441.3" y="722.4" text-anchor="middle" fill="#000" font-size="32.5">3</text>
<text x="1542.9" y="722.4" text-anchor="middle" fill="#000" font-size="32.5">4</text>
<text x="1644.5" y="722.4" text-anchor="middle" fill="#000" font-size="32.5">5</text>
<text x="1746.1" y="722.4" text-anchor="middle" fill="#000" font-size="32.5">6</text>
<text x="1847.7" y="722.4" text-anchor="middle" fill="#000" font-size="32.5">7</text>
<text x="1949.3" y="722.4" text-anchor="middle" fill="#000" font-size="32.5">8</text>
<text x="1594" y="769.3" text-anchor="middle" fill="#000" font-size="37.1">The Number of Control Point</text>
<text transform="translate(1107.5,356.5) rotate(-90)" text-anchor="middle" fill="#000" font-size="37.05">Deformation(mm)</text>
<text transform="translate(2089,357.5) rotate(-90)" text-anchor="middle" fill="#000" font-size="37">Relative Error(%)</text>
<rect x="1554" y="44.3" width="67.3" height="32.6" fill="url(#go)" stroke="#1a1a1a" stroke-width="1.3"/>
<rect x="1554" y="83" width="67.3" height="31.7" fill="url(#gg)" stroke="#1a1a1a" stroke-width="1.3"/>
<line x1="1553" y1="137.5" x2="1622" y2="137.5" stroke="#0d1a8a" stroke-width="2.4"/>
<circle cx="1587.3" cy="137.5" r="4.6" fill="#ff0000"/>
<text x="1631.6" y="72" fill="#000" font-size="30.6">Target Deformation</text>
<text x="1631.6" y="108.5" fill="#000" font-size="30.6">Optimized Deformation</text>
<text x="1631.6" y="147" fill="#000" font-size="30.6">Relative Error(%)</text>
<text x="1261.5" y="843.3" fill="#000" font-size="40">(b)</text>
<text x="1348.4" y="843.3" fill="#000" font-size="40.2">The deformation and relative error</text>
</svg>
</body></html>
